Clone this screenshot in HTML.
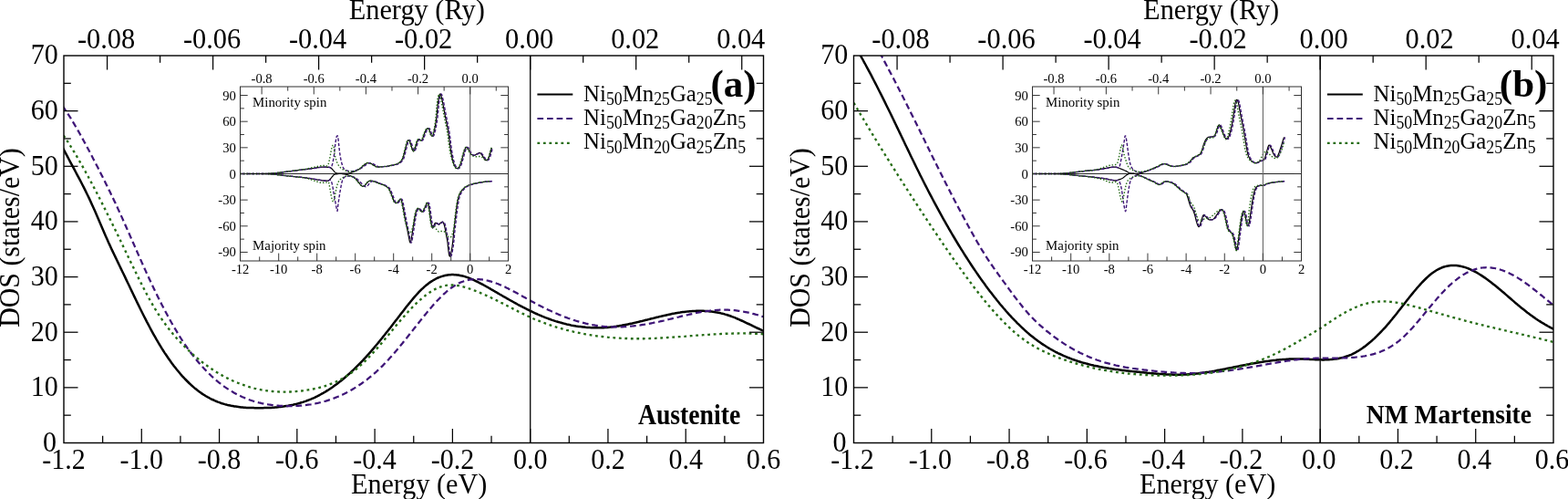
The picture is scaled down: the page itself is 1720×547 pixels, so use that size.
<!DOCTYPE html>
<html><head><meta charset="utf-8"><title>DOS</title>
<style>html,body{margin:0;padding:0;background:#fff}svg{display:block}</style></head>
<body>
<svg width="1720" height="547" viewBox="0 0 1720 547" font-family="'Liberation Serif', 'Times New Roman', serif" fill="#000">
<rect width="1720" height="547" fill="#fff"/>
<clipPath id="clipa"><rect x="70.00" y="61.00" width="767.50" height="424.50"/></clipPath>
<g clip-path="url(#clipa)" fill="none" stroke-linejoin="round">
<path d="M62.0 148.1 L63.5 151.2 L65.0 154.3 L66.5 157.3 L68.0 160.2 L69.5 163.2 L71.0 166.0 L72.5 168.9 L74.0 171.7 L75.5 174.5 L77.0 177.3 L78.5 180.1 L80.0 182.9 L81.5 185.7 L83.0 188.5 L84.5 191.3 L86.0 194.1 L87.5 196.9 L89.0 199.8 L90.5 202.7 L92.0 205.6 L93.5 208.6 L95.0 211.7 L96.5 214.7 L98.0 217.9 L99.5 221.1 L101.0 224.4 L102.5 227.7 L104.0 231.1 L105.5 234.5 L107.0 238.0 L108.5 241.5 L110.0 245.0 L111.5 248.5 L113.0 252.0 L114.5 255.5 L116.0 258.9 L117.5 262.3 L119.0 265.7 L120.5 268.9 L122.0 272.2 L123.5 275.4 L125.0 278.5 L126.5 281.6 L128.0 284.8 L129.5 287.9 L131.0 291.0 L132.5 294.1 L134.0 297.2 L135.5 300.3 L137.0 303.4 L138.5 306.6 L140.0 309.7 L141.5 312.8 L143.0 316.0 L144.5 319.1 L146.0 322.2 L147.5 325.4 L149.0 328.5 L150.5 331.6 L152.0 334.6 L153.5 337.7 L155.0 340.7 L156.5 343.7 L158.0 346.7 L159.5 349.6 L161.0 352.6 L162.5 355.4 L164.0 358.3 L165.5 361.1 L167.0 363.9 L168.5 366.6 L170.0 369.2 L171.5 371.9 L173.0 374.4 L174.5 377.0 L176.0 379.4 L177.5 381.9 L179.0 384.2 L180.5 386.6 L182.0 388.8 L183.5 391.0 L185.0 393.2 L186.5 395.3 L188.0 397.4 L189.5 399.4 L191.0 401.4 L192.5 403.3 L194.0 405.2 L195.5 407.0 L197.0 408.8 L198.5 410.6 L200.0 412.3 L201.5 413.9 L203.0 415.5 L204.5 417.0 L206.0 418.5 L207.5 420.0 L209.0 421.4 L210.5 422.8 L212.0 424.1 L213.5 425.4 L215.0 426.6 L216.5 427.8 L218.0 428.9 L219.5 430.0 L221.0 431.1 L222.5 432.1 L224.0 433.0 L225.5 434.0 L227.0 434.8 L228.5 435.7 L230.0 436.5 L231.5 437.3 L233.0 438.0 L234.5 438.7 L236.0 439.4 L237.5 440.0 L239.0 440.6 L240.5 441.1 L242.0 441.7 L243.5 442.2 L245.0 442.6 L246.5 443.1 L248.0 443.5 L249.5 443.9 L251.0 444.2 L252.5 444.5 L254.0 444.9 L255.5 445.1 L257.0 445.4 L258.5 445.6 L260.0 445.8 L261.5 446.0 L263.0 446.2 L264.5 446.4 L266.0 446.5 L267.5 446.7 L269.0 446.8 L270.5 446.9 L272.0 446.9 L273.5 447.0 L275.0 447.1 L276.5 447.1 L278.0 447.1 L279.5 447.2 L281.0 447.2 L282.5 447.2 L284.0 447.2 L285.5 447.2 L287.0 447.2 L288.5 447.2 L290.0 447.1 L291.5 447.1 L293.0 447.1 L294.5 447.0 L296.0 446.9 L297.5 446.9 L299.0 446.8 L300.5 446.7 L302.0 446.5 L303.5 446.4 L305.0 446.3 L306.5 446.1 L308.0 445.9 L309.5 445.8 L311.0 445.6 L312.5 445.3 L314.0 445.1 L315.5 444.9 L317.0 444.6 L318.5 444.3 L320.0 444.0 L321.5 443.7 L323.0 443.3 L324.5 443.0 L326.0 442.6 L327.5 442.2 L329.0 441.8 L330.5 441.3 L332.0 440.9 L333.5 440.4 L335.0 439.9 L336.5 439.3 L338.0 438.8 L339.5 438.2 L341.0 437.6 L342.5 436.9 L344.0 436.3 L345.5 435.6 L347.0 434.8 L348.5 434.1 L350.0 433.3 L351.5 432.5 L353.0 431.7 L354.5 430.9 L356.0 430.0 L357.5 429.1 L359.0 428.1 L360.5 427.2 L362.0 426.2 L363.5 425.2 L365.0 424.2 L366.5 423.1 L368.0 422.0 L369.5 420.9 L371.0 419.8 L372.5 418.6 L374.0 417.4 L375.5 416.2 L377.0 415.0 L378.5 413.7 L380.0 412.4 L381.5 411.1 L383.0 409.8 L384.5 408.4 L386.0 407.0 L387.5 405.6 L389.0 404.2 L390.5 402.7 L392.0 401.2 L393.5 399.7 L395.0 398.2 L396.5 396.6 L398.0 395.1 L399.5 393.4 L401.0 391.8 L402.5 390.2 L404.0 388.5 L405.5 386.8 L407.0 385.1 L408.5 383.3 L410.0 381.6 L411.5 379.8 L413.0 378.0 L414.5 376.2 L416.0 374.4 L417.5 372.5 L419.0 370.7 L420.5 368.8 L422.0 367.0 L423.5 365.1 L425.0 363.2 L426.5 361.3 L428.0 359.4 L429.5 357.4 L431.0 355.5 L432.5 353.6 L434.0 351.6 L435.5 349.7 L437.0 347.7 L438.5 345.8 L440.0 343.8 L441.5 341.9 L443.0 340.0 L444.5 338.0 L446.0 336.1 L447.5 334.2 L449.0 332.4 L450.5 330.5 L452.0 328.7 L453.5 326.9 L455.0 325.2 L456.5 323.5 L458.0 321.8 L459.5 320.2 L461.0 318.7 L462.5 317.2 L464.0 315.8 L465.5 314.4 L467.0 313.1 L468.5 311.9 L470.0 310.7 L471.5 309.6 L473.0 308.6 L474.5 307.7 L476.0 306.8 L477.5 306.0 L479.0 305.2 L480.5 304.5 L482.0 303.9 L483.5 303.4 L485.0 302.9 L486.5 302.4 L488.0 302.1 L489.5 301.8 L491.0 301.5 L492.5 301.3 L494.0 301.2 L495.5 301.1 L497.0 301.1 L498.5 301.2 L500.0 301.3 L501.5 301.4 L503.0 301.6 L504.5 301.9 L506.0 302.2 L507.5 302.5 L509.0 302.9 L510.5 303.4 L512.0 303.9 L513.5 304.4 L515.0 305.0 L516.5 305.6 L518.0 306.2 L519.5 306.9 L521.0 307.6 L522.5 308.3 L524.0 309.0 L525.5 309.8 L527.0 310.6 L528.5 311.4 L530.0 312.2 L531.5 313.0 L533.0 313.8 L534.5 314.7 L536.0 315.5 L537.5 316.4 L539.0 317.3 L540.5 318.1 L542.0 319.0 L543.5 319.9 L545.0 320.7 L546.5 321.6 L548.0 322.5 L549.5 323.3 L551.0 324.2 L552.5 325.1 L554.0 325.9 L555.5 326.8 L557.0 327.6 L558.5 328.5 L560.0 329.3 L561.5 330.2 L563.0 331.0 L564.5 331.8 L566.0 332.6 L567.5 333.5 L569.0 334.3 L570.5 335.1 L572.0 335.9 L573.5 336.7 L575.0 337.4 L576.5 338.2 L578.0 339.0 L579.5 339.7 L581.0 340.5 L582.5 341.2 L584.0 341.9 L585.5 342.6 L587.0 343.3 L588.5 344.0 L590.0 344.7 L591.5 345.3 L593.0 345.9 L594.5 346.6 L596.0 347.2 L597.5 347.8 L599.0 348.4 L600.5 348.9 L602.0 349.5 L603.5 350.0 L605.0 350.6 L606.5 351.1 L608.0 351.6 L609.5 352.1 L611.0 352.5 L612.5 353.0 L614.0 353.4 L615.5 353.8 L617.0 354.2 L618.5 354.6 L620.0 355.0 L621.5 355.4 L623.0 355.7 L624.5 356.0 L626.0 356.4 L627.5 356.7 L629.0 356.9 L630.5 357.2 L632.0 357.5 L633.5 357.7 L635.0 357.9 L636.5 358.1 L638.0 358.3 L639.5 358.5 L641.0 358.6 L642.5 358.8 L644.0 358.9 L645.5 359.0 L647.0 359.1 L648.5 359.2 L650.0 359.3 L651.5 359.3 L653.0 359.3 L654.5 359.3 L656.0 359.3 L657.5 359.3 L659.0 359.3 L660.5 359.2 L662.0 359.2 L663.5 359.1 L665.0 359.0 L666.5 358.9 L668.0 358.7 L669.5 358.6 L671.0 358.4 L672.5 358.3 L674.0 358.1 L675.5 357.9 L677.0 357.6 L678.5 357.4 L680.0 357.1 L681.5 356.9 L683.0 356.6 L684.5 356.3 L686.0 356.0 L687.5 355.7 L689.0 355.4 L690.5 355.1 L692.0 354.8 L693.5 354.5 L695.0 354.1 L696.5 353.8 L698.0 353.4 L699.5 353.1 L701.0 352.7 L702.5 352.3 L704.0 352.0 L705.5 351.6 L707.0 351.2 L708.5 350.8 L710.0 350.5 L711.5 350.1 L713.0 349.7 L714.5 349.3 L716.0 349.0 L717.5 348.6 L719.0 348.2 L720.5 347.8 L722.0 347.5 L723.5 347.1 L725.0 346.8 L726.5 346.4 L728.0 346.1 L729.5 345.7 L731.0 345.4 L732.5 345.1 L734.0 344.7 L735.5 344.4 L737.0 344.1 L738.5 343.8 L740.0 343.6 L741.5 343.3 L743.0 343.0 L744.5 342.8 L746.0 342.6 L747.5 342.3 L749.0 342.1 L750.5 341.9 L752.0 341.7 L753.5 341.6 L755.0 341.4 L756.5 341.3 L758.0 341.2 L759.5 341.1 L761.0 341.0 L762.5 340.9 L764.0 340.8 L765.5 340.8 L767.0 340.8 L768.5 340.8 L770.0 340.8 L771.5 340.8 L773.0 340.9 L774.5 341.0 L776.0 341.1 L777.5 341.2 L779.0 341.4 L780.5 341.5 L782.0 341.7 L783.5 341.9 L785.0 342.2 L786.5 342.4 L788.0 342.7 L789.5 343.0 L791.0 343.4 L792.5 343.7 L794.0 344.1 L795.5 344.6 L797.0 345.0 L798.5 345.5 L800.0 346.0 L801.5 346.5 L803.0 347.1 L804.5 347.6 L806.0 348.2 L807.5 348.8 L809.0 349.5 L810.5 350.1 L812.0 350.8 L813.5 351.5 L815.0 352.2 L816.5 352.9 L818.0 353.6 L819.5 354.3 L821.0 355.0 L822.5 355.7 L824.0 356.4 L825.5 357.2 L827.0 357.9 L828.5 358.6 L830.0 359.3 L831.5 360.0 L833.0 360.7 L834.5 361.4 L836.0 362.1 L837.5 362.7 L839.0 363.4 L840.5 364.0 L842.0 364.7 L843.5 365.3 L845.0 365.8" stroke="#000" stroke-width="2.5"/>
<path d="M62.0 107.6 L63.5 109.4 L65.0 111.3 L66.5 113.3 L68.0 115.3 L69.5 117.4 L71.0 119.6 L72.5 121.8 L74.0 124.1 L75.5 126.4 L77.0 128.7 L78.5 131.2 L80.0 133.6 L81.5 136.1 L83.0 138.7 L84.5 141.2 L86.0 143.9 L87.5 146.5 L89.0 149.2 L90.5 151.9 L92.0 154.7 L93.5 157.4 L95.0 160.2 L96.5 163.0 L98.0 165.8 L99.5 168.7 L101.0 171.5 L102.5 174.4 L104.0 177.3 L105.5 180.2 L107.0 183.1 L108.5 186.0 L110.0 189.0 L111.5 191.9 L113.0 194.9 L114.5 197.9 L116.0 200.9 L117.5 203.9 L119.0 207.0 L120.5 210.1 L122.0 213.2 L123.5 216.3 L125.0 219.5 L126.5 222.6 L128.0 225.8 L129.5 229.1 L131.0 232.3 L132.5 235.6 L134.0 238.9 L135.5 242.3 L137.0 245.6 L138.5 249.0 L140.0 252.4 L141.5 255.7 L143.0 259.1 L144.5 262.6 L146.0 266.0 L147.5 269.4 L149.0 272.8 L150.5 276.2 L152.0 279.6 L153.5 283.0 L155.0 286.4 L156.5 289.7 L158.0 293.1 L159.5 296.4 L161.0 299.7 L162.5 302.9 L164.0 306.2 L165.5 309.4 L167.0 312.6 L168.5 315.7 L170.0 318.9 L171.5 321.9 L173.0 325.0 L174.5 328.0 L176.0 331.0 L177.5 333.9 L179.0 336.8 L180.5 339.7 L182.0 342.5 L183.5 345.3 L185.0 348.1 L186.5 350.8 L188.0 353.5 L189.5 356.1 L191.0 358.7 L192.5 361.2 L194.0 363.7 L195.5 366.2 L197.0 368.6 L198.5 371.0 L200.0 373.3 L201.5 375.5 L203.0 377.8 L204.5 379.9 L206.0 382.1 L207.5 384.1 L209.0 386.2 L210.5 388.2 L212.0 390.1 L213.5 392.0 L215.0 393.9 L216.5 395.7 L218.0 397.5 L219.5 399.3 L221.0 401.0 L222.5 402.6 L224.0 404.2 L225.5 405.8 L227.0 407.4 L228.5 408.9 L230.0 410.3 L231.5 411.8 L233.0 413.2 L234.5 414.5 L236.0 415.8 L237.5 417.1 L239.0 418.4 L240.5 419.6 L242.0 420.7 L243.5 421.9 L245.0 423.0 L246.5 424.1 L248.0 425.1 L249.5 426.1 L251.0 427.1 L252.5 428.0 L254.0 428.9 L255.5 429.8 L257.0 430.7 L258.5 431.5 L260.0 432.3 L261.5 433.1 L263.0 433.8 L264.5 434.5 L266.0 435.2 L267.5 435.8 L269.0 436.5 L270.5 437.1 L272.0 437.7 L273.5 438.2 L275.0 438.7 L276.5 439.2 L278.0 439.7 L279.5 440.2 L281.0 440.6 L282.5 441.0 L284.0 441.4 L285.5 441.7 L287.0 442.1 L288.5 442.4 L290.0 442.7 L291.5 443.0 L293.0 443.2 L294.5 443.5 L296.0 443.7 L297.5 443.9 L299.0 444.1 L300.5 444.3 L302.0 444.4 L303.5 444.6 L305.0 444.7 L306.5 444.8 L308.0 444.9 L309.5 444.9 L311.0 445.0 L312.5 445.1 L314.0 445.1 L315.5 445.1 L317.0 445.1 L318.5 445.1 L320.0 445.1 L321.5 445.1 L323.0 445.0 L324.5 445.0 L326.0 444.9 L327.5 444.8 L329.0 444.7 L330.5 444.6 L332.0 444.4 L333.5 444.3 L335.0 444.1 L336.5 443.9 L338.0 443.7 L339.5 443.5 L341.0 443.3 L342.5 443.0 L344.0 442.8 L345.5 442.5 L347.0 442.2 L348.5 441.9 L350.0 441.5 L351.5 441.2 L353.0 440.8 L354.5 440.4 L356.0 440.0 L357.5 439.6 L359.0 439.1 L360.5 438.6 L362.0 438.1 L363.5 437.6 L365.0 437.1 L366.5 436.5 L368.0 435.9 L369.5 435.3 L371.0 434.7 L372.5 434.1 L374.0 433.4 L375.5 432.7 L377.0 432.0 L378.5 431.3 L380.0 430.5 L381.5 429.7 L383.0 428.9 L384.5 428.1 L386.0 427.2 L387.5 426.3 L389.0 425.4 L390.5 424.5 L392.0 423.5 L393.5 422.5 L395.0 421.5 L396.5 420.5 L398.0 419.4 L399.5 418.3 L401.0 417.2 L402.5 416.1 L404.0 414.9 L405.5 413.7 L407.0 412.5 L408.5 411.2 L410.0 409.9 L411.5 408.6 L413.0 407.3 L414.5 405.9 L416.0 404.5 L417.5 403.0 L419.0 401.6 L420.5 400.1 L422.0 398.5 L423.5 397.0 L425.0 395.4 L426.5 393.8 L428.0 392.1 L429.5 390.4 L431.0 388.7 L432.5 387.0 L434.0 385.2 L435.5 383.5 L437.0 381.7 L438.5 379.9 L440.0 378.0 L441.5 376.2 L443.0 374.3 L444.5 372.5 L446.0 370.6 L447.5 368.7 L449.0 366.8 L450.5 364.9 L452.0 363.0 L453.5 361.1 L455.0 359.2 L456.5 357.3 L458.0 355.4 L459.5 353.5 L461.0 351.6 L462.5 349.8 L464.0 347.9 L465.5 346.0 L467.0 344.2 L468.5 342.4 L470.0 340.6 L471.5 338.8 L473.0 337.1 L474.5 335.3 L476.0 333.6 L477.5 332.0 L479.0 330.3 L480.5 328.7 L482.0 327.2 L483.5 325.7 L485.0 324.2 L486.5 322.7 L488.0 321.4 L489.5 320.0 L491.0 318.7 L492.5 317.5 L494.0 316.3 L495.5 315.2 L497.0 314.2 L498.5 313.2 L500.0 312.3 L501.5 311.4 L503.0 310.6 L504.5 309.9 L506.0 309.3 L507.5 308.7 L509.0 308.2 L510.5 307.7 L512.0 307.3 L513.5 307.0 L515.0 306.7 L516.5 306.4 L518.0 306.3 L519.5 306.1 L521.0 306.1 L522.5 306.1 L524.0 306.1 L525.5 306.2 L527.0 306.3 L528.5 306.4 L530.0 306.6 L531.5 306.9 L533.0 307.2 L534.5 307.5 L536.0 307.9 L537.5 308.3 L539.0 308.7 L540.5 309.2 L542.0 309.7 L543.5 310.2 L545.0 310.8 L546.5 311.3 L548.0 312.0 L549.5 312.6 L551.0 313.3 L552.5 313.9 L554.0 314.6 L555.5 315.4 L557.0 316.1 L558.5 316.9 L560.0 317.6 L561.5 318.4 L563.0 319.2 L564.5 320.0 L566.0 320.8 L567.5 321.6 L569.0 322.5 L570.5 323.3 L572.0 324.1 L573.5 325.0 L575.0 325.8 L576.5 326.6 L578.0 327.5 L579.5 328.3 L581.0 329.1 L582.5 330.0 L584.0 330.8 L585.5 331.6 L587.0 332.4 L588.5 333.2 L590.0 334.0 L591.5 334.7 L593.0 335.5 L594.5 336.3 L596.0 337.0 L597.5 337.7 L599.0 338.5 L600.5 339.2 L602.0 339.9 L603.5 340.6 L605.0 341.3 L606.5 342.0 L608.0 342.6 L609.5 343.3 L611.0 343.9 L612.5 344.6 L614.0 345.2 L615.5 345.8 L617.0 346.4 L618.5 347.0 L620.0 347.6 L621.5 348.1 L623.0 348.7 L624.5 349.2 L626.0 349.8 L627.5 350.3 L629.0 350.8 L630.5 351.2 L632.0 351.7 L633.5 352.2 L635.0 352.6 L636.5 353.0 L638.0 353.5 L639.5 353.8 L641.0 354.2 L642.5 354.6 L644.0 354.9 L645.5 355.3 L647.0 355.6 L648.5 355.9 L650.0 356.2 L651.5 356.4 L653.0 356.7 L654.5 356.9 L656.0 357.1 L657.5 357.3 L659.0 357.5 L660.5 357.7 L662.0 357.8 L663.5 358.0 L665.0 358.1 L666.5 358.2 L668.0 358.2 L669.5 358.3 L671.0 358.4 L672.5 358.4 L674.0 358.4 L675.5 358.4 L677.0 358.4 L678.5 358.4 L680.0 358.4 L681.5 358.3 L683.0 358.3 L684.5 358.2 L686.0 358.1 L687.5 358.0 L689.0 357.9 L690.5 357.8 L692.0 357.6 L693.5 357.5 L695.0 357.3 L696.5 357.1 L698.0 357.0 L699.5 356.8 L701.0 356.6 L702.5 356.4 L704.0 356.1 L705.5 355.9 L707.0 355.7 L708.5 355.4 L710.0 355.2 L711.5 354.9 L713.0 354.6 L714.5 354.3 L716.0 354.0 L717.5 353.7 L719.0 353.4 L720.5 353.1 L722.0 352.8 L723.5 352.5 L725.0 352.1 L726.5 351.8 L728.0 351.5 L729.5 351.1 L731.0 350.8 L732.5 350.4 L734.0 350.0 L735.5 349.7 L737.0 349.3 L738.5 348.9 L740.0 348.6 L741.5 348.2 L743.0 347.8 L744.5 347.5 L746.0 347.1 L747.5 346.7 L749.0 346.4 L750.5 346.0 L752.0 345.7 L753.5 345.3 L755.0 345.0 L756.5 344.6 L758.0 344.3 L759.5 344.0 L761.0 343.6 L762.5 343.3 L764.0 343.0 L765.5 342.7 L767.0 342.5 L768.5 342.2 L770.0 341.9 L771.5 341.7 L773.0 341.4 L774.5 341.2 L776.0 341.0 L777.5 340.8 L779.0 340.6 L780.5 340.4 L782.0 340.3 L783.5 340.1 L785.0 340.0 L786.5 339.9 L788.0 339.8 L789.5 339.7 L791.0 339.7 L792.5 339.6 L794.0 339.6 L795.5 339.6 L797.0 339.7 L798.5 339.7 L800.0 339.8 L801.5 339.9 L803.0 340.0 L804.5 340.1 L806.0 340.2 L807.5 340.4 L809.0 340.6 L810.5 340.8 L812.0 341.0 L813.5 341.3 L815.0 341.5 L816.5 341.8 L818.0 342.1 L819.5 342.4 L821.0 342.7 L822.5 343.1 L824.0 343.4 L825.5 343.8 L827.0 344.2 L828.5 344.6 L830.0 345.0 L831.5 345.4 L833.0 345.9 L834.5 346.4 L836.0 346.8 L837.5 347.3 L839.0 347.8 L840.5 348.3 L842.0 348.9 L843.5 349.4 L845.0 350.0" stroke="#3f1678" stroke-width="2.25" stroke-dasharray="6.7 3.8"/>
<path d="M62.0 138.0 L63.5 140.0 L65.0 142.0 L66.5 144.0 L68.0 146.1 L69.5 148.2 L71.0 150.4 L72.5 152.6 L74.0 154.9 L75.5 157.2 L77.0 159.6 L78.5 162.0 L80.0 164.4 L81.5 166.9 L83.0 169.4 L84.5 171.9 L86.0 174.5 L87.5 177.1 L89.0 179.7 L90.5 182.4 L92.0 185.0 L93.5 187.8 L95.0 190.5 L96.5 193.3 L98.0 196.0 L99.5 198.8 L101.0 201.7 L102.5 204.5 L104.0 207.4 L105.5 210.2 L107.0 213.1 L108.5 216.0 L110.0 219.0 L111.5 221.9 L113.0 224.9 L114.5 227.9 L116.0 230.8 L117.5 233.9 L119.0 236.9 L120.5 239.9 L122.0 242.9 L123.5 246.0 L125.0 249.1 L126.5 252.1 L128.0 255.2 L129.5 258.3 L131.0 261.4 L132.5 264.5 L134.0 267.7 L135.5 270.8 L137.0 273.9 L138.5 277.1 L140.0 280.2 L141.5 283.3 L143.0 286.4 L144.5 289.5 L146.0 292.6 L147.5 295.7 L149.0 298.8 L150.5 301.9 L152.0 304.9 L153.5 307.9 L155.0 310.9 L156.5 313.9 L158.0 316.8 L159.5 319.7 L161.0 322.5 L162.5 325.3 L164.0 328.0 L165.5 330.7 L167.0 333.3 L168.5 335.9 L170.0 338.4 L171.5 340.8 L173.0 343.2 L174.5 345.5 L176.0 347.7 L177.5 349.9 L179.0 352.1 L180.5 354.2 L182.0 356.2 L183.5 358.2 L185.0 360.2 L186.5 362.1 L188.0 363.9 L189.5 365.8 L191.0 367.5 L192.5 369.3 L194.0 371.0 L195.5 372.6 L197.0 374.2 L198.5 375.8 L200.0 377.4 L201.5 378.9 L203.0 380.4 L204.5 381.9 L206.0 383.3 L207.5 384.7 L209.0 386.1 L210.5 387.5 L212.0 388.8 L213.5 390.1 L215.0 391.4 L216.5 392.7 L218.0 393.9 L219.5 395.1 L221.0 396.3 L222.5 397.5 L224.0 398.6 L225.5 399.7 L227.0 400.8 L228.5 401.9 L230.0 403.0 L231.5 404.0 L233.0 405.0 L234.5 406.0 L236.0 407.0 L237.5 407.9 L239.0 408.8 L240.5 409.7 L242.0 410.6 L243.5 411.4 L245.0 412.3 L246.5 413.1 L248.0 413.9 L249.5 414.6 L251.0 415.4 L252.5 416.1 L254.0 416.8 L255.5 417.5 L257.0 418.2 L258.5 418.8 L260.0 419.4 L261.5 420.0 L263.0 420.6 L264.5 421.2 L266.0 421.7 L267.5 422.2 L269.0 422.8 L270.5 423.2 L272.0 423.7 L273.5 424.2 L275.0 424.6 L276.5 425.0 L278.0 425.4 L279.5 425.8 L281.0 426.1 L282.5 426.5 L284.0 426.8 L285.5 427.1 L287.0 427.4 L288.5 427.6 L290.0 427.9 L291.5 428.1 L293.0 428.3 L294.5 428.5 L296.0 428.7 L297.5 428.9 L299.0 429.0 L300.5 429.1 L302.0 429.2 L303.5 429.3 L305.0 429.4 L306.5 429.5 L308.0 429.5 L309.5 429.6 L311.0 429.6 L312.5 429.6 L314.0 429.6 L315.5 429.6 L317.0 429.5 L318.5 429.5 L320.0 429.4 L321.5 429.3 L323.0 429.2 L324.5 429.1 L326.0 428.9 L327.5 428.8 L329.0 428.6 L330.5 428.5 L332.0 428.3 L333.5 428.1 L335.0 427.9 L336.5 427.6 L338.0 427.4 L339.5 427.2 L341.0 426.9 L342.5 426.6 L344.0 426.3 L345.5 426.0 L347.0 425.7 L348.5 425.3 L350.0 425.0 L351.5 424.6 L353.0 424.2 L354.5 423.7 L356.0 423.3 L357.5 422.8 L359.0 422.3 L360.5 421.8 L362.0 421.2 L363.5 420.6 L365.0 420.0 L366.5 419.4 L368.0 418.7 L369.5 418.0 L371.0 417.3 L372.5 416.6 L374.0 415.8 L375.5 415.0 L377.0 414.1 L378.5 413.2 L380.0 412.3 L381.5 411.3 L383.0 410.3 L384.5 409.3 L386.0 408.2 L387.5 407.1 L389.0 406.0 L390.5 404.8 L392.0 403.5 L393.5 402.2 L395.0 400.9 L396.5 399.6 L398.0 398.2 L399.5 396.7 L401.0 395.3 L402.5 393.8 L404.0 392.3 L405.5 390.7 L407.0 389.1 L408.5 387.5 L410.0 385.9 L411.5 384.2 L413.0 382.6 L414.5 380.9 L416.0 379.1 L417.5 377.4 L419.0 375.7 L420.5 373.9 L422.0 372.1 L423.5 370.3 L425.0 368.5 L426.5 366.7 L428.0 364.9 L429.5 363.0 L431.0 361.2 L432.5 359.4 L434.0 357.6 L435.5 355.8 L437.0 354.0 L438.5 352.3 L440.0 350.5 L441.5 348.8 L443.0 347.1 L444.5 345.4 L446.0 343.7 L447.5 342.0 L449.0 340.4 L450.5 338.8 L452.0 337.2 L453.5 335.7 L455.0 334.2 L456.5 332.7 L458.0 331.3 L459.5 329.9 L461.0 328.6 L462.5 327.3 L464.0 326.0 L465.5 324.8 L467.0 323.6 L468.5 322.5 L470.0 321.4 L471.5 320.4 L473.0 319.4 L474.5 318.5 L476.0 317.7 L477.5 316.9 L479.0 316.2 L480.5 315.5 L482.0 314.9 L483.5 314.4 L485.0 313.9 L486.5 313.5 L488.0 313.1 L489.5 312.9 L491.0 312.7 L492.5 312.6 L494.0 312.5 L495.5 312.5 L497.0 312.5 L498.5 312.6 L500.0 312.8 L501.5 313.0 L503.0 313.2 L504.5 313.5 L506.0 313.8 L507.5 314.2 L509.0 314.6 L510.5 315.0 L512.0 315.5 L513.5 316.0 L515.0 316.5 L516.5 317.0 L518.0 317.5 L519.5 318.1 L521.0 318.7 L522.5 319.3 L524.0 319.9 L525.5 320.5 L527.0 321.1 L528.5 321.8 L530.0 322.4 L531.5 323.1 L533.0 323.7 L534.5 324.4 L536.0 325.1 L537.5 325.8 L539.0 326.5 L540.5 327.2 L542.0 328.0 L543.5 328.7 L545.0 329.4 L546.5 330.2 L548.0 330.9 L549.5 331.7 L551.0 332.4 L552.5 333.2 L554.0 334.0 L555.5 334.7 L557.0 335.5 L558.5 336.3 L560.0 337.1 L561.5 337.8 L563.0 338.6 L564.5 339.4 L566.0 340.1 L567.5 340.9 L569.0 341.7 L570.5 342.4 L572.0 343.2 L573.5 343.9 L575.0 344.6 L576.5 345.4 L578.0 346.1 L579.5 346.8 L581.0 347.5 L582.5 348.1 L584.0 348.8 L585.5 349.5 L587.0 350.1 L588.5 350.7 L590.0 351.3 L591.5 351.9 L593.0 352.5 L594.5 353.1 L596.0 353.7 L597.5 354.2 L599.0 354.8 L600.5 355.3 L602.0 355.9 L603.5 356.4 L605.0 356.9 L606.5 357.4 L608.0 357.9 L609.5 358.3 L611.0 358.8 L612.5 359.2 L614.0 359.7 L615.5 360.1 L617.0 360.5 L618.5 361.0 L620.0 361.4 L621.5 361.8 L623.0 362.1 L624.5 362.5 L626.0 362.9 L627.5 363.2 L629.0 363.6 L630.5 363.9 L632.0 364.3 L633.5 364.6 L635.0 364.9 L636.5 365.2 L638.0 365.5 L639.5 365.8 L641.0 366.1 L642.5 366.4 L644.0 366.6 L645.5 366.9 L647.0 367.1 L648.5 367.4 L650.0 367.6 L651.5 367.8 L653.0 368.1 L654.5 368.3 L656.0 368.5 L657.5 368.7 L659.0 368.9 L660.5 369.0 L662.0 369.2 L663.5 369.4 L665.0 369.5 L666.5 369.7 L668.0 369.8 L669.5 370.0 L671.0 370.1 L672.5 370.2 L674.0 370.3 L675.5 370.4 L677.0 370.5 L678.5 370.6 L680.0 370.7 L681.5 370.8 L683.0 370.9 L684.5 370.9 L686.0 371.0 L687.5 371.0 L689.0 371.1 L690.5 371.1 L692.0 371.2 L693.5 371.2 L695.0 371.2 L696.5 371.2 L698.0 371.2 L699.5 371.2 L701.0 371.2 L702.5 371.2 L704.0 371.2 L705.5 371.2 L707.0 371.2 L708.5 371.1 L710.0 371.1 L711.5 371.1 L713.0 371.0 L714.5 371.0 L716.0 370.9 L717.5 370.8 L719.0 370.8 L720.5 370.7 L722.0 370.6 L723.5 370.6 L725.0 370.5 L726.5 370.4 L728.0 370.3 L729.5 370.2 L731.0 370.1 L732.5 370.0 L734.0 369.9 L735.5 369.9 L737.0 369.7 L738.5 369.6 L740.0 369.5 L741.5 369.4 L743.0 369.3 L744.5 369.2 L746.0 369.1 L747.5 369.0 L749.0 368.9 L750.5 368.8 L752.0 368.7 L753.5 368.5 L755.0 368.4 L756.5 368.3 L758.0 368.2 L759.5 368.1 L761.0 368.0 L762.5 367.9 L764.0 367.7 L765.5 367.6 L767.0 367.5 L768.5 367.4 L770.0 367.3 L771.5 367.2 L773.0 367.1 L774.5 367.0 L776.0 366.9 L777.5 366.8 L779.0 366.7 L780.5 366.6 L782.0 366.5 L783.5 366.4 L785.0 366.3 L786.5 366.2 L788.0 366.1 L789.5 366.1 L791.0 366.0 L792.5 365.9 L794.0 365.9 L795.5 365.8 L797.0 365.7 L798.5 365.7 L800.0 365.6 L801.5 365.6 L803.0 365.6 L804.5 365.5 L806.0 365.5 L807.5 365.5 L809.0 365.5 L810.5 365.4 L812.0 365.4 L813.5 365.4 L815.0 365.4 L816.5 365.4 L818.0 365.5 L819.5 365.5 L821.0 365.5 L822.5 365.6 L824.0 365.6 L825.5 365.7 L827.0 365.7 L828.5 365.8 L830.0 365.9 L831.5 365.9 L833.0 366.0 L834.5 366.1 L836.0 366.2 L837.5 366.4 L839.0 366.5 L840.5 366.6 L842.0 366.8 L843.5 366.9 L845.0 367.1" stroke="#266d16" stroke-width="2.35" stroke-dasharray="2.8 3.7"/>
</g>
<line x1="581.67" y1="61.00" x2="581.67" y2="485.50" stroke="#111" stroke-width="1.4" />
<rect x="70.00" y="61.00" width="767.50" height="424.50" fill="none" stroke="#000" stroke-width="1.4"/>
<text x="70.00" y="514.40" font-size="32.4" text-anchor="middle" textLength="47.49" lengthAdjust="spacingAndGlyphs">-1.2</text>
<line x1="112.64" y1="485.50" x2="112.64" y2="477.70" stroke="#000" stroke-width="1.25" />
<line x1="155.28" y1="485.50" x2="155.28" y2="470.00" stroke="#000" stroke-width="1.25" />
<text x="155.28" y="514.40" font-size="32.4" text-anchor="middle" textLength="47.49" lengthAdjust="spacingAndGlyphs">-1.0</text>
<line x1="197.92" y1="485.50" x2="197.92" y2="477.70" stroke="#000" stroke-width="1.25" />
<line x1="240.56" y1="485.50" x2="240.56" y2="470.00" stroke="#000" stroke-width="1.25" />
<text x="240.56" y="514.40" font-size="32.4" text-anchor="middle" textLength="47.49" lengthAdjust="spacingAndGlyphs">-0.8</text>
<line x1="283.19" y1="485.50" x2="283.19" y2="477.70" stroke="#000" stroke-width="1.25" />
<line x1="325.83" y1="485.50" x2="325.83" y2="470.00" stroke="#000" stroke-width="1.25" />
<text x="325.83" y="514.40" font-size="32.4" text-anchor="middle" textLength="47.49" lengthAdjust="spacingAndGlyphs">-0.6</text>
<line x1="368.47" y1="485.50" x2="368.47" y2="477.70" stroke="#000" stroke-width="1.25" />
<line x1="411.11" y1="485.50" x2="411.11" y2="470.00" stroke="#000" stroke-width="1.25" />
<text x="411.11" y="514.40" font-size="32.4" text-anchor="middle" textLength="47.49" lengthAdjust="spacingAndGlyphs">-0.4</text>
<line x1="453.75" y1="485.50" x2="453.75" y2="477.70" stroke="#000" stroke-width="1.25" />
<line x1="496.39" y1="485.50" x2="496.39" y2="470.00" stroke="#000" stroke-width="1.25" />
<text x="496.39" y="514.40" font-size="32.4" text-anchor="middle" textLength="47.49" lengthAdjust="spacingAndGlyphs">-0.2</text>
<line x1="539.03" y1="485.50" x2="539.03" y2="477.70" stroke="#000" stroke-width="1.25" />
<line x1="581.67" y1="485.50" x2="581.67" y2="470.00" stroke="#000" stroke-width="1.25" />
<text x="581.67" y="514.40" font-size="32.4" text-anchor="middle" textLength="37.50" lengthAdjust="spacingAndGlyphs">0.0</text>
<line x1="624.31" y1="485.50" x2="624.31" y2="477.70" stroke="#000" stroke-width="1.25" />
<line x1="666.94" y1="485.50" x2="666.94" y2="470.00" stroke="#000" stroke-width="1.25" />
<text x="666.94" y="514.40" font-size="32.4" text-anchor="middle" textLength="37.50" lengthAdjust="spacingAndGlyphs">0.2</text>
<line x1="709.58" y1="485.50" x2="709.58" y2="477.70" stroke="#000" stroke-width="1.25" />
<line x1="752.22" y1="485.50" x2="752.22" y2="470.00" stroke="#000" stroke-width="1.25" />
<text x="752.22" y="514.40" font-size="32.4" text-anchor="middle" textLength="37.50" lengthAdjust="spacingAndGlyphs">0.4</text>
<line x1="794.86" y1="485.50" x2="794.86" y2="477.70" stroke="#000" stroke-width="1.25" />
<text x="837.50" y="514.40" font-size="32.4" text-anchor="middle" textLength="37.50" lengthAdjust="spacingAndGlyphs">0.6</text>
<line x1="117.56" y1="61.00" x2="117.56" y2="76.50" stroke="#000" stroke-width="1.25" />
<text x="116.56" y="53.00" font-size="32.4" text-anchor="middle" textLength="63.24" lengthAdjust="spacingAndGlyphs">-0.08</text>
<line x1="175.57" y1="61.00" x2="175.57" y2="68.80" stroke="#000" stroke-width="1.25" />
<line x1="233.59" y1="61.00" x2="233.59" y2="76.50" stroke="#000" stroke-width="1.25" />
<text x="232.59" y="53.00" font-size="32.4" text-anchor="middle" textLength="63.24" lengthAdjust="spacingAndGlyphs">-0.06</text>
<line x1="291.60" y1="61.00" x2="291.60" y2="68.80" stroke="#000" stroke-width="1.25" />
<line x1="349.61" y1="61.00" x2="349.61" y2="76.50" stroke="#000" stroke-width="1.25" />
<text x="348.61" y="53.00" font-size="32.4" text-anchor="middle" textLength="63.24" lengthAdjust="spacingAndGlyphs">-0.04</text>
<line x1="407.63" y1="61.00" x2="407.63" y2="68.80" stroke="#000" stroke-width="1.25" />
<line x1="465.64" y1="61.00" x2="465.64" y2="76.50" stroke="#000" stroke-width="1.25" />
<text x="464.64" y="53.00" font-size="32.4" text-anchor="middle" textLength="63.24" lengthAdjust="spacingAndGlyphs">-0.02</text>
<line x1="523.65" y1="61.00" x2="523.65" y2="68.80" stroke="#000" stroke-width="1.25" />
<line x1="581.67" y1="61.00" x2="581.67" y2="76.50" stroke="#000" stroke-width="1.25" />
<text x="580.67" y="53.00" font-size="32.4" text-anchor="middle" textLength="53.13" lengthAdjust="spacingAndGlyphs">0.00</text>
<line x1="639.68" y1="61.00" x2="639.68" y2="68.80" stroke="#000" stroke-width="1.25" />
<line x1="697.69" y1="61.00" x2="697.69" y2="76.50" stroke="#000" stroke-width="1.25" />
<text x="696.69" y="53.00" font-size="32.4" text-anchor="middle" textLength="53.13" lengthAdjust="spacingAndGlyphs">0.02</text>
<line x1="755.71" y1="61.00" x2="755.71" y2="68.80" stroke="#000" stroke-width="1.25" />
<line x1="813.72" y1="61.00" x2="813.72" y2="76.50" stroke="#000" stroke-width="1.25" />
<text x="812.72" y="53.00" font-size="32.4" text-anchor="middle" textLength="53.13" lengthAdjust="spacingAndGlyphs">0.04</text>
<text x="62.00" y="494.90" font-size="32.4" text-anchor="end" textLength="15.00" lengthAdjust="spacingAndGlyphs">0</text>
<line x1="70.00" y1="455.18" x2="77.80" y2="455.18" stroke="#000" stroke-width="1.25" />
<line x1="837.50" y1="455.18" x2="829.70" y2="455.18" stroke="#000" stroke-width="1.25" />
<line x1="70.00" y1="424.86" x2="85.50" y2="424.86" stroke="#000" stroke-width="1.25" />
<line x1="837.50" y1="424.86" x2="822.00" y2="424.86" stroke="#000" stroke-width="1.25" />
<text x="63.70" y="434.26" font-size="32.4" text-anchor="end" textLength="30.00" lengthAdjust="spacingAndGlyphs">10</text>
<line x1="70.00" y1="394.54" x2="77.80" y2="394.54" stroke="#000" stroke-width="1.25" />
<line x1="837.50" y1="394.54" x2="829.70" y2="394.54" stroke="#000" stroke-width="1.25" />
<line x1="70.00" y1="364.21" x2="85.50" y2="364.21" stroke="#000" stroke-width="1.25" />
<line x1="837.50" y1="364.21" x2="822.00" y2="364.21" stroke="#000" stroke-width="1.25" />
<text x="63.70" y="373.61" font-size="32.4" text-anchor="end" textLength="30.00" lengthAdjust="spacingAndGlyphs">20</text>
<line x1="70.00" y1="333.89" x2="77.80" y2="333.89" stroke="#000" stroke-width="1.25" />
<line x1="837.50" y1="333.89" x2="829.70" y2="333.89" stroke="#000" stroke-width="1.25" />
<line x1="70.00" y1="303.57" x2="85.50" y2="303.57" stroke="#000" stroke-width="1.25" />
<line x1="837.50" y1="303.57" x2="822.00" y2="303.57" stroke="#000" stroke-width="1.25" />
<text x="63.70" y="312.97" font-size="32.4" text-anchor="end" textLength="30.00" lengthAdjust="spacingAndGlyphs">30</text>
<line x1="70.00" y1="273.25" x2="77.80" y2="273.25" stroke="#000" stroke-width="1.25" />
<line x1="837.50" y1="273.25" x2="829.70" y2="273.25" stroke="#000" stroke-width="1.25" />
<line x1="70.00" y1="242.93" x2="85.50" y2="242.93" stroke="#000" stroke-width="1.25" />
<line x1="837.50" y1="242.93" x2="822.00" y2="242.93" stroke="#000" stroke-width="1.25" />
<text x="63.70" y="252.33" font-size="32.4" text-anchor="end" textLength="30.00" lengthAdjust="spacingAndGlyphs">40</text>
<line x1="70.00" y1="212.61" x2="77.80" y2="212.61" stroke="#000" stroke-width="1.25" />
<line x1="837.50" y1="212.61" x2="829.70" y2="212.61" stroke="#000" stroke-width="1.25" />
<line x1="70.00" y1="182.29" x2="85.50" y2="182.29" stroke="#000" stroke-width="1.25" />
<line x1="837.50" y1="182.29" x2="822.00" y2="182.29" stroke="#000" stroke-width="1.25" />
<text x="63.70" y="191.69" font-size="32.4" text-anchor="end" textLength="30.00" lengthAdjust="spacingAndGlyphs">50</text>
<line x1="70.00" y1="151.96" x2="77.80" y2="151.96" stroke="#000" stroke-width="1.25" />
<line x1="837.50" y1="151.96" x2="829.70" y2="151.96" stroke="#000" stroke-width="1.25" />
<line x1="70.00" y1="121.64" x2="85.50" y2="121.64" stroke="#000" stroke-width="1.25" />
<line x1="837.50" y1="121.64" x2="822.00" y2="121.64" stroke="#000" stroke-width="1.25" />
<text x="63.70" y="131.04" font-size="32.4" text-anchor="end" textLength="30.00" lengthAdjust="spacingAndGlyphs">60</text>
<line x1="70.00" y1="91.32" x2="77.80" y2="91.32" stroke="#000" stroke-width="1.25" />
<line x1="837.50" y1="91.32" x2="829.70" y2="91.32" stroke="#000" stroke-width="1.25" />
<text x="63.70" y="70.40" font-size="32.4" text-anchor="end" textLength="30.00" lengthAdjust="spacingAndGlyphs">70</text>
<text x="457.25" y="21.1" font-size="31" text-anchor="middle" textLength="149.1" lengthAdjust="spacingAndGlyphs">Energy (Ry)</text>
<text x="459.60" y="540.5" font-size="31" text-anchor="middle" textLength="149.2" lengthAdjust="spacingAndGlyphs">Energy (eV)</text>
<text transform="translate(21.20,260.5) rotate(-90)" font-size="31" text-anchor="middle" textLength="196.6" lengthAdjust="spacingAndGlyphs">DOS (states/eV)</text>
<line x1="589.40" y1="103.60" x2="628.30" y2="103.60" stroke="#000" stroke-width="2.0" />
<line x1="589.40" y1="130.00" x2="628.30" y2="130.00" stroke="#3f1678" stroke-width="1.9" stroke-dasharray="6.7 3.9"/>
<line x1="589.40" y1="156.80" x2="628.30" y2="156.80" stroke="#266d16" stroke-width="2.15" stroke-dasharray="2.8 3.7"/>
<text x="640.10" y="110.50" font-size="24.8">Ni</text>
<text x="664.90" y="114.90" font-size="20" textLength="17.80" lengthAdjust="spacingAndGlyphs">50</text>
<text x="682.70" y="110.50" font-size="24.8">Mn</text>
<text x="717.15" y="114.90" font-size="20" textLength="17.80" lengthAdjust="spacingAndGlyphs">25</text>
<text x="734.95" y="110.50" font-size="24.8">Ga</text>
<text x="763.86" y="114.90" font-size="20" textLength="17.80" lengthAdjust="spacingAndGlyphs">25</text>
<text x="640.10" y="136.90" font-size="24.8">Ni</text>
<text x="664.90" y="141.30" font-size="20" textLength="17.80" lengthAdjust="spacingAndGlyphs">50</text>
<text x="682.70" y="136.90" font-size="24.8">Mn</text>
<text x="717.15" y="141.30" font-size="20" textLength="17.80" lengthAdjust="spacingAndGlyphs">25</text>
<text x="734.95" y="136.90" font-size="24.8">Ga</text>
<text x="763.86" y="141.30" font-size="20" textLength="17.80" lengthAdjust="spacingAndGlyphs">20</text>
<text x="781.66" y="136.90" font-size="24.8">Zn</text>
<text x="809.22" y="141.30" font-size="20" textLength="8.90" lengthAdjust="spacingAndGlyphs">5</text>
<text x="640.10" y="163.30" font-size="24.8">Ni</text>
<text x="664.90" y="167.70" font-size="20" textLength="17.80" lengthAdjust="spacingAndGlyphs">50</text>
<text x="682.70" y="163.30" font-size="24.8">Mn</text>
<text x="717.15" y="167.70" font-size="20" textLength="17.80" lengthAdjust="spacingAndGlyphs">20</text>
<text x="734.95" y="163.30" font-size="24.8">Ga</text>
<text x="763.86" y="167.70" font-size="20" textLength="17.80" lengthAdjust="spacingAndGlyphs">25</text>
<text x="781.66" y="163.30" font-size="24.8">Zn</text>
<text x="809.22" y="167.70" font-size="20" textLength="8.90" lengthAdjust="spacingAndGlyphs">5</text>
<text x="804.60" y="106.40" font-size="43" text-anchor="middle" font-weight="bold" >(a)</text>
<text x="812.20" y="464.50" font-size="30.5" text-anchor="end" font-weight="bold" textLength="112.3" lengthAdjust="spacingAndGlyphs">Austenite</text>
<rect x="263.50" y="95.00" width="294.00" height="191.00" fill="#fff" stroke="none"/>
<g fill="none" stroke-linejoin="round">
<path d="M264.0 190.5 L264.5 190.5 L265.0 190.5 L265.5 190.5 L266.0 190.5 L266.5 190.5 L267.0 190.5 L267.5 190.5 L268.0 190.5 L268.5 190.5 L269.0 190.5 L269.5 190.5 L270.0 190.5 L270.5 190.5 L271.0 190.5 L271.5 190.5 L272.0 190.5 L272.5 190.5 L273.0 190.5 L273.5 190.5 L274.0 190.5 L274.5 190.5 L275.0 190.5 L275.5 190.5 L276.0 190.5 L276.5 190.5 L277.0 190.5 L277.5 190.5 L278.0 190.5 L278.5 190.5 L279.0 190.5 L279.5 190.5 L280.0 190.5 L280.5 190.5 L281.0 190.5 L281.5 190.5 L282.0 190.5 L282.5 190.5 L283.0 190.5 L283.5 190.5 L284.0 190.5 L284.5 190.5 L285.0 190.5 L285.5 190.5 L286.0 190.5 L286.5 190.5 L287.0 190.5 L287.5 190.4 L288.0 190.4 L288.5 190.4 L289.0 190.4 L289.5 190.4 L290.0 190.4 L290.5 190.4 L291.0 190.4 L291.5 190.4 L292.0 190.4 L292.5 190.4 L293.0 190.4 L293.5 190.3 L294.0 190.3 L294.5 190.3 L295.0 190.3 L295.5 190.2 L296.0 190.2 L296.5 190.2 L297.0 190.2 L297.5 190.1 L298.0 190.1 L298.5 190.0 L299.0 190.0 L299.5 189.9 L300.0 189.9 L300.5 189.8 L301.0 189.8 L301.5 189.7 L302.0 189.7 L302.5 189.6 L303.0 189.6 L303.5 189.5 L304.0 189.5 L304.5 189.4 L305.0 189.4 L305.5 189.3 L306.0 189.3 L306.5 189.2 L307.0 189.1 L307.5 189.1 L308.0 189.0 L308.5 189.0 L309.0 188.9 L309.5 188.8 L310.0 188.8 L310.5 188.7 L311.0 188.6 L311.5 188.6 L312.0 188.5 L312.5 188.4 L313.0 188.4 L313.5 188.3 L314.0 188.2 L314.5 188.2 L315.0 188.1 L315.5 188.0 L316.0 188.0 L316.5 187.9 L317.0 187.8 L317.5 187.8 L318.0 187.7 L318.5 187.6 L319.0 187.6 L319.5 187.5 L320.0 187.4 L320.5 187.4 L321.0 187.3 L321.5 187.3 L322.0 187.2 L322.5 187.1 L323.0 187.1 L323.5 187.0 L324.0 186.9 L324.5 186.9 L325.0 186.8 L325.5 186.7 L326.0 186.7 L326.5 186.6 L327.0 186.6 L327.5 186.5 L328.0 186.4 L328.5 186.4 L329.0 186.3 L329.5 186.3 L330.0 186.2 L330.5 186.1 L331.0 186.1 L331.5 186.0 L332.0 185.9 L332.5 185.9 L333.0 185.8 L333.5 185.8 L334.0 185.7 L334.5 185.6 L335.0 185.6 L335.5 185.5 L336.0 185.5 L336.5 185.4 L337.0 185.3 L337.5 185.3 L338.0 185.2 L338.5 185.2 L339.0 185.1 L339.5 185.1 L340.0 185.0 L340.5 184.9 L341.0 184.9 L341.5 184.8 L342.0 184.7 L342.5 184.7 L343.0 184.6 L343.5 184.5 L344.0 184.5 L344.5 184.4 L345.0 184.3 L345.5 184.2 L346.0 184.1 L346.5 184.0 L347.0 183.9 L347.5 183.9 L348.0 183.8 L348.5 183.7 L349.0 183.6 L349.5 183.5 L350.0 183.5 L350.5 183.4 L351.0 183.4 L351.5 183.3 L352.0 183.3 L352.5 183.2 L353.0 183.2 L353.5 183.2 L354.0 183.1 L354.5 183.1 L355.0 183.1 L355.5 183.1 L356.0 183.1 L356.5 183.1 L357.0 183.1 L357.5 183.2 L358.0 183.2 L358.5 183.2 L359.0 183.3 L359.5 183.3 L360.0 183.3 L360.5 183.3 L361.0 183.3 L361.5 183.4 L362.0 183.5 L362.5 183.7 L363.0 184.0 L363.5 184.4 L364.0 185.0 L364.5 185.5 L365.0 186.1 L365.5 186.7 L366.0 187.2 L366.5 187.8 L367.0 188.4 L367.5 188.9 L368.0 189.3 L368.5 189.6 L369.0 189.8 L369.5 189.9 L370.0 190.0 L370.5 190.0 L371.0 190.0 L371.5 190.1 L372.0 190.1 L372.5 190.1 L373.0 190.2 L373.5 190.2 L374.0 190.2 L374.5 190.2 L375.0 190.2 L375.5 190.2 L376.0 190.2 L376.5 190.2 L377.0 190.2 L377.5 190.2 L378.0 190.2 L378.5 190.2 L379.0 190.2 L379.5 190.2 L380.0 190.2 L380.5 190.2 L381.0 190.2 L381.5 190.1 L382.0 190.1 L382.5 190.0 L383.0 189.9 L383.5 189.8 L384.0 189.7 L384.5 189.5 L385.0 189.4 L385.5 189.2 L386.0 189.0 L386.5 188.8 L387.0 188.7 L387.5 188.5 L388.0 188.3 L388.5 188.1 L389.0 187.9 L389.5 187.7 L390.0 187.5 L390.5 187.3 L391.0 187.1 L391.5 186.8 L392.0 186.6 L392.5 186.3 L393.0 186.0 L393.5 185.8 L394.0 185.4 L394.5 185.1 L395.0 184.7 L395.5 184.4 L396.0 184.0 L396.5 183.5 L397.0 183.0 L397.5 182.6 L398.0 182.1 L398.5 181.6 L399.0 181.2 L399.5 180.8 L400.0 180.4 L400.5 180.0 L401.0 179.7 L401.5 179.3 L402.0 179.0 L402.5 178.7 L403.0 178.6 L403.5 178.5 L404.0 178.5 L404.5 178.5 L405.0 178.6 L405.5 178.7 L406.0 178.9 L406.5 179.1 L407.0 179.3 L407.5 179.6 L408.0 179.9 L408.5 180.3 L409.0 180.6 L409.5 180.9 L410.0 181.3 L410.5 181.6 L411.0 181.8 L411.5 182.1 L412.0 182.4 L412.5 182.6 L413.0 182.8 L413.5 182.9 L414.0 183.0 L414.5 183.1 L415.0 183.1 L415.5 183.1 L416.0 183.1 L416.5 183.0 L417.0 183.0 L417.5 182.9 L418.0 182.8 L418.5 182.8 L419.0 182.7 L419.5 182.6 L420.0 182.6 L420.5 182.5 L421.0 182.5 L421.5 182.5 L422.0 182.5 L422.5 182.5 L423.0 182.5 L423.5 182.5 L424.0 182.4 L424.5 182.4 L425.0 182.3 L425.5 182.2 L426.0 182.1 L426.5 182.0 L427.0 181.9 L427.5 181.7 L428.0 181.6 L428.5 181.5 L429.0 181.4 L429.5 181.3 L430.0 181.2 L430.5 181.1 L431.0 181.0 L431.5 180.9 L432.0 180.8 L432.5 180.6 L433.0 180.5 L433.5 180.4 L434.0 180.3 L434.5 180.2 L435.0 180.0 L435.5 179.8 L436.0 179.5 L436.5 179.3 L437.0 179.0 L437.5 178.7 L438.0 178.4 L438.5 178.0 L439.0 177.6 L439.5 177.1 L440.0 176.5 L440.5 175.9 L441.0 175.2 L441.5 174.3 L442.0 173.0 L442.5 171.5 L443.0 169.6 L443.5 167.6 L444.0 165.6 L444.5 163.6 L445.0 161.7 L445.5 159.8 L446.0 157.9 L446.5 156.1 L447.0 154.6 L447.5 153.8 L448.0 153.5 L448.5 153.7 L449.0 154.3 L449.5 155.2 L450.0 156.4 L450.5 157.8 L451.0 159.4 L451.5 161.1 L452.0 162.7 L452.5 164.1 L453.0 165.3 L453.5 165.9 L454.0 165.6 L454.5 164.5 L455.0 163.2 L455.5 161.7 L456.0 160.2 L456.5 158.6 L457.0 156.9 L457.5 155.3 L458.0 154.0 L458.5 153.1 L459.0 152.8 L459.5 152.7 L460.0 152.7 L460.5 153.0 L461.0 153.5 L461.5 153.9 L462.0 154.0 L462.5 153.8 L463.0 153.3 L463.5 152.3 L464.0 150.9 L464.5 149.3 L465.0 147.7 L465.5 146.4 L466.0 145.2 L466.5 144.1 L467.0 143.1 L467.5 142.2 L468.0 141.4 L468.5 140.9 L469.0 140.6 L469.5 140.6 L470.0 140.8 L470.5 141.5 L471.0 142.6 L471.5 143.9 L472.0 145.6 L472.5 147.1 L473.0 148.3 L473.5 149.0 L474.0 149.3 L474.5 149.0 L475.0 148.1 L475.5 146.7 L476.0 144.7 L476.5 142.5 L477.0 140.1 L477.5 137.5 L478.0 134.7 L478.5 131.4 L479.0 127.5 L479.5 122.2 L480.0 116.8 L480.5 112.4 L481.0 108.8 L481.5 106.0 L482.0 104.0 L482.5 103.0 L483.0 103.0 L483.5 103.8 L484.0 105.4 L484.5 107.4 L485.0 109.6 L485.5 112.0 L486.0 114.6 L486.5 117.3 L487.0 120.0 L487.5 122.6 L488.0 125.3 L488.5 127.9 L489.0 130.5 L489.5 132.9 L490.0 135.3 L490.5 137.6 L491.0 140.1 L491.5 142.9 L492.0 146.1 L492.5 149.6 L493.0 153.9 L493.5 158.2 L494.0 161.9 L494.5 165.3 L495.0 168.4 L495.5 171.1 L496.0 173.4 L496.5 175.5 L497.0 177.3 L497.5 178.9 L498.0 180.3 L498.5 181.5 L499.0 182.5 L499.5 183.2 L500.0 183.9 L500.5 184.3 L501.0 184.6 L501.5 184.7 L502.0 184.7 L502.5 184.5 L503.0 184.0 L503.5 183.4 L504.0 182.6 L504.5 181.6 L505.0 180.3 L505.5 178.7 L506.0 177.0 L506.5 175.3 L507.0 173.6 L507.5 171.8 L508.0 170.0 L508.5 168.2 L509.0 166.5 L509.5 164.9 L510.0 163.5 L510.5 162.4 L511.0 161.6 L511.5 161.4 L512.0 161.5 L512.5 161.8 L513.0 162.4 L513.5 163.2 L514.0 164.1 L514.5 165.3 L515.0 166.3 L515.5 167.3 L516.0 168.0 L516.5 168.6 L517.0 169.1 L517.5 169.5 L518.0 169.8 L518.5 170.0 L519.0 170.2 L519.5 170.4 L520.0 170.4 L520.5 170.2 L521.0 170.0 L521.5 169.7 L522.0 169.4 L522.5 169.1 L523.0 168.8 L523.5 168.5 L524.0 168.2 L524.5 168.0 L525.0 167.7 L525.5 167.5 L526.0 167.4 L526.5 167.6 L527.0 167.9 L527.5 168.4 L528.0 169.1 L528.5 169.7 L529.0 170.4 L529.5 171.1 L530.0 171.9 L530.5 172.6 L531.0 173.4 L531.5 174.2 L532.0 175.0 L532.5 175.5 L533.0 175.7 L533.5 175.7 L534.0 175.6 L534.5 175.4 L535.0 174.9 L535.5 174.2 L536.0 173.3 L536.5 172.0 L537.0 170.3 L537.5 168.5 L538.0 166.7 L538.5 165.0 L539.0 163.2 L539.4 161.9" stroke="#000" stroke-width="1.2"/>
<path d="M265.1 190.5 L265.6 190.5 L266.1 190.5 L266.6 190.5 L267.1 190.5 L267.6 190.5 L268.1 190.5 L268.6 190.5 L269.1 190.5 L269.6 190.5 L270.1 190.5 L270.6 190.5 L271.1 190.5 L271.6 190.5 L272.1 190.5 L272.6 190.5 L273.1 190.5 L273.6 190.5 L274.1 190.5 L274.6 190.5 L275.1 190.5 L275.6 190.5 L276.1 190.5 L276.6 190.5 L277.1 190.5 L277.6 190.5 L278.1 190.5 L278.6 190.5 L279.1 190.5 L279.6 190.5 L280.1 190.5 L280.6 190.5 L281.1 190.5 L281.6 190.5 L282.1 190.5 L282.6 190.5 L283.1 190.5 L283.6 190.5 L284.1 190.5 L284.6 190.5 L285.1 190.5 L285.6 190.5 L286.1 190.5 L286.6 190.5 L287.1 190.5 L287.6 190.5 L288.1 190.5 L288.6 190.4 L289.1 190.4 L289.6 190.4 L290.1 190.4 L290.6 190.4 L291.1 190.4 L291.6 190.4 L292.1 190.4 L292.6 190.4 L293.1 190.4 L293.6 190.4 L294.1 190.4 L294.6 190.3 L295.1 190.3 L295.6 190.3 L296.1 190.3 L296.6 190.2 L297.1 190.2 L297.6 190.2 L298.1 190.2 L298.6 190.1 L299.1 190.1 L299.6 190.0 L300.1 190.0 L300.6 189.9 L301.1 189.9 L301.6 189.8 L302.1 189.8 L302.6 189.7 L303.1 189.7 L303.6 189.6 L304.1 189.6 L304.6 189.5 L305.1 189.5 L305.6 189.4 L306.1 189.4 L306.6 189.3 L307.1 189.3 L307.6 189.2 L308.1 189.1 L308.6 189.1 L309.1 189.0 L309.6 189.0 L310.1 188.9 L310.6 188.8 L311.1 188.8 L311.6 188.7 L312.1 188.6 L312.6 188.6 L313.1 188.5 L313.6 188.4 L314.1 188.4 L314.6 188.3 L315.1 188.2 L315.6 188.2 L316.1 188.1 L316.6 188.0 L317.1 188.0 L317.6 187.9 L318.1 187.8 L318.6 187.8 L319.1 187.7 L319.6 187.6 L320.1 187.6 L320.6 187.5 L321.1 187.4 L321.6 187.4 L322.1 187.3 L322.6 187.3 L323.1 187.2 L323.6 187.1 L324.1 187.1 L324.6 187.0 L325.1 186.9 L325.6 186.9 L326.1 186.8 L326.6 186.7 L327.1 186.7 L327.6 186.6 L328.1 186.6 L328.6 186.5 L329.1 186.4 L329.6 186.4 L330.1 186.3 L330.6 186.3 L331.1 186.2 L331.6 186.1 L332.1 186.1 L332.6 186.0 L333.1 185.9 L333.6 185.9 L334.1 185.8 L334.6 185.8 L335.1 185.7 L335.6 185.6 L336.1 185.6 L336.6 185.5 L337.1 185.5 L337.6 185.4 L338.1 185.3 L338.6 185.3 L339.1 185.2 L339.6 185.2 L340.1 185.1 L340.6 185.1 L341.1 185.0 L341.6 184.9 L342.1 184.9 L342.6 184.8 L343.1 184.7 L343.6 184.7 L344.1 184.6 L344.6 184.5 L345.1 184.5 L345.6 184.4 L346.1 184.3 L346.6 184.2 L347.1 184.1 L347.6 184.0 L348.1 183.9 L348.6 183.9 L349.1 183.8 L349.6 183.7 L350.1 183.6 L350.6 183.5 L351.1 183.5 L351.6 183.4 L352.1 183.4 L352.6 183.3 L353.1 183.3 L353.6 183.2 L354.1 183.2 L354.6 183.2 L355.1 183.1 L355.6 183.1 L356.1 183.1 L356.6 183.1 L357.1 183.1 L357.6 183.1 L358.1 183.1 L358.6 183.1 L359.1 183.2 L359.6 183.2 L360.1 183.3 L360.6 183.3 L361.1 183.4 L361.6 183.6 L362.1 183.8 L362.6 184.0 L363.1 183.8 L363.6 182.8 L364.1 181.5 L364.6 179.9 L365.1 177.9 L365.6 175.4 L366.1 172.5 L366.6 169.1 L367.1 164.5 L367.6 159.7 L368.1 155.8 L368.6 152.5 L369.1 150.1 L369.6 149.1 L370.1 148.8 L370.6 149.4 L371.1 153.1 L371.6 158.1 L372.1 162.6 L372.6 166.8 L373.1 170.4 L373.6 173.3 L374.1 175.7 L374.6 177.8 L375.1 179.8 L375.6 181.6 L376.1 183.0 L376.6 183.9 L377.1 184.6 L377.6 185.2 L378.1 185.7 L378.6 186.1 L379.1 186.4 L379.6 186.6 L380.1 186.8 L380.6 187.0 L381.1 187.2 L381.6 187.3 L382.1 187.5 L382.6 187.5 L383.1 187.6 L383.6 187.6 L384.1 187.6 L384.6 187.7 L385.1 187.7 L385.6 187.7 L386.1 187.6 L386.6 187.6 L387.1 187.6 L387.6 187.5 L388.1 187.4 L388.6 187.3 L389.1 187.1 L389.6 187.0 L390.1 186.8 L390.6 186.7 L391.1 186.5 L391.6 186.3 L392.1 186.2 L392.6 186.0 L393.1 185.8 L393.6 185.6 L394.1 185.4 L394.6 185.2 L395.1 185.0 L395.6 184.7 L396.1 184.4 L396.6 184.1 L397.1 183.8 L397.6 183.5 L398.1 183.1 L398.6 182.7 L399.1 182.4 L399.6 182.0 L400.1 181.7 L400.6 181.3 L401.1 181.0 L401.6 180.6 L402.1 180.3 L402.6 180.0 L403.1 179.7 L403.6 179.3 L404.1 179.1 L404.6 178.9 L405.1 178.8 L405.6 178.8 L406.1 178.8 L406.6 178.8 L407.1 178.9 L407.6 179.0 L408.1 179.1 L408.6 179.3 L409.1 179.5 L409.6 179.8 L410.1 180.0 L410.6 180.3 L411.1 180.7 L411.6 181.0 L412.1 181.2 L412.6 181.5 L413.1 181.8 L413.6 182.0 L414.1 182.3 L414.6 182.5 L415.1 182.7 L415.6 182.9 L416.1 183.0 L416.6 183.1 L417.1 183.1 L417.6 183.1 L418.1 183.1 L418.6 183.0 L419.1 182.9 L419.6 182.8 L420.1 182.8 L420.6 182.7 L421.1 182.6 L421.6 182.5 L422.1 182.5 L422.6 182.5 L423.1 182.5 L423.6 182.5 L424.1 182.5 L424.6 182.5 L425.1 182.4 L425.6 182.4 L426.1 182.3 L426.6 182.2 L427.1 182.1 L427.6 182.0 L428.1 181.9 L428.6 181.7 L429.1 181.6 L429.6 181.5 L430.1 181.4 L430.6 181.3 L431.1 181.2 L431.6 181.1 L432.1 181.0 L432.6 180.9 L433.1 180.8 L433.6 180.6 L434.1 180.5 L434.6 180.4 L435.1 180.3 L435.6 180.2 L436.1 180.0 L436.6 179.8 L437.1 179.5 L437.6 179.3 L438.1 179.0 L438.6 178.7 L439.1 178.4 L439.6 178.0 L440.1 177.6 L440.6 177.1 L441.1 176.5 L441.6 175.9 L442.1 175.2 L442.6 174.3 L443.1 173.0 L443.6 171.5 L444.1 169.6 L444.6 167.6 L445.1 165.6 L445.6 163.6 L446.1 161.7 L446.6 159.8 L447.1 157.9 L447.6 156.1 L448.1 154.6 L448.6 153.8 L449.1 153.5 L449.6 153.7 L450.1 154.3 L450.6 155.2 L451.1 156.4 L451.6 157.8 L452.1 159.4 L452.6 161.1 L453.1 162.7 L453.6 164.1 L454.1 165.3 L454.6 165.9 L455.1 165.6 L455.6 164.5 L456.1 163.2 L456.6 161.7 L457.1 160.2 L457.6 158.6 L458.1 156.9 L458.6 155.3 L459.1 154.0 L459.6 153.1 L460.1 152.8 L460.6 152.7 L461.1 152.7 L461.6 153.0 L462.1 153.5 L462.6 153.9 L463.1 154.0 L463.6 153.8 L464.1 153.3 L464.6 152.3 L465.1 150.9 L465.6 149.3 L466.1 147.7 L466.6 146.4 L467.1 145.2 L467.6 144.1 L468.1 143.1 L468.6 142.2 L469.1 141.4 L469.6 140.9 L470.1 140.6 L470.6 140.6 L471.1 140.8 L471.6 141.5 L472.1 142.6 L472.6 143.9 L473.1 145.6 L473.6 147.1 L474.1 148.3 L474.6 149.0 L475.1 149.3 L475.6 149.0 L476.1 148.1 L476.6 146.7 L477.1 144.7 L477.6 142.5 L478.1 140.1 L478.6 137.5 L479.1 134.7 L479.6 131.4 L480.1 127.5 L480.6 122.2 L481.1 116.8 L481.6 112.4 L482.1 108.8 L482.6 106.0 L483.1 104.0 L483.6 103.0 L484.1 103.0 L484.6 103.8 L485.1 105.4 L485.6 107.4 L486.1 109.6 L486.6 112.0 L487.1 114.6 L487.6 117.3 L488.1 120.0 L488.6 122.6 L489.1 125.3 L489.6 127.9 L490.1 130.5 L490.6 132.9 L491.1 135.3 L491.6 137.6 L492.1 140.1 L492.6 142.9 L493.1 146.1 L493.6 149.6 L494.1 153.9 L494.6 158.2 L495.1 161.9 L495.6 165.3 L496.1 168.4 L496.6 171.1 L497.1 173.4 L497.6 175.5 L498.1 177.3 L498.6 178.9 L499.1 180.3 L499.6 181.5 L500.1 182.5 L500.6 183.2 L501.1 183.9 L501.6 184.3 L502.1 184.6 L502.6 184.7 L503.1 184.7 L503.6 184.5 L504.1 184.0 L504.6 183.4 L505.1 182.6 L505.6 181.6 L506.1 180.3 L506.6 178.7 L507.1 177.0 L507.6 175.3 L508.1 173.6 L508.6 171.8 L509.1 170.0 L509.6 168.2 L510.1 166.5 L510.6 164.9 L511.1 163.5 L511.6 162.4 L512.1 161.6 L512.6 161.4 L513.1 161.5 L513.6 161.8 L514.1 162.4 L514.6 163.2 L515.1 164.1 L515.6 165.3 L516.1 166.3 L516.6 167.3 L517.1 168.0 L517.6 168.6 L518.1 169.1 L518.6 169.5 L519.1 169.8 L519.6 170.0 L520.1 170.2 L520.6 170.4 L521.1 170.4 L521.6 170.2 L522.1 170.0 L522.6 169.7 L523.1 169.4 L523.6 169.1 L524.1 168.8 L524.6 168.5 L525.1 168.2 L525.6 168.0 L526.1 167.7 L526.6 167.5 L527.1 167.4 L527.6 167.6 L528.1 167.9 L528.6 168.4 L529.1 169.1 L529.6 169.7 L530.1 170.4 L530.6 171.1 L531.1 171.9 L531.6 172.6 L532.1 173.4 L532.6 174.2 L533.1 175.0 L533.6 175.5 L534.1 175.7 L534.6 175.7 L535.1 175.6 L535.6 175.4 L536.1 174.9 L536.6 174.2 L537.1 173.3 L537.6 172.0 L538.1 170.3 L538.6 168.5 L539.1 166.7 L539.6 165.0 L540.1 163.2 L540.5 161.9" stroke="#3f1678" stroke-width="1.4" stroke-dasharray="3.5 1.8"/>
<path d="M263.5 190.5 L264.0 190.5 L264.5 190.5 L265.0 190.5 L265.5 190.5 L266.0 190.5 L266.5 190.5 L267.0 190.5 L267.5 190.5 L268.0 190.5 L268.5 190.5 L269.0 190.5 L269.5 190.5 L270.0 190.5 L270.5 190.5 L271.0 190.5 L271.5 190.5 L272.0 190.5 L272.5 190.5 L273.0 190.5 L273.5 190.5 L274.0 190.5 L274.5 190.5 L275.0 190.5 L275.5 190.5 L276.0 190.5 L276.5 190.5 L277.0 190.5 L277.5 190.5 L278.0 190.5 L278.5 190.5 L279.0 190.5 L279.5 190.5 L280.0 190.5 L280.5 190.5 L281.0 190.5 L281.5 190.5 L282.0 190.5 L282.5 190.5 L283.0 190.5 L283.5 190.5 L284.0 190.5 L284.5 190.5 L285.0 190.5 L285.5 190.5 L286.0 190.5 L286.5 190.5 L287.0 190.4 L287.5 190.4 L288.0 190.4 L288.5 190.4 L289.0 190.4 L289.5 190.4 L290.0 190.4 L290.5 190.4 L291.0 190.4 L291.5 190.4 L292.0 190.4 L292.5 190.4 L293.0 190.3 L293.5 190.3 L294.0 190.3 L294.5 190.3 L295.0 190.2 L295.5 190.2 L296.0 190.2 L296.5 190.2 L297.0 190.1 L297.5 190.1 L298.0 190.0 L298.5 190.0 L299.0 189.9 L299.5 189.9 L300.0 189.8 L300.5 189.8 L301.0 189.7 L301.5 189.7 L302.0 189.6 L302.5 189.6 L303.0 189.5 L303.5 189.5 L304.0 189.4 L304.5 189.4 L305.0 189.3 L305.5 189.3 L306.0 189.2 L306.5 189.1 L307.0 189.1 L307.5 189.0 L308.0 189.0 L308.5 188.9 L309.0 188.8 L309.5 188.8 L310.0 188.7 L310.5 188.6 L311.0 188.6 L311.5 188.5 L312.0 188.4 L312.5 188.4 L313.0 188.3 L313.5 188.2 L314.0 188.2 L314.5 188.1 L315.0 188.0 L315.5 188.0 L316.0 187.9 L316.5 187.9 L317.0 187.8 L317.5 187.7 L318.0 187.7 L318.5 187.6 L319.0 187.5 L319.5 187.5 L320.0 187.4 L320.5 187.3 L321.0 187.3 L321.5 187.2 L322.0 187.1 L322.5 187.1 L323.0 187.0 L323.5 186.9 L324.0 186.9 L324.5 186.8 L325.0 186.8 L325.5 186.7 L326.0 186.7 L326.5 186.6 L327.0 186.5 L327.5 186.5 L328.0 186.4 L328.5 186.4 L329.0 186.3 L329.5 186.3 L330.0 186.2 L330.5 186.1 L331.0 186.1 L331.5 186.0 L332.0 185.9 L332.5 185.9 L333.0 185.8 L333.5 185.7 L334.0 185.6 L334.5 185.5 L335.0 185.4 L335.5 185.3 L336.0 185.2 L336.5 185.1 L337.0 185.0 L337.5 184.9 L338.0 184.7 L338.5 184.6 L339.0 184.5 L339.5 184.4 L340.0 184.3 L340.5 184.1 L341.0 184.0 L341.5 183.9 L342.0 183.8 L342.5 183.7 L343.0 183.6 L343.5 183.5 L344.0 183.4 L344.5 183.3 L345.0 183.2 L345.5 183.1 L346.0 183.0 L346.5 182.9 L347.0 182.7 L347.5 182.6 L348.0 182.5 L348.5 182.4 L349.0 182.3 L349.5 182.2 L350.0 182.1 L350.5 182.0 L351.0 182.0 L351.5 181.9 L352.0 181.8 L352.5 181.8 L353.0 181.7 L353.5 181.6 L354.0 181.6 L354.5 181.5 L355.0 181.5 L355.5 181.5 L356.0 181.5 L356.5 181.6 L357.0 181.7 L357.5 181.8 L358.0 181.9 L358.5 181.9 L359.0 181.9 L359.5 181.5 L360.0 180.5 L360.5 178.9 L361.0 176.9 L361.5 174.6 L362.0 172.1 L362.5 169.4 L363.0 166.5 L363.5 163.8 L364.0 161.7 L364.5 160.3 L365.0 159.3 L365.5 159.1 L366.0 160.1 L366.5 163.7 L367.0 168.2 L367.5 170.7 L368.0 172.8 L368.5 174.5 L369.0 176.1 L369.5 177.4 L370.0 178.6 L370.5 179.6 L371.0 180.6 L371.5 181.5 L372.0 182.2 L372.5 182.8 L373.0 183.3 L373.5 183.9 L374.0 184.3 L374.5 184.7 L375.0 185.0 L375.5 185.3 L376.0 185.6 L376.5 185.9 L377.0 186.1 L377.5 186.4 L378.0 186.6 L378.5 186.8 L379.0 187.0 L379.5 187.2 L380.0 187.4 L380.5 187.6 L381.0 187.8 L381.5 188.0 L382.0 188.1 L382.5 188.2 L383.0 188.2 L383.5 188.2 L384.0 188.2 L384.5 188.1 L385.0 188.1 L385.5 188.0 L386.0 187.9 L386.5 187.9 L387.0 187.8 L387.5 187.7 L388.0 187.6 L388.5 187.6 L389.0 187.5 L389.5 187.4 L390.0 187.3 L390.5 187.1 L391.0 186.9 L391.5 186.7 L392.0 186.5 L392.5 186.2 L393.0 185.9 L393.5 185.5 L394.0 185.1 L394.5 184.8 L395.0 184.4 L395.5 183.9 L396.0 183.5 L396.5 183.0 L397.0 182.5 L397.5 182.1 L398.0 181.6 L398.5 181.2 L399.0 180.8 L399.5 180.4 L400.0 180.0 L400.5 179.7 L401.0 179.3 L401.5 179.0 L402.0 178.7 L402.5 178.6 L403.0 178.5 L403.5 178.5 L404.0 178.5 L404.5 178.6 L405.0 178.7 L405.5 178.9 L406.0 179.1 L406.5 179.3 L407.0 179.6 L407.5 179.9 L408.0 180.3 L408.5 180.6 L409.0 180.9 L409.5 181.3 L410.0 181.6 L410.5 181.8 L411.0 182.1 L411.5 182.4 L412.0 182.6 L412.5 182.8 L413.0 182.9 L413.5 183.0 L414.0 183.1 L414.5 183.1 L415.0 183.1 L415.5 183.1 L416.0 183.0 L416.5 183.0 L417.0 182.9 L417.5 182.8 L418.0 182.8 L418.5 182.7 L419.0 182.6 L419.5 182.6 L420.0 182.5 L420.5 182.5 L421.0 182.5 L421.5 182.5 L422.0 182.5 L422.5 182.5 L423.0 182.5 L423.5 182.4 L424.0 182.4 L424.5 182.3 L425.0 182.2 L425.5 182.1 L426.0 182.0 L426.5 181.9 L427.0 181.7 L427.5 181.6 L428.0 181.5 L428.5 181.4 L429.0 181.3 L429.5 181.2 L430.0 181.1 L430.5 181.0 L431.0 180.9 L431.5 180.8 L432.0 180.6 L432.5 180.5 L433.0 180.4 L433.5 180.3 L434.0 180.2 L434.5 180.0 L435.0 179.8 L435.5 179.5 L436.0 179.3 L436.5 179.0 L437.0 178.7 L437.5 178.4 L438.0 178.0 L438.5 177.6 L439.0 177.1 L439.5 176.5 L440.0 175.9 L440.5 175.2 L441.0 174.3 L441.5 173.0 L442.0 171.5 L442.5 169.6 L443.0 167.6 L443.5 165.6 L444.0 163.6 L444.5 161.7 L445.0 159.8 L445.5 157.9 L446.0 156.1 L446.5 154.6 L447.0 153.8 L447.5 153.5 L448.0 153.7 L448.5 154.3 L449.0 155.2 L449.5 156.4 L450.0 157.8 L450.5 159.4 L451.0 161.1 L451.5 162.7 L452.0 164.1 L452.5 165.3 L453.0 165.9 L453.5 165.6 L454.0 164.5 L454.5 163.2 L455.0 161.7 L455.5 160.2 L456.0 158.6 L456.5 156.9 L457.0 155.3 L457.5 154.0 L458.0 153.1 L458.5 152.8 L459.0 152.7 L459.5 152.7 L460.0 153.0 L460.5 153.5 L461.0 153.9 L461.5 154.0 L462.0 153.8 L462.5 153.3 L463.0 152.3 L463.5 150.9 L464.0 149.3 L464.5 147.7 L465.0 146.4 L465.5 145.2 L466.0 144.1 L466.5 143.1 L467.0 142.2 L467.5 141.4 L468.0 140.9 L468.5 140.6 L469.0 140.6 L469.5 140.8 L470.0 141.5 L470.5 142.6 L471.0 143.9 L471.5 145.6 L472.0 147.1 L472.5 148.3 L473.0 149.0 L473.5 149.3 L474.0 149.1 L474.5 148.1 L475.0 146.7 L475.5 144.7 L476.0 142.4 L476.5 139.8 L477.0 136.8 L477.5 133.4 L478.0 129.3 L478.5 123.5 L479.0 117.2 L479.5 112.4 L480.0 108.8 L480.5 106.1 L481.0 104.3 L481.5 103.5 L482.0 103.7 L482.5 104.6 L483.0 106.4 L483.5 108.4 L484.0 110.6 L484.5 113.1 L485.0 115.7 L485.5 118.4 L486.0 121.1 L486.5 123.8 L487.0 126.4 L487.5 129.1 L488.0 131.6 L488.5 134.0 L489.0 136.3 L489.5 138.7 L490.0 141.3 L490.5 144.2 L491.0 147.4 L491.5 150.9 L492.0 155.2 L492.5 159.3 L493.0 162.5 L493.5 165.5 L494.0 168.1 L494.5 170.4 L495.0 172.4 L495.5 174.3 L496.0 176.1 L496.5 177.6 L497.0 179.0 L497.5 180.3 L498.0 181.5 L498.5 182.5 L499.0 183.2 L499.5 183.9 L500.0 184.3 L500.5 184.6 L501.0 184.7 L501.5 184.7 L502.0 184.5 L502.5 184.0 L503.0 183.4 L503.5 182.6 L504.0 181.6 L504.5 180.3 L505.0 178.7 L505.5 177.0 L506.0 175.3 L506.5 173.6 L507.0 171.8 L507.5 170.0 L508.0 168.2 L508.5 166.5 L509.0 164.9 L509.5 163.5 L510.0 162.4 L510.5 161.6 L511.0 161.4 L511.5 161.5 L512.0 161.8 L512.5 162.4 L513.0 163.2 L513.5 164.2 L514.0 165.3 L514.5 166.3 L515.0 167.3 L515.5 168.0 L516.0 168.7 L516.5 169.3 L517.0 169.8 L517.5 170.3 L518.0 170.6 L518.5 170.9 L519.0 171.1 L519.5 171.3 L520.0 171.5 L520.5 171.6 L521.0 171.6 L521.5 171.7 L522.0 171.7 L522.5 171.7 L523.0 171.7 L523.5 171.7 L524.0 171.6 L524.5 171.6 L525.0 171.5 L525.5 171.5 L526.0 171.5 L526.5 171.5 L527.0 171.6 L527.5 171.7 L528.0 171.9 L528.5 172.2 L529.0 172.5 L529.5 173.0 L530.0 173.4 L530.5 173.9 L531.0 174.5 L531.5 175.0 L532.0 175.4 L532.5 175.6 L533.0 175.7 L533.5 175.7 L534.0 175.4 L534.5 175.0 L535.0 174.2 L535.5 173.3 L536.0 172.0 L536.5 170.3 L537.0 168.5 L537.5 166.7 L538.0 165.0 L538.5 163.2 L538.9 161.9" stroke="#266d16" stroke-width="1.4" stroke-dasharray="1.5 1.9"/>
<path d="M264.0 190.5 L264.5 190.5 L265.0 190.5 L265.5 190.5 L266.0 190.5 L266.5 190.5 L267.0 190.5 L267.5 190.5 L268.0 190.5 L268.5 190.5 L269.0 190.5 L269.5 190.5 L270.0 190.5 L270.5 190.5 L271.0 190.5 L271.5 190.5 L272.0 190.5 L272.5 190.5 L273.0 190.5 L273.5 190.5 L274.0 190.5 L274.5 190.5 L275.0 190.5 L275.5 190.5 L276.0 190.5 L276.5 190.5 L277.0 190.5 L277.5 190.5 L278.0 190.5 L278.5 190.5 L279.0 190.5 L279.5 190.5 L280.0 190.5 L280.5 190.5 L281.0 190.5 L281.5 190.5 L282.0 190.5 L282.5 190.5 L283.0 190.5 L283.5 190.5 L284.0 190.5 L284.5 190.5 L285.0 190.5 L285.5 190.5 L286.0 190.5 L286.5 190.5 L287.0 190.5 L287.5 190.6 L288.0 190.6 L288.5 190.6 L289.0 190.6 L289.5 190.6 L290.0 190.6 L290.5 190.6 L291.0 190.6 L291.5 190.6 L292.0 190.6 L292.5 190.6 L293.0 190.6 L293.5 190.7 L294.0 190.7 L294.5 190.7 L295.0 190.7 L295.5 190.7 L296.0 190.8 L296.5 190.8 L297.0 190.8 L297.5 190.9 L298.0 190.9 L298.5 191.0 L299.0 191.0 L299.5 191.0 L300.0 191.1 L300.5 191.2 L301.0 191.2 L301.5 191.3 L302.0 191.3 L302.5 191.4 L303.0 191.4 L303.5 191.5 L304.0 191.6 L304.5 191.6 L305.0 191.7 L305.5 191.7 L306.0 191.8 L306.5 191.9 L307.0 191.9 L307.5 192.0 L308.0 192.0 L308.5 192.1 L309.0 192.1 L309.5 192.2 L310.0 192.3 L310.5 192.3 L311.0 192.4 L311.5 192.4 L312.0 192.5 L312.5 192.5 L313.0 192.6 L313.5 192.6 L314.0 192.7 L314.5 192.7 L315.0 192.8 L315.5 192.8 L316.0 192.9 L316.5 192.9 L317.0 193.0 L317.5 193.1 L318.0 193.1 L318.5 193.2 L319.0 193.2 L319.5 193.3 L320.0 193.3 L320.5 193.4 L321.0 193.4 L321.5 193.5 L322.0 193.5 L322.5 193.6 L323.0 193.6 L323.5 193.7 L324.0 193.7 L324.5 193.8 L325.0 193.8 L325.5 193.9 L326.0 193.9 L326.5 194.0 L327.0 194.1 L327.5 194.1 L328.0 194.2 L328.5 194.2 L329.0 194.3 L329.5 194.3 L330.0 194.4 L330.5 194.4 L331.0 194.5 L331.5 194.5 L332.0 194.6 L332.5 194.6 L333.0 194.7 L333.5 194.7 L334.0 194.8 L334.5 194.9 L335.0 194.9 L335.5 195.0 L336.0 195.0 L336.5 195.1 L337.0 195.2 L337.5 195.3 L338.0 195.3 L338.5 195.4 L339.0 195.5 L339.5 195.6 L340.0 195.6 L340.5 195.7 L341.0 195.8 L341.5 195.9 L342.0 196.0 L342.5 196.0 L343.0 196.1 L343.5 196.2 L344.0 196.3 L344.5 196.4 L345.0 196.5 L345.5 196.6 L346.0 196.7 L346.5 196.7 L347.0 196.8 L347.5 196.9 L348.0 197.0 L348.5 197.1 L349.0 197.2 L349.5 197.3 L350.0 197.3 L350.5 197.4 L351.0 197.5 L351.5 197.6 L352.0 197.7 L352.5 197.7 L353.0 197.8 L353.5 197.9 L354.0 197.9 L354.5 198.0 L355.0 198.1 L355.5 198.1 L356.0 198.2 L356.5 198.2 L357.0 198.2 L357.5 198.2 L358.0 198.2 L358.5 198.2 L359.0 198.2 L359.5 198.2 L360.0 198.1 L360.5 197.9 L361.0 197.6 L361.5 197.1 L362.0 196.5 L362.5 196.0 L363.0 195.4 L363.5 194.8 L364.0 194.2 L364.5 193.6 L365.0 193.0 L365.5 192.4 L366.0 191.9 L366.5 191.5 L367.0 191.2 L367.5 191.1 L368.0 191.0 L368.5 190.9 L369.0 190.8 L369.5 190.8 L370.0 190.7 L370.5 190.6 L371.0 190.6 L371.5 190.5 L372.0 190.5 L372.5 190.5 L373.0 190.5 L373.5 190.5 L374.0 190.5 L374.5 190.5 L375.0 190.5 L375.5 190.6 L376.0 190.6 L376.5 190.7 L377.0 190.8 L377.5 190.9 L378.0 190.9 L378.5 191.0 L379.0 191.1 L379.5 191.3 L380.0 191.4 L380.5 191.5 L381.0 191.7 L381.5 191.8 L382.0 192.0 L382.5 192.1 L383.0 192.3 L383.5 192.5 L384.0 192.6 L384.5 192.8 L385.0 193.0 L385.5 193.2 L386.0 193.4 L386.5 193.6 L387.0 193.8 L387.5 194.0 L388.0 194.3 L388.5 194.6 L389.0 194.9 L389.5 195.4 L390.0 195.9 L390.5 196.4 L391.0 197.0 L391.5 197.6 L392.0 198.2 L392.5 198.8 L393.0 199.5 L393.5 200.1 L394.0 200.7 L394.5 201.3 L395.0 201.9 L395.5 202.4 L396.0 202.9 L396.5 203.4 L397.0 203.9 L397.5 204.2 L398.0 204.4 L398.5 204.4 L399.0 204.3 L399.5 204.1 L400.0 203.7 L400.5 203.2 L401.0 202.6 L401.5 201.9 L402.0 201.2 L402.5 200.5 L403.0 200.0 L403.5 199.5 L404.0 199.1 L404.5 198.8 L405.0 198.5 L405.5 198.4 L406.0 198.2 L406.5 198.2 L407.0 198.2 L407.5 198.2 L408.0 198.3 L408.5 198.4 L409.0 198.5 L409.5 198.7 L410.0 198.8 L410.5 198.9 L411.0 199.1 L411.5 199.2 L412.0 199.4 L412.5 199.6 L413.0 199.9 L413.5 200.1 L414.0 200.3 L414.5 200.5 L415.0 200.7 L415.5 200.9 L416.0 201.1 L416.5 201.3 L417.0 201.5 L417.5 201.7 L418.0 201.9 L418.5 202.0 L419.0 202.2 L419.5 202.3 L420.0 202.5 L420.5 202.7 L421.0 202.8 L421.5 203.1 L422.0 203.3 L422.5 203.6 L423.0 203.9 L423.5 204.3 L424.0 204.6 L424.5 205.0 L425.0 205.3 L425.5 205.7 L426.0 206.1 L426.5 206.7 L427.0 207.5 L427.5 208.5 L428.0 209.7 L428.5 210.9 L429.0 212.2 L429.5 213.5 L430.0 214.8 L430.5 216.1 L431.0 217.4 L431.5 218.7 L432.0 220.0 L432.5 221.0 L433.0 221.7 L433.5 222.2 L434.0 222.5 L434.5 222.6 L435.0 222.5 L435.5 222.3 L436.0 222.0 L436.5 221.5 L437.0 220.8 L437.5 220.1 L438.0 219.3 L438.5 218.8 L439.0 218.4 L439.5 218.2 L440.0 218.7 L440.5 220.1 L441.0 222.2 L441.5 224.5 L442.0 226.9 L442.5 229.5 L443.0 232.3 L443.5 235.1 L444.0 238.0 L444.5 240.7 L445.0 243.2 L445.5 245.6 L446.0 247.9 L446.5 250.3 L447.0 252.7 L447.5 255.3 L448.0 257.9 L448.5 260.5 L449.0 263.0 L449.5 265.0 L450.0 266.1 L450.5 265.5 L451.0 263.2 L451.5 260.1 L452.0 257.0 L452.5 253.9 L453.0 250.7 L453.5 247.5 L454.0 244.3 L454.5 241.1 L455.0 238.0 L455.5 235.3 L456.0 233.3 L456.5 231.7 L457.0 230.3 L457.5 229.2 L458.0 228.5 L458.5 228.4 L459.0 228.6 L459.5 229.0 L460.0 229.4 L460.5 229.9 L461.0 230.5 L461.5 231.2 L462.0 231.8 L462.5 232.1 L463.0 232.2 L463.5 232.0 L464.0 231.6 L464.5 230.7 L465.0 229.8 L465.5 228.8 L466.0 227.7 L466.5 226.6 L467.0 225.5 L467.5 224.3 L468.0 223.1 L468.5 222.4 L469.0 222.3 L469.5 222.7 L470.0 224.3 L470.5 227.1 L471.0 230.4 L471.5 234.1 L472.0 238.0 L472.5 241.7 L473.0 244.8 L473.5 247.3 L474.0 249.3 L474.5 250.0 L475.0 249.0 L475.5 247.9 L476.0 246.9 L476.5 245.8 L477.0 244.8 L477.5 244.3 L478.0 244.3 L478.5 244.5 L479.0 244.9 L479.5 245.2 L480.0 245.5 L480.5 245.8 L481.0 246.1 L481.5 246.2 L482.0 245.8 L482.5 245.1 L483.0 244.5 L483.5 244.1 L484.0 243.7 L484.5 243.5 L485.0 243.2 L485.5 243.2 L486.0 243.7 L486.5 244.5 L487.0 245.7 L487.5 247.3 L488.0 249.5 L488.5 252.2 L489.0 255.0 L489.5 257.8 L490.0 260.4 L490.5 262.9 L491.0 265.9 L491.5 270.9 L492.0 275.4 L492.5 278.6 L493.0 280.6 L493.5 281.1 L494.0 280.3 L494.5 278.7 L495.0 276.4 L495.5 273.5 L496.0 270.4 L496.5 266.7 L497.0 262.1 L497.5 256.3 L498.0 251.3 L498.5 247.0 L499.0 242.8 L499.5 238.6 L500.0 234.5 L500.5 230.5 L501.0 226.7 L501.5 223.2 L502.0 220.3 L502.5 217.9 L503.0 215.9 L503.5 214.4 L504.0 213.3 L504.5 212.2 L505.0 211.3 L505.5 210.4 L506.0 209.7 L506.5 209.0 L507.0 208.4 L507.5 207.9 L508.0 207.3 L508.5 206.8 L509.0 206.2 L509.5 205.8 L510.0 205.4 L510.5 205.0 L511.0 204.7 L511.5 204.4 L512.0 204.2 L512.5 203.9 L513.0 203.6 L513.5 203.4 L514.0 203.1 L514.5 202.9 L515.0 202.7 L515.5 202.6 L516.0 202.4 L516.5 202.3 L517.0 202.1 L517.5 202.0 L518.0 201.9 L518.5 201.7 L519.0 201.6 L519.5 201.4 L520.0 201.3 L520.5 201.2 L521.0 201.1 L521.5 201.0 L522.0 200.9 L522.5 200.8 L523.0 200.7 L523.5 200.6 L524.0 200.5 L524.5 200.4 L525.0 200.3 L525.5 200.2 L526.0 200.1 L526.5 200.0 L527.0 200.0 L527.5 199.9 L528.0 199.8 L528.5 199.7 L529.0 199.6 L529.5 199.6 L530.0 199.5 L530.5 199.4 L531.0 199.4 L531.5 199.3 L532.0 199.3 L532.5 199.2 L533.0 199.2 L533.5 199.1 L534.0 199.1 L534.5 199.0 L535.0 199.0 L535.5 198.9 L536.0 198.9 L536.5 198.8 L537.0 198.8 L537.5 198.8 L538.0 198.7 L538.5 198.7 L538.8 198.7" stroke="#000" stroke-width="1.2"/>
<path d="M265.1 190.5 L265.6 190.5 L266.1 190.5 L266.6 190.5 L267.1 190.5 L267.6 190.5 L268.1 190.5 L268.6 190.5 L269.1 190.5 L269.6 190.5 L270.1 190.5 L270.6 190.5 L271.1 190.5 L271.6 190.5 L272.1 190.5 L272.6 190.5 L273.1 190.5 L273.6 190.5 L274.1 190.5 L274.6 190.5 L275.1 190.5 L275.6 190.5 L276.1 190.5 L276.6 190.5 L277.1 190.5 L277.6 190.5 L278.1 190.5 L278.6 190.5 L279.1 190.5 L279.6 190.5 L280.1 190.5 L280.6 190.5 L281.1 190.5 L281.6 190.5 L282.1 190.5 L282.6 190.5 L283.1 190.5 L283.6 190.5 L284.1 190.5 L284.6 190.5 L285.1 190.5 L285.6 190.5 L286.1 190.5 L286.6 190.5 L287.1 190.5 L287.6 190.5 L288.1 190.5 L288.6 190.6 L289.1 190.6 L289.6 190.6 L290.1 190.6 L290.6 190.6 L291.1 190.6 L291.6 190.6 L292.1 190.6 L292.6 190.6 L293.1 190.6 L293.6 190.6 L294.1 190.6 L294.6 190.7 L295.1 190.7 L295.6 190.7 L296.1 190.7 L296.6 190.7 L297.1 190.8 L297.6 190.8 L298.1 190.8 L298.6 190.9 L299.1 190.9 L299.6 191.0 L300.1 191.0 L300.6 191.0 L301.1 191.1 L301.6 191.2 L302.1 191.2 L302.6 191.3 L303.1 191.3 L303.6 191.4 L304.1 191.4 L304.6 191.5 L305.1 191.6 L305.6 191.6 L306.1 191.7 L306.6 191.7 L307.1 191.8 L307.6 191.9 L308.1 191.9 L308.6 192.0 L309.1 192.0 L309.6 192.1 L310.1 192.1 L310.6 192.2 L311.1 192.3 L311.6 192.3 L312.1 192.4 L312.6 192.4 L313.1 192.5 L313.6 192.5 L314.1 192.6 L314.6 192.6 L315.1 192.7 L315.6 192.7 L316.1 192.8 L316.6 192.8 L317.1 192.9 L317.6 192.9 L318.1 193.0 L318.6 193.1 L319.1 193.1 L319.6 193.2 L320.1 193.2 L320.6 193.3 L321.1 193.3 L321.6 193.4 L322.1 193.4 L322.6 193.5 L323.1 193.5 L323.6 193.6 L324.1 193.6 L324.6 193.7 L325.1 193.7 L325.6 193.8 L326.1 193.8 L326.6 193.9 L327.1 193.9 L327.6 194.0 L328.1 194.1 L328.6 194.1 L329.1 194.2 L329.6 194.2 L330.1 194.3 L330.6 194.3 L331.1 194.4 L331.6 194.4 L332.1 194.5 L332.6 194.5 L333.1 194.6 L333.6 194.6 L334.1 194.7 L334.6 194.7 L335.1 194.8 L335.6 194.9 L336.1 194.9 L336.6 195.0 L337.1 195.0 L337.6 195.1 L338.1 195.2 L338.6 195.3 L339.1 195.3 L339.6 195.4 L340.1 195.5 L340.6 195.6 L341.1 195.6 L341.6 195.7 L342.1 195.8 L342.6 195.9 L343.1 196.0 L343.6 196.0 L344.1 196.1 L344.6 196.2 L345.1 196.3 L345.6 196.4 L346.1 196.5 L346.6 196.6 L347.1 196.7 L347.6 196.7 L348.1 196.8 L348.6 196.9 L349.1 197.0 L349.6 197.1 L350.1 197.2 L350.6 197.3 L351.1 197.3 L351.6 197.4 L352.1 197.5 L352.6 197.6 L353.1 197.7 L353.6 197.7 L354.1 197.8 L354.6 197.9 L355.1 197.9 L355.6 198.0 L356.1 198.1 L356.6 198.1 L357.1 198.2 L357.6 198.2 L358.1 198.2 L358.6 198.2 L359.1 198.2 L359.6 198.2 L360.1 198.2 L360.6 197.9 L361.1 197.5 L361.6 197.2 L362.1 197.3 L362.6 197.5 L363.1 198.1 L363.6 199.3 L364.1 200.9 L364.6 203.1 L365.1 205.7 L365.6 208.6 L366.1 211.8 L366.6 214.8 L367.1 217.5 L367.6 220.1 L368.1 222.7 L368.6 225.3 L369.1 228.0 L369.6 230.7 L370.1 231.3 L370.6 227.0 L371.1 222.6 L371.6 219.3 L372.1 215.9 L372.6 212.7 L373.1 209.6 L373.6 206.8 L374.1 204.1 L374.6 201.6 L375.1 199.4 L375.6 197.6 L376.1 196.4 L376.6 195.6 L377.1 194.9 L377.6 194.4 L378.1 194.0 L378.6 193.7 L379.1 193.5 L379.6 193.4 L380.1 193.3 L380.6 193.2 L381.1 193.2 L381.6 193.1 L382.1 193.1 L382.6 193.1 L383.1 193.1 L383.6 193.1 L384.1 193.2 L384.6 193.3 L385.1 193.4 L385.6 193.5 L386.1 193.6 L386.6 193.8 L387.1 193.9 L387.6 194.1 L388.1 194.2 L388.6 194.4 L389.1 194.7 L389.6 194.9 L390.1 195.2 L390.6 195.5 L391.1 195.8 L391.6 196.2 L392.1 196.6 L392.6 197.0 L393.1 197.5 L393.6 197.9 L394.1 198.4 L394.6 198.9 L395.1 199.4 L395.6 199.9 L396.1 200.4 L396.6 201.0 L397.1 201.5 L397.6 202.0 L398.1 202.6 L398.6 203.1 L399.1 203.6 L399.6 204.0 L400.1 204.3 L400.6 204.5 L401.1 204.7 L401.6 204.7 L402.1 204.5 L402.6 204.2 L403.1 203.7 L403.6 203.1 L404.1 202.5 L404.6 201.8 L405.1 201.2 L405.6 200.7 L406.1 200.2 L406.6 199.7 L407.1 199.3 L407.6 198.9 L408.1 198.6 L408.6 198.5 L409.1 198.4 L409.6 198.5 L410.1 198.6 L410.6 198.7 L411.1 198.8 L411.6 198.9 L412.1 199.1 L412.6 199.2 L413.1 199.4 L413.6 199.6 L414.1 199.9 L414.6 200.1 L415.1 200.3 L415.6 200.5 L416.1 200.7 L416.6 200.9 L417.1 201.1 L417.6 201.3 L418.1 201.5 L418.6 201.7 L419.1 201.9 L419.6 202.0 L420.1 202.2 L420.6 202.3 L421.1 202.5 L421.6 202.7 L422.1 202.8 L422.6 203.1 L423.1 203.3 L423.6 203.6 L424.1 203.9 L424.6 204.3 L425.1 204.6 L425.6 205.0 L426.1 205.3 L426.6 205.7 L427.1 206.1 L427.6 206.7 L428.1 207.5 L428.6 208.5 L429.1 209.7 L429.6 210.9 L430.1 212.2 L430.6 213.5 L431.1 214.8 L431.6 216.1 L432.1 217.4 L432.6 218.7 L433.1 220.0 L433.6 221.0 L434.1 221.7 L434.6 222.2 L435.1 222.5 L435.6 222.6 L436.1 222.5 L436.6 222.3 L437.1 222.0 L437.6 221.5 L438.1 220.8 L438.6 220.1 L439.1 219.3 L439.6 218.8 L440.1 218.4 L440.6 218.2 L441.1 218.7 L441.6 220.1 L442.1 222.2 L442.6 224.5 L443.1 226.9 L443.6 229.5 L444.1 232.3 L444.6 235.1 L445.1 238.0 L445.6 240.7 L446.1 243.2 L446.6 245.6 L447.1 247.9 L447.6 250.3 L448.1 252.7 L448.6 255.3 L449.1 257.9 L449.6 260.5 L450.1 263.0 L450.6 265.0 L451.1 266.1 L451.6 265.5 L452.1 263.2 L452.6 260.1 L453.1 257.0 L453.6 253.9 L454.1 250.7 L454.6 247.5 L455.1 244.3 L455.6 241.1 L456.1 238.0 L456.6 235.3 L457.1 233.3 L457.6 231.7 L458.1 230.3 L458.6 229.2 L459.1 228.5 L459.6 228.4 L460.1 228.6 L460.6 229.0 L461.1 229.4 L461.6 229.9 L462.1 230.5 L462.6 231.2 L463.1 231.8 L463.6 232.1 L464.1 232.2 L464.6 232.0 L465.1 231.6 L465.6 230.7 L466.1 229.8 L466.6 228.8 L467.1 227.7 L467.6 226.6 L468.1 225.5 L468.6 224.3 L469.1 223.1 L469.6 222.4 L470.1 222.3 L470.6 222.7 L471.1 224.3 L471.6 227.1 L472.1 230.4 L472.6 234.1 L473.1 238.0 L473.6 241.7 L474.1 244.8 L474.6 247.3 L475.1 249.3 L475.6 250.0 L476.1 249.0 L476.6 247.9 L477.1 246.9 L477.6 245.8 L478.1 244.8 L478.6 244.3 L479.1 244.3 L479.6 244.5 L480.1 244.9 L480.6 245.2 L481.1 245.5 L481.6 245.8 L482.1 246.1 L482.6 246.2 L483.1 245.8 L483.6 245.1 L484.1 244.5 L484.6 244.1 L485.1 243.7 L485.6 243.5 L486.1 243.2 L486.6 243.2 L487.1 243.7 L487.6 244.5 L488.1 245.7 L488.6 247.3 L489.1 249.5 L489.6 252.2 L490.1 255.0 L490.6 257.8 L491.1 260.4 L491.6 262.9 L492.1 265.9 L492.6 270.9 L493.1 275.4 L493.6 278.6 L494.1 280.6 L494.6 281.1 L495.1 280.3 L495.6 278.7 L496.1 276.4 L496.6 273.5 L497.1 270.4 L497.6 266.7 L498.1 262.1 L498.6 256.3 L499.1 251.3 L499.6 247.0 L500.1 242.8 L500.6 238.6 L501.1 234.5 L501.6 230.5 L502.1 226.7 L502.6 223.2 L503.1 220.3 L503.6 217.9 L504.1 215.9 L504.6 214.4 L505.1 213.3 L505.6 212.2 L506.1 211.3 L506.6 210.4 L507.1 209.7 L507.6 209.0 L508.1 208.4 L508.6 207.9 L509.1 207.3 L509.6 206.8 L510.1 206.2 L510.6 205.8 L511.1 205.4 L511.6 205.0 L512.1 204.7 L512.6 204.4 L513.1 204.2 L513.6 203.9 L514.1 203.6 L514.6 203.4 L515.1 203.1 L515.6 202.9 L516.1 202.7 L516.6 202.6 L517.1 202.4 L517.6 202.3 L518.1 202.1 L518.6 202.0 L519.1 201.9 L519.6 201.7 L520.1 201.6 L520.6 201.4 L521.1 201.3 L521.6 201.2 L522.1 201.1 L522.6 201.0 L523.1 200.9 L523.6 200.8 L524.1 200.7 L524.6 200.6 L525.1 200.5 L525.6 200.4 L526.1 200.3 L526.6 200.2 L527.1 200.1 L527.6 200.0 L528.1 200.0 L528.6 199.9 L529.1 199.8 L529.6 199.7 L530.1 199.6 L530.6 199.6 L531.1 199.5 L531.6 199.4 L532.1 199.4 L532.6 199.3 L533.1 199.3 L533.6 199.2 L534.1 199.2 L534.6 199.1 L535.1 199.1 L535.6 199.0 L536.1 199.0 L536.6 198.9 L537.1 198.9 L537.6 198.8 L538.1 198.8 L538.6 198.8 L539.1 198.7 L539.6 198.7 L539.9 198.7" stroke="#3f1678" stroke-width="1.4" stroke-dasharray="3.5 1.8"/>
<path d="M263.5 190.5 L264.0 190.5 L264.5 190.5 L265.0 190.5 L265.5 190.5 L266.0 190.5 L266.5 190.5 L267.0 190.5 L267.5 190.5 L268.0 190.5 L268.5 190.5 L269.0 190.5 L269.5 190.5 L270.0 190.5 L270.5 190.5 L271.0 190.5 L271.5 190.5 L272.0 190.5 L272.5 190.5 L273.0 190.5 L273.5 190.5 L274.0 190.5 L274.5 190.5 L275.0 190.5 L275.5 190.5 L276.0 190.5 L276.5 190.5 L277.0 190.5 L277.5 190.5 L278.0 190.5 L278.5 190.5 L279.0 190.5 L279.5 190.5 L280.0 190.5 L280.5 190.5 L281.0 190.5 L281.5 190.5 L282.0 190.5 L282.5 190.5 L283.0 190.5 L283.5 190.5 L284.0 190.5 L284.5 190.5 L285.0 190.5 L285.5 190.5 L286.0 190.5 L286.5 190.5 L287.0 190.6 L287.5 190.6 L288.0 190.6 L288.5 190.6 L289.0 190.6 L289.5 190.6 L290.0 190.6 L290.5 190.6 L291.0 190.6 L291.5 190.6 L292.0 190.6 L292.5 190.6 L293.0 190.7 L293.5 190.7 L294.0 190.7 L294.5 190.7 L295.0 190.7 L295.5 190.8 L296.0 190.8 L296.5 190.8 L297.0 190.9 L297.5 190.9 L298.0 191.0 L298.5 191.0 L299.0 191.0 L299.5 191.1 L300.0 191.2 L300.5 191.2 L301.0 191.3 L301.5 191.3 L302.0 191.4 L302.5 191.4 L303.0 191.5 L303.5 191.6 L304.0 191.6 L304.5 191.7 L305.0 191.7 L305.5 191.8 L306.0 191.9 L306.5 191.9 L307.0 192.0 L307.5 192.0 L308.0 192.1 L308.5 192.1 L309.0 192.2 L309.5 192.3 L310.0 192.3 L310.5 192.4 L311.0 192.4 L311.5 192.5 L312.0 192.5 L312.5 192.6 L313.0 192.6 L313.5 192.7 L314.0 192.7 L314.5 192.8 L315.0 192.8 L315.5 192.9 L316.0 192.9 L316.5 193.0 L317.0 193.1 L317.5 193.1 L318.0 193.2 L318.5 193.2 L319.0 193.3 L319.5 193.3 L320.0 193.4 L320.5 193.4 L321.0 193.5 L321.5 193.5 L322.0 193.6 L322.5 193.6 L323.0 193.7 L323.5 193.7 L324.0 193.8 L324.5 193.8 L325.0 193.9 L325.5 193.9 L326.0 194.0 L326.5 194.1 L327.0 194.1 L327.5 194.2 L328.0 194.2 L328.5 194.3 L329.0 194.3 L329.5 194.4 L330.0 194.4 L330.5 194.5 L331.0 194.5 L331.5 194.6 L332.0 194.6 L332.5 194.7 L333.0 194.7 L333.5 194.8 L334.0 194.9 L334.5 194.9 L335.0 195.0 L335.5 195.1 L336.0 195.3 L336.5 195.4 L337.0 195.5 L337.5 195.7 L338.0 195.8 L338.5 196.0 L339.0 196.1 L339.5 196.3 L340.0 196.5 L340.5 196.6 L341.0 196.8 L341.5 197.0 L342.0 197.1 L342.5 197.3 L343.0 197.5 L343.5 197.6 L344.0 197.8 L344.5 198.0 L345.0 198.2 L345.5 198.3 L346.0 198.5 L346.5 198.7 L347.0 198.8 L347.5 199.0 L348.0 199.2 L348.5 199.3 L349.0 199.5 L349.5 199.7 L350.0 199.8 L350.5 200.0 L351.0 200.1 L351.5 200.2 L352.0 200.3 L352.5 200.4 L353.0 200.4 L353.5 200.4 L354.0 200.4 L354.5 200.3 L355.0 200.3 L355.5 200.2 L356.0 200.2 L356.5 200.1 L357.0 200.1 L357.5 200.0 L358.0 199.9 L358.5 199.9 L359.0 199.8 L359.5 199.7 L360.0 199.5 L360.5 199.8 L361.0 201.4 L361.5 204.4 L362.0 207.4 L362.5 210.2 L363.0 213.0 L363.5 215.7 L364.0 217.8 L364.5 219.3 L365.0 220.4 L365.5 220.9 L366.0 221.0 L366.5 219.9 L367.0 216.9 L367.5 213.8 L368.0 211.2 L368.5 208.8 L369.0 206.5 L369.5 204.4 L370.0 202.6 L370.5 201.0 L371.0 199.8 L371.5 198.9 L372.0 198.2 L372.5 197.5 L373.0 196.9 L373.5 196.5 L374.0 196.1 L374.5 195.7 L375.0 195.4 L375.5 195.1 L376.0 194.7 L376.5 194.4 L377.0 194.1 L377.5 193.9 L378.0 193.6 L378.5 193.4 L379.0 193.3 L379.5 193.1 L380.0 193.0 L380.5 192.8 L381.0 192.7 L381.5 192.6 L382.0 192.6 L382.5 192.6 L383.0 192.6 L383.5 192.7 L384.0 192.8 L384.5 193.0 L385.0 193.2 L385.5 193.3 L386.0 193.5 L386.5 193.7 L387.0 194.0 L387.5 194.2 L388.0 194.6 L388.5 194.9 L389.0 195.4 L389.5 195.9 L390.0 196.4 L390.5 197.0 L391.0 197.6 L391.5 198.2 L392.0 198.8 L392.5 199.5 L393.0 200.1 L393.5 200.7 L394.0 201.3 L394.5 201.9 L395.0 202.4 L395.5 202.9 L396.0 203.4 L396.5 203.9 L397.0 204.2 L397.5 204.4 L398.0 204.4 L398.5 204.3 L399.0 204.1 L399.5 203.7 L400.0 203.2 L400.5 202.6 L401.0 201.9 L401.5 201.2 L402.0 200.5 L402.5 200.0 L403.0 199.5 L403.5 199.1 L404.0 198.8 L404.5 198.5 L405.0 198.4 L405.5 198.2 L406.0 198.2 L406.5 198.2 L407.0 198.2 L407.5 198.3 L408.0 198.4 L408.5 198.5 L409.0 198.7 L409.5 198.8 L410.0 198.9 L410.5 199.1 L411.0 199.2 L411.5 199.4 L412.0 199.6 L412.5 199.9 L413.0 200.1 L413.5 200.3 L414.0 200.5 L414.5 200.7 L415.0 200.9 L415.5 201.1 L416.0 201.3 L416.5 201.5 L417.0 201.7 L417.5 201.9 L418.0 202.0 L418.5 202.2 L419.0 202.3 L419.5 202.5 L420.0 202.7 L420.5 202.8 L421.0 203.1 L421.5 203.3 L422.0 203.6 L422.5 203.9 L423.0 204.3 L423.5 204.6 L424.0 205.0 L424.5 205.3 L425.0 205.7 L425.5 206.1 L426.0 206.7 L426.5 207.5 L427.0 208.5 L427.5 209.7 L428.0 210.9 L428.5 212.2 L429.0 213.5 L429.5 214.8 L430.0 216.1 L430.5 217.4 L431.0 218.7 L431.5 220.0 L432.0 221.0 L432.5 221.7 L433.0 222.2 L433.5 222.5 L434.0 222.6 L434.5 222.5 L435.0 222.3 L435.5 222.0 L436.0 221.5 L436.5 220.8 L437.0 220.1 L437.5 219.3 L438.0 218.8 L438.5 218.4 L439.0 218.2 L439.5 218.7 L440.0 220.1 L440.5 222.2 L441.0 224.5 L441.5 227.0 L442.0 229.5 L442.5 232.4 L443.0 235.4 L443.5 238.3 L444.0 240.8 L444.5 242.9 L445.0 244.6 L445.5 246.1 L446.0 247.5 L446.5 248.9 L447.0 250.3 L447.5 251.7 L448.0 253.0 L448.5 254.3 L449.0 255.2 L449.5 255.6 L450.0 255.4 L450.5 254.8 L451.0 253.9 L451.5 252.8 L452.0 251.6 L452.5 250.0 L453.0 248.0 L453.5 244.9 L454.0 241.2 L454.5 238.1 L455.0 235.6 L455.5 233.5 L456.0 231.7 L456.5 230.3 L457.0 229.3 L457.5 228.6 L458.0 228.4 L458.5 228.6 L459.0 229.0 L459.5 229.4 L460.0 229.9 L460.5 230.5 L461.0 231.2 L461.5 231.8 L462.0 232.1 L462.5 232.2 L463.0 232.0 L463.5 231.6 L464.0 230.7 L464.5 229.8 L465.0 228.8 L465.5 227.7 L466.0 226.6 L466.5 225.5 L467.0 224.3 L467.5 223.1 L468.0 222.4 L468.5 222.3 L469.0 222.7 L469.5 224.3 L470.0 227.1 L470.5 230.4 L471.0 234.1 L471.5 238.0 L472.0 241.7 L472.5 244.8 L473.0 247.3 L473.5 249.2 L474.0 250.0 L474.5 249.6 L475.0 248.5 L475.5 247.6 L476.0 247.5 L476.5 248.2 L477.0 249.0 L477.5 249.8 L478.0 250.5 L478.5 251.1 L479.0 251.8 L479.5 252.4 L480.0 253.0 L480.5 253.5 L481.0 253.9 L481.5 254.1 L482.0 254.1 L482.5 254.0 L483.0 253.8 L483.5 253.6 L484.0 253.5 L484.5 253.5 L485.0 253.5 L485.5 253.5 L486.0 253.5 L486.5 253.6 L487.0 253.7 L487.5 254.0 L488.0 254.4 L488.5 255.0 L489.0 255.8 L489.5 256.7 L490.0 257.5 L490.5 258.1 L491.0 258.7 L491.5 259.2 L492.0 259.6 L492.5 259.9 L493.0 260.0 L493.5 260.0 L494.0 260.0 L494.5 259.8 L495.0 259.4 L495.5 258.5 L496.0 257.0 L496.5 255.3 L497.0 253.7 L497.5 251.8 L498.0 249.4 L498.5 244.2 L499.0 238.6 L499.5 234.3 L500.0 230.3 L500.5 226.7 L501.0 223.5 L501.5 220.6 L502.0 218.1 L502.5 216.0 L503.0 214.4 L503.5 213.3 L504.0 212.2 L504.5 211.3 L505.0 210.4 L505.5 209.7 L506.0 209.0 L506.5 208.4 L507.0 207.9 L507.5 207.3 L508.0 206.8 L508.5 206.2 L509.0 205.8 L509.5 205.4 L510.0 205.0 L510.5 204.7 L511.0 204.4 L511.5 204.2 L512.0 203.9 L512.5 203.6 L513.0 203.4 L513.5 203.1 L514.0 202.9 L514.5 202.7 L515.0 202.6 L515.5 202.4 L516.0 202.3 L516.5 202.1 L517.0 202.0 L517.5 201.9 L518.0 201.7 L518.5 201.6 L519.0 201.4 L519.5 201.3 L520.0 201.2 L520.5 201.1 L521.0 201.0 L521.5 200.9 L522.0 200.8 L522.5 200.7 L523.0 200.6 L523.5 200.5 L524.0 200.4 L524.5 200.3 L525.0 200.2 L525.5 200.1 L526.0 200.0 L526.5 200.0 L527.0 199.9 L527.5 199.8 L528.0 199.7 L528.5 199.6 L529.0 199.6 L529.5 199.5 L530.0 199.4 L530.5 199.4 L531.0 199.3 L531.5 199.3 L532.0 199.2 L532.5 199.2 L533.0 199.1 L533.5 199.1 L534.0 199.0 L534.5 199.0 L535.0 198.9 L535.5 198.9 L536.0 198.8 L536.5 198.8 L537.0 198.8 L537.5 198.7 L538.0 198.7 L538.3 198.7" stroke="#266d16" stroke-width="1.4" stroke-dasharray="1.5 1.9"/>
</g>
<line x1="263.50" y1="190.50" x2="557.50" y2="190.50" stroke="#111" stroke-width="0.9" />
<line x1="515.70" y1="95.00" x2="515.70" y2="286.00" stroke="#666" stroke-width="1.1" />
<rect x="263.50" y="95.00" width="294.00" height="191.00" fill="none" stroke="#2e2e2e" stroke-width="1.0"/>
<text x="263.70" y="300.30" font-size="14.6" text-anchor="middle" font-weight="normal" >-12</text>
<line x1="284.70" y1="286.00" x2="284.70" y2="281.40" stroke="#2e2e2e" stroke-width="0.95" />
<line x1="305.70" y1="286.00" x2="305.70" y2="277.60" stroke="#2e2e2e" stroke-width="0.95" />
<text x="305.70" y="300.30" font-size="14.6" text-anchor="middle" font-weight="normal" >-10</text>
<line x1="326.70" y1="286.00" x2="326.70" y2="281.40" stroke="#2e2e2e" stroke-width="0.95" />
<line x1="347.70" y1="286.00" x2="347.70" y2="277.60" stroke="#2e2e2e" stroke-width="0.95" />
<text x="347.70" y="300.30" font-size="14.6" text-anchor="middle" font-weight="normal" >-8</text>
<line x1="368.70" y1="286.00" x2="368.70" y2="281.40" stroke="#2e2e2e" stroke-width="0.95" />
<line x1="389.70" y1="286.00" x2="389.70" y2="277.60" stroke="#2e2e2e" stroke-width="0.95" />
<text x="389.70" y="300.30" font-size="14.6" text-anchor="middle" font-weight="normal" >-6</text>
<line x1="410.70" y1="286.00" x2="410.70" y2="281.40" stroke="#2e2e2e" stroke-width="0.95" />
<line x1="431.70" y1="286.00" x2="431.70" y2="277.60" stroke="#2e2e2e" stroke-width="0.95" />
<text x="431.70" y="300.30" font-size="14.6" text-anchor="middle" font-weight="normal" >-4</text>
<line x1="452.70" y1="286.00" x2="452.70" y2="281.40" stroke="#2e2e2e" stroke-width="0.95" />
<line x1="473.70" y1="286.00" x2="473.70" y2="277.60" stroke="#2e2e2e" stroke-width="0.95" />
<text x="473.70" y="300.30" font-size="14.6" text-anchor="middle" font-weight="normal" >-2</text>
<line x1="494.70" y1="286.00" x2="494.70" y2="281.40" stroke="#2e2e2e" stroke-width="0.95" />
<line x1="515.70" y1="286.00" x2="515.70" y2="277.60" stroke="#2e2e2e" stroke-width="0.95" />
<text x="515.70" y="300.30" font-size="14.6" text-anchor="middle" font-weight="normal" >0</text>
<line x1="536.70" y1="286.00" x2="536.70" y2="281.40" stroke="#2e2e2e" stroke-width="0.95" />
<text x="557.70" y="300.30" font-size="14.6" text-anchor="middle" font-weight="normal" >2</text>
<line x1="287.12" y1="95.00" x2="287.12" y2="103.40" stroke="#2e2e2e" stroke-width="0.95" />
<text x="287.12" y="90.80" font-size="14.6" text-anchor="middle" font-weight="normal" >-0.8</text>
<line x1="315.70" y1="95.00" x2="315.70" y2="99.60" stroke="#2e2e2e" stroke-width="0.95" />
<line x1="344.27" y1="95.00" x2="344.27" y2="103.40" stroke="#2e2e2e" stroke-width="0.95" />
<text x="344.27" y="90.80" font-size="14.6" text-anchor="middle" font-weight="normal" >-0.6</text>
<line x1="372.84" y1="95.00" x2="372.84" y2="99.60" stroke="#2e2e2e" stroke-width="0.95" />
<line x1="401.41" y1="95.00" x2="401.41" y2="103.40" stroke="#2e2e2e" stroke-width="0.95" />
<text x="401.41" y="90.80" font-size="14.6" text-anchor="middle" font-weight="normal" >-0.4</text>
<line x1="429.98" y1="95.00" x2="429.98" y2="99.60" stroke="#2e2e2e" stroke-width="0.95" />
<line x1="458.56" y1="95.00" x2="458.56" y2="103.40" stroke="#2e2e2e" stroke-width="0.95" />
<text x="458.56" y="90.80" font-size="14.6" text-anchor="middle" font-weight="normal" >-0.2</text>
<line x1="487.13" y1="95.00" x2="487.13" y2="99.60" stroke="#2e2e2e" stroke-width="0.95" />
<line x1="515.70" y1="95.00" x2="515.70" y2="103.40" stroke="#2e2e2e" stroke-width="0.95" />
<text x="515.70" y="90.80" font-size="14.6" text-anchor="middle" font-weight="normal" >0.0</text>
<line x1="544.27" y1="95.00" x2="544.27" y2="99.60" stroke="#2e2e2e" stroke-width="0.95" />
<line x1="263.50" y1="276.48" x2="271.70" y2="276.48" stroke="#2e2e2e" stroke-width="0.95" />
<line x1="557.50" y1="276.48" x2="549.30" y2="276.48" stroke="#2e2e2e" stroke-width="0.95" />
<text x="258.90" y="281.48" font-size="14.7" text-anchor="end" font-weight="normal" >-90</text>
<line x1="263.50" y1="262.15" x2="267.90" y2="262.15" stroke="#2e2e2e" stroke-width="0.95" />
<line x1="557.50" y1="262.15" x2="553.10" y2="262.15" stroke="#2e2e2e" stroke-width="0.95" />
<line x1="263.50" y1="247.82" x2="271.70" y2="247.82" stroke="#2e2e2e" stroke-width="0.95" />
<line x1="557.50" y1="247.82" x2="549.30" y2="247.82" stroke="#2e2e2e" stroke-width="0.95" />
<text x="258.90" y="252.82" font-size="14.7" text-anchor="end" font-weight="normal" >-60</text>
<line x1="263.50" y1="233.49" x2="267.90" y2="233.49" stroke="#2e2e2e" stroke-width="0.95" />
<line x1="557.50" y1="233.49" x2="553.10" y2="233.49" stroke="#2e2e2e" stroke-width="0.95" />
<line x1="263.50" y1="219.16" x2="271.70" y2="219.16" stroke="#2e2e2e" stroke-width="0.95" />
<line x1="557.50" y1="219.16" x2="549.30" y2="219.16" stroke="#2e2e2e" stroke-width="0.95" />
<text x="258.90" y="224.16" font-size="14.7" text-anchor="end" font-weight="normal" >-30</text>
<line x1="263.50" y1="204.83" x2="267.90" y2="204.83" stroke="#2e2e2e" stroke-width="0.95" />
<line x1="557.50" y1="204.83" x2="553.10" y2="204.83" stroke="#2e2e2e" stroke-width="0.95" />
<line x1="263.50" y1="190.50" x2="271.70" y2="190.50" stroke="#2e2e2e" stroke-width="0.95" />
<line x1="557.50" y1="190.50" x2="549.30" y2="190.50" stroke="#2e2e2e" stroke-width="0.95" />
<text x="258.90" y="195.50" font-size="14.7" text-anchor="end" font-weight="normal" >0</text>
<line x1="263.50" y1="176.17" x2="267.90" y2="176.17" stroke="#2e2e2e" stroke-width="0.95" />
<line x1="557.50" y1="176.17" x2="553.10" y2="176.17" stroke="#2e2e2e" stroke-width="0.95" />
<line x1="263.50" y1="161.84" x2="271.70" y2="161.84" stroke="#2e2e2e" stroke-width="0.95" />
<line x1="557.50" y1="161.84" x2="549.30" y2="161.84" stroke="#2e2e2e" stroke-width="0.95" />
<text x="258.90" y="166.84" font-size="14.7" text-anchor="end" font-weight="normal" >30</text>
<line x1="263.50" y1="147.51" x2="267.90" y2="147.51" stroke="#2e2e2e" stroke-width="0.95" />
<line x1="557.50" y1="147.51" x2="553.10" y2="147.51" stroke="#2e2e2e" stroke-width="0.95" />
<line x1="263.50" y1="133.18" x2="271.70" y2="133.18" stroke="#2e2e2e" stroke-width="0.95" />
<line x1="557.50" y1="133.18" x2="549.30" y2="133.18" stroke="#2e2e2e" stroke-width="0.95" />
<text x="258.90" y="138.18" font-size="14.7" text-anchor="end" font-weight="normal" >60</text>
<line x1="263.50" y1="118.85" x2="267.90" y2="118.85" stroke="#2e2e2e" stroke-width="0.95" />
<line x1="557.50" y1="118.85" x2="553.10" y2="118.85" stroke="#2e2e2e" stroke-width="0.95" />
<line x1="263.50" y1="104.52" x2="271.70" y2="104.52" stroke="#2e2e2e" stroke-width="0.95" />
<line x1="557.50" y1="104.52" x2="549.30" y2="104.52" stroke="#2e2e2e" stroke-width="0.95" />
<text x="258.90" y="109.52" font-size="14.7" text-anchor="end" font-weight="normal" >90</text>
<text x="277.10" y="116.60" font-size="14.85" text-anchor="start" font-weight="normal" >Minority spin</text>
<text x="277.10" y="274.20" font-size="14.85" text-anchor="start" font-weight="normal" >Majority spin</text>
<clipPath id="clipb"><rect x="936.50" y="61.00" width="767.50" height="424.50"/></clipPath>
<g clip-path="url(#clipb)" fill="none" stroke-linejoin="round">
<path d="M930.0 37.3 L931.5 39.7 L933.0 42.2 L934.5 44.7 L936.0 47.2 L937.5 49.7 L939.0 52.3 L940.5 54.9 L942.0 57.5 L943.5 60.2 L945.0 62.8 L946.5 65.5 L948.0 68.3 L949.5 71.0 L951.0 73.8 L952.5 76.6 L954.0 79.4 L955.5 82.2 L957.0 85.1 L958.5 88.0 L960.0 90.9 L961.5 93.8 L963.0 96.7 L964.5 99.7 L966.0 102.6 L967.5 105.6 L969.0 108.6 L970.5 111.6 L972.0 114.7 L973.5 117.7 L975.0 120.8 L976.5 123.8 L978.0 126.9 L979.5 130.0 L981.0 133.1 L982.5 136.3 L984.0 139.4 L985.5 142.5 L987.0 145.6 L988.5 148.8 L990.0 151.9 L991.5 155.0 L993.0 158.2 L994.5 161.3 L996.0 164.4 L997.5 167.5 L999.0 170.7 L1000.5 173.8 L1002.0 176.8 L1003.5 179.9 L1005.0 183.0 L1006.5 186.0 L1008.0 189.0 L1009.5 192.1 L1011.0 195.0 L1012.5 198.0 L1014.0 201.0 L1015.5 203.9 L1017.0 206.8 L1018.5 209.7 L1020.0 212.6 L1021.5 215.4 L1023.0 218.3 L1024.5 221.1 L1026.0 223.9 L1027.5 226.7 L1029.0 229.4 L1030.5 232.2 L1032.0 234.9 L1033.5 237.6 L1035.0 240.3 L1036.5 242.9 L1038.0 245.6 L1039.5 248.2 L1041.0 250.8 L1042.5 253.4 L1044.0 256.0 L1045.5 258.5 L1047.0 261.0 L1048.5 263.5 L1050.0 266.0 L1051.5 268.5 L1053.0 270.9 L1054.5 273.3 L1056.0 275.7 L1057.5 278.1 L1059.0 280.5 L1060.5 282.8 L1062.0 285.1 L1063.5 287.4 L1065.0 289.7 L1066.5 292.0 L1068.0 294.2 L1069.5 296.4 L1071.0 298.6 L1072.5 300.8 L1074.0 302.9 L1075.5 305.1 L1077.0 307.2 L1078.5 309.3 L1080.0 311.3 L1081.5 313.4 L1083.0 315.4 L1084.5 317.4 L1086.0 319.4 L1087.5 321.3 L1089.0 323.3 L1090.5 325.2 L1092.0 327.1 L1093.5 329.0 L1095.0 330.8 L1096.5 332.7 L1098.0 334.5 L1099.5 336.2 L1101.0 338.0 L1102.5 339.7 L1104.0 341.5 L1105.5 343.1 L1107.0 344.8 L1108.5 346.4 L1110.0 348.1 L1111.5 349.6 L1113.0 351.2 L1114.5 352.7 L1116.0 354.3 L1117.5 355.7 L1119.0 357.2 L1120.5 358.6 L1122.0 360.0 L1123.5 361.4 L1125.0 362.8 L1126.5 364.1 L1128.0 365.4 L1129.5 366.7 L1131.0 367.9 L1132.5 369.1 L1134.0 370.3 L1135.5 371.5 L1137.0 372.6 L1138.5 373.7 L1140.0 374.8 L1141.5 375.8 L1143.0 376.9 L1144.5 377.9 L1146.0 378.8 L1147.5 379.8 L1149.0 380.7 L1150.5 381.6 L1152.0 382.5 L1153.5 383.3 L1155.0 384.2 L1156.5 385.0 L1158.0 385.8 L1159.5 386.5 L1161.0 387.3 L1162.5 388.0 L1164.0 388.7 L1165.5 389.4 L1167.0 390.1 L1168.5 390.7 L1170.0 391.3 L1171.5 392.0 L1173.0 392.5 L1174.5 393.1 L1176.0 393.7 L1177.5 394.2 L1179.0 394.7 L1180.5 395.3 L1182.0 395.8 L1183.5 396.2 L1185.0 396.7 L1186.5 397.2 L1188.0 397.6 L1189.5 398.0 L1191.0 398.4 L1192.5 398.8 L1194.0 399.2 L1195.5 399.6 L1197.0 400.0 L1198.5 400.3 L1200.0 400.7 L1201.5 401.0 L1203.0 401.3 L1204.5 401.6 L1206.0 401.9 L1207.5 402.2 L1209.0 402.5 L1210.5 402.8 L1212.0 403.0 L1213.5 403.3 L1215.0 403.5 L1216.5 403.8 L1218.0 404.0 L1219.5 404.3 L1221.0 404.5 L1222.5 404.7 L1224.0 404.9 L1225.5 405.1 L1227.0 405.3 L1228.5 405.5 L1230.0 405.7 L1231.5 405.9 L1233.0 406.0 L1234.5 406.2 L1236.0 406.4 L1237.5 406.6 L1239.0 406.7 L1240.5 406.9 L1242.0 407.1 L1243.5 407.2 L1245.0 407.4 L1246.5 407.5 L1248.0 407.7 L1249.5 407.8 L1251.0 408.0 L1252.5 408.2 L1254.0 408.3 L1255.5 408.5 L1257.0 408.6 L1258.5 408.8 L1260.0 408.9 L1261.5 409.1 L1263.0 409.2 L1264.5 409.3 L1266.0 409.5 L1267.5 409.6 L1269.0 409.7 L1270.5 409.8 L1272.0 409.9 L1273.5 410.0 L1275.0 410.1 L1276.5 410.2 L1278.0 410.3 L1279.5 410.4 L1281.0 410.5 L1282.5 410.5 L1284.0 410.6 L1285.5 410.6 L1287.0 410.7 L1288.5 410.7 L1290.0 410.7 L1291.5 410.7 L1293.0 410.7 L1294.5 410.7 L1296.0 410.7 L1297.5 410.6 L1299.0 410.6 L1300.5 410.5 L1302.0 410.4 L1303.5 410.3 L1305.0 410.2 L1306.5 410.1 L1308.0 410.0 L1309.5 409.8 L1311.0 409.7 L1312.5 409.5 L1314.0 409.4 L1315.5 409.2 L1317.0 409.0 L1318.5 408.8 L1320.0 408.6 L1321.5 408.4 L1323.0 408.1 L1324.5 407.9 L1326.0 407.7 L1327.5 407.4 L1329.0 407.2 L1330.5 406.9 L1332.0 406.7 L1333.5 406.4 L1335.0 406.1 L1336.5 405.8 L1338.0 405.6 L1339.5 405.3 L1341.0 405.0 L1342.5 404.7 L1344.0 404.4 L1345.5 404.1 L1347.0 403.8 L1348.5 403.5 L1350.0 403.2 L1351.5 402.9 L1353.0 402.6 L1354.5 402.3 L1356.0 402.0 L1357.5 401.7 L1359.0 401.4 L1360.5 401.1 L1362.0 400.8 L1363.5 400.5 L1365.0 400.2 L1366.5 399.9 L1368.0 399.6 L1369.5 399.4 L1371.0 399.1 L1372.5 398.8 L1374.0 398.5 L1375.5 398.3 L1377.0 398.0 L1378.5 397.7 L1380.0 397.5 L1381.5 397.2 L1383.0 397.0 L1384.5 396.8 L1386.0 396.5 L1387.5 396.3 L1389.0 396.1 L1390.5 395.9 L1392.0 395.7 L1393.5 395.5 L1395.0 395.3 L1396.5 395.1 L1398.0 394.9 L1399.5 394.8 L1401.0 394.6 L1402.5 394.5 L1404.0 394.3 L1405.5 394.2 L1407.0 394.1 L1408.5 394.0 L1410.0 393.9 L1411.5 393.8 L1413.0 393.7 L1414.5 393.6 L1416.0 393.6 L1417.5 393.5 L1419.0 393.5 L1420.5 393.5 L1422.0 393.5 L1423.5 393.5 L1425.0 393.5 L1426.5 393.5 L1428.0 393.5 L1429.5 393.6 L1431.0 393.7 L1432.5 393.7 L1434.0 393.8 L1435.5 393.8 L1437.0 393.9 L1438.5 394.0 L1440.0 394.1 L1441.5 394.1 L1443.0 394.2 L1444.5 394.2 L1446.0 394.3 L1447.5 394.3 L1449.0 394.3 L1450.5 394.4 L1452.0 394.4 L1453.5 394.3 L1455.0 394.3 L1456.5 394.2 L1458.0 394.2 L1459.5 394.1 L1461.0 393.9 L1462.5 393.8 L1464.0 393.6 L1465.5 393.4 L1467.0 393.2 L1468.5 392.9 L1470.0 392.6 L1471.5 392.3 L1473.0 391.9 L1474.5 391.5 L1476.0 391.0 L1477.5 390.5 L1479.0 390.0 L1480.5 389.4 L1482.0 388.8 L1483.5 388.1 L1485.0 387.3 L1486.5 386.6 L1488.0 385.7 L1489.5 384.9 L1491.0 384.0 L1492.5 383.0 L1494.0 382.0 L1495.5 380.9 L1497.0 379.9 L1498.5 378.7 L1500.0 377.5 L1501.5 376.3 L1503.0 375.1 L1504.5 373.8 L1506.0 372.4 L1507.5 371.1 L1509.0 369.6 L1510.5 368.2 L1512.0 366.7 L1513.5 365.2 L1515.0 363.6 L1516.5 362.0 L1518.0 360.4 L1519.5 358.8 L1521.0 357.1 L1522.5 355.3 L1524.0 353.6 L1525.5 351.8 L1527.0 350.0 L1528.5 348.1 L1530.0 346.3 L1531.5 344.4 L1533.0 342.5 L1534.5 340.6 L1536.0 338.7 L1537.5 336.8 L1539.0 334.8 L1540.5 332.9 L1542.0 331.0 L1543.5 329.1 L1545.0 327.2 L1546.5 325.3 L1548.0 323.4 L1549.5 321.6 L1551.0 319.8 L1552.5 318.0 L1554.0 316.2 L1555.5 314.5 L1557.0 312.8 L1558.5 311.1 L1560.0 309.5 L1561.5 308.0 L1563.0 306.5 L1564.5 305.0 L1566.0 303.6 L1567.5 302.3 L1569.0 301.0 L1570.5 299.8 L1572.0 298.7 L1573.5 297.7 L1575.0 296.7 L1576.5 295.8 L1578.0 295.0 L1579.5 294.3 L1581.0 293.6 L1582.5 293.0 L1584.0 292.5 L1585.5 292.1 L1587.0 291.7 L1588.5 291.4 L1590.0 291.2 L1591.5 291.1 L1593.0 291.0 L1594.5 291.0 L1596.0 291.0 L1597.5 291.1 L1599.0 291.3 L1600.5 291.5 L1602.0 291.7 L1603.5 292.1 L1605.0 292.5 L1606.5 292.9 L1608.0 293.4 L1609.5 293.9 L1611.0 294.5 L1612.5 295.1 L1614.0 295.8 L1615.5 296.5 L1617.0 297.3 L1618.5 298.0 L1620.0 298.9 L1621.5 299.8 L1623.0 300.7 L1624.5 301.6 L1626.0 302.6 L1627.5 303.6 L1629.0 304.6 L1630.5 305.7 L1632.0 306.8 L1633.5 307.9 L1635.0 309.0 L1636.5 310.2 L1638.0 311.4 L1639.5 312.6 L1641.0 313.8 L1642.5 315.0 L1644.0 316.3 L1645.5 317.5 L1647.0 318.8 L1648.5 320.1 L1650.0 321.3 L1651.5 322.6 L1653.0 323.9 L1654.5 325.2 L1656.0 326.5 L1657.5 327.8 L1659.0 329.1 L1660.5 330.4 L1662.0 331.7 L1663.5 332.9 L1665.0 334.2 L1666.5 335.4 L1668.0 336.7 L1669.5 337.9 L1671.0 339.1 L1672.5 340.3 L1674.0 341.5 L1675.5 342.7 L1677.0 343.8 L1678.5 344.9 L1680.0 346.0 L1681.5 347.1 L1683.0 348.1 L1684.5 349.2 L1686.0 350.2 L1687.5 351.2 L1689.0 352.1 L1690.5 353.1 L1692.0 354.0 L1693.5 354.9 L1695.0 355.8 L1696.5 356.6 L1698.0 357.5 L1699.5 358.3 L1701.0 359.1 L1702.5 359.8 L1704.0 360.6 L1705.5 361.3 L1707.0 362.0 L1708.5 362.7 L1710.0 363.3 L1711.5 364.0 L1712.0 364.2" stroke="#000" stroke-width="2.5"/>
<path d="M930.0 -7.1 L931.5 -4.3 L933.0 -1.5 L934.5 1.3 L936.0 4.1 L937.5 6.9 L939.0 9.6 L940.5 12.4 L942.0 15.2 L943.5 17.9 L945.0 20.7 L946.5 23.5 L948.0 26.2 L949.5 29.0 L951.0 31.7 L952.5 34.5 L954.0 37.3 L955.5 40.0 L957.0 42.8 L958.5 45.6 L960.0 48.3 L961.5 51.1 L963.0 53.9 L964.5 56.7 L966.0 59.5 L967.5 62.3 L969.0 65.1 L970.5 67.9 L972.0 70.7 L973.5 73.5 L975.0 76.4 L976.5 79.2 L978.0 82.1 L979.5 84.9 L981.0 87.8 L982.5 90.7 L984.0 93.6 L985.5 96.5 L987.0 99.4 L988.5 102.3 L990.0 105.3 L991.5 108.2 L993.0 111.2 L994.5 114.2 L996.0 117.2 L997.5 120.2 L999.0 123.2 L1000.5 126.2 L1002.0 129.2 L1003.5 132.3 L1005.0 135.3 L1006.5 138.3 L1008.0 141.4 L1009.5 144.4 L1011.0 147.5 L1012.5 150.6 L1014.0 153.6 L1015.5 156.7 L1017.0 159.7 L1018.5 162.8 L1020.0 165.8 L1021.5 168.9 L1023.0 171.9 L1024.5 174.9 L1026.0 178.0 L1027.5 181.0 L1029.0 184.0 L1030.5 187.0 L1032.0 190.0 L1033.5 193.0 L1035.0 196.0 L1036.5 198.9 L1038.0 201.9 L1039.5 204.8 L1041.0 207.8 L1042.5 210.7 L1044.0 213.6 L1045.5 216.5 L1047.0 219.4 L1048.5 222.3 L1050.0 225.1 L1051.5 228.0 L1053.0 230.8 L1054.5 233.6 L1056.0 236.4 L1057.5 239.2 L1059.0 242.0 L1060.5 244.8 L1062.0 247.5 L1063.5 250.2 L1065.0 253.0 L1066.5 255.6 L1068.0 258.3 L1069.5 261.0 L1071.0 263.6 L1072.5 266.2 L1074.0 268.7 L1075.5 271.3 L1077.0 273.8 L1078.5 276.2 L1080.0 278.6 L1081.5 281.0 L1083.0 283.3 L1084.5 285.6 L1086.0 287.8 L1087.5 290.0 L1089.0 292.2 L1090.5 294.3 L1092.0 296.5 L1093.5 298.5 L1095.0 300.6 L1096.5 302.7 L1098.0 304.7 L1099.5 306.8 L1101.0 308.9 L1102.5 310.9 L1104.0 313.0 L1105.5 315.0 L1107.0 317.1 L1108.5 319.1 L1110.0 321.1 L1111.5 323.2 L1113.0 325.2 L1114.5 327.1 L1116.0 329.1 L1117.5 331.0 L1119.0 332.9 L1120.5 334.8 L1122.0 336.7 L1123.5 338.5 L1125.0 340.3 L1126.5 342.0 L1128.0 343.7 L1129.5 345.4 L1131.0 347.0 L1132.5 348.5 L1134.0 350.1 L1135.5 351.5 L1137.0 353.0 L1138.5 354.4 L1140.0 355.8 L1141.5 357.1 L1143.0 358.4 L1144.5 359.7 L1146.0 361.0 L1147.5 362.3 L1149.0 363.5 L1150.5 364.7 L1152.0 365.9 L1153.5 367.1 L1155.0 368.2 L1156.5 369.3 L1158.0 370.4 L1159.5 371.5 L1161.0 372.6 L1162.5 373.6 L1164.0 374.6 L1165.5 375.6 L1167.0 376.6 L1168.5 377.6 L1170.0 378.5 L1171.5 379.4 L1173.0 380.3 L1174.5 381.2 L1176.0 382.1 L1177.5 382.9 L1179.0 383.7 L1180.5 384.6 L1182.0 385.3 L1183.5 386.1 L1185.0 386.9 L1186.5 387.6 L1188.0 388.3 L1189.5 389.0 L1191.0 389.7 L1192.5 390.3 L1194.0 391.0 L1195.5 391.6 L1197.0 392.2 L1198.5 392.8 L1200.0 393.4 L1201.5 393.9 L1203.0 394.5 L1204.5 395.0 L1206.0 395.5 L1207.5 396.0 L1209.0 396.5 L1210.5 396.9 L1212.0 397.4 L1213.5 397.8 L1215.0 398.2 L1216.5 398.6 L1218.0 399.0 L1219.5 399.4 L1221.0 399.8 L1222.5 400.1 L1224.0 400.5 L1225.5 400.8 L1227.0 401.1 L1228.5 401.4 L1230.0 401.7 L1231.5 402.0 L1233.0 402.3 L1234.5 402.6 L1236.0 402.8 L1237.5 403.1 L1239.0 403.3 L1240.5 403.6 L1242.0 403.8 L1243.5 404.0 L1245.0 404.2 L1246.5 404.4 L1248.0 404.6 L1249.5 404.8 L1251.0 405.0 L1252.5 405.2 L1254.0 405.4 L1255.5 405.6 L1257.0 405.7 L1258.5 405.9 L1260.0 406.1 L1261.5 406.2 L1263.0 406.4 L1264.5 406.5 L1266.0 406.7 L1267.5 406.8 L1269.0 407.0 L1270.5 407.1 L1272.0 407.3 L1273.5 407.4 L1275.0 407.5 L1276.5 407.6 L1278.0 407.8 L1279.5 407.9 L1281.0 408.0 L1282.5 408.1 L1284.0 408.2 L1285.5 408.3 L1287.0 408.4 L1288.5 408.5 L1290.0 408.6 L1291.5 408.6 L1293.0 408.7 L1294.5 408.8 L1296.0 408.8 L1297.5 408.9 L1299.0 408.9 L1300.5 409.0 L1302.0 409.0 L1303.5 409.0 L1305.0 409.0 L1306.5 409.0 L1308.0 409.0 L1309.5 409.0 L1311.0 409.0 L1312.5 409.0 L1314.0 408.9 L1315.5 408.9 L1317.0 408.8 L1318.5 408.8 L1320.0 408.7 L1321.5 408.6 L1323.0 408.5 L1324.5 408.5 L1326.0 408.4 L1327.5 408.3 L1329.0 408.1 L1330.5 408.0 L1332.0 407.9 L1333.5 407.8 L1335.0 407.6 L1336.5 407.5 L1338.0 407.3 L1339.5 407.2 L1341.0 407.0 L1342.5 406.8 L1344.0 406.7 L1345.5 406.5 L1347.0 406.3 L1348.5 406.1 L1350.0 405.9 L1351.5 405.7 L1353.0 405.5 L1354.5 405.3 L1356.0 405.1 L1357.5 404.8 L1359.0 404.6 L1360.5 404.4 L1362.0 404.2 L1363.5 403.9 L1365.0 403.7 L1366.5 403.4 L1368.0 403.2 L1369.5 402.9 L1371.0 402.7 L1372.5 402.4 L1374.0 402.2 L1375.5 401.9 L1377.0 401.7 L1378.5 401.4 L1380.0 401.1 L1381.5 400.9 L1383.0 400.6 L1384.5 400.3 L1386.0 400.1 L1387.5 399.8 L1389.0 399.5 L1390.5 399.2 L1392.0 399.0 L1393.5 398.7 L1395.0 398.4 L1396.5 398.2 L1398.0 397.9 L1399.5 397.7 L1401.0 397.4 L1402.5 397.1 L1404.0 396.9 L1405.5 396.6 L1407.0 396.4 L1408.5 396.2 L1410.0 395.9 L1411.5 395.7 L1413.0 395.5 L1414.5 395.3 L1416.0 395.1 L1417.5 394.9 L1419.0 394.7 L1420.5 394.5 L1422.0 394.3 L1423.5 394.1 L1425.0 394.0 L1426.5 393.8 L1428.0 393.6 L1429.5 393.5 L1431.0 393.4 L1432.5 393.3 L1434.0 393.1 L1435.5 393.0 L1437.0 393.0 L1438.5 392.9 L1440.0 392.8 L1441.5 392.8 L1443.0 392.7 L1444.5 392.7 L1446.0 392.6 L1447.5 392.6 L1449.0 392.6 L1450.5 392.6 L1452.0 392.6 L1453.5 392.6 L1455.0 392.6 L1456.5 392.6 L1458.0 392.6 L1459.5 392.5 L1461.0 392.5 L1462.5 392.5 L1464.0 392.5 L1465.5 392.5 L1467.0 392.5 L1468.5 392.5 L1470.0 392.5 L1471.5 392.5 L1473.0 392.4 L1474.5 392.4 L1476.0 392.3 L1477.5 392.3 L1479.0 392.2 L1480.5 392.1 L1482.0 392.0 L1483.5 391.9 L1485.0 391.8 L1486.5 391.7 L1488.0 391.5 L1489.5 391.4 L1491.0 391.2 L1492.5 391.0 L1494.0 390.8 L1495.5 390.5 L1497.0 390.3 L1498.5 390.0 L1500.0 389.7 L1501.5 389.4 L1503.0 389.0 L1504.5 388.7 L1506.0 388.3 L1507.5 387.9 L1509.0 387.4 L1510.5 386.9 L1512.0 386.4 L1513.5 385.9 L1515.0 385.3 L1516.5 384.6 L1518.0 384.0 L1519.5 383.3 L1521.0 382.5 L1522.5 381.8 L1524.0 380.9 L1525.5 380.1 L1527.0 379.1 L1528.5 378.2 L1530.0 377.1 L1531.5 376.1 L1533.0 374.9 L1534.5 373.8 L1536.0 372.5 L1537.5 371.2 L1539.0 369.9 L1540.5 368.5 L1542.0 367.0 L1543.5 365.5 L1545.0 364.0 L1546.5 362.4 L1548.0 360.8 L1549.5 359.2 L1551.0 357.5 L1552.5 355.8 L1554.0 354.0 L1555.5 352.3 L1557.0 350.5 L1558.5 348.7 L1560.0 346.9 L1561.5 345.1 L1563.0 343.3 L1564.5 341.5 L1566.0 339.6 L1567.5 337.8 L1569.0 336.0 L1570.5 334.2 L1572.0 332.4 L1573.5 330.6 L1575.0 328.9 L1576.5 327.1 L1578.0 325.4 L1579.5 323.7 L1581.0 322.1 L1582.5 320.5 L1584.0 318.9 L1585.5 317.3 L1587.0 315.8 L1588.5 314.4 L1590.0 312.9 L1591.5 311.6 L1593.0 310.2 L1594.5 309.0 L1596.0 307.7 L1597.5 306.6 L1599.0 305.4 L1600.5 304.3 L1602.0 303.3 L1603.5 302.3 L1605.0 301.3 L1606.5 300.4 L1608.0 299.6 L1609.5 298.8 L1611.0 298.1 L1612.5 297.4 L1614.0 296.7 L1615.5 296.1 L1617.0 295.6 L1618.5 295.1 L1620.0 294.7 L1621.5 294.3 L1623.0 294.0 L1624.5 293.7 L1626.0 293.5 L1627.5 293.4 L1629.0 293.3 L1630.5 293.2 L1632.0 293.2 L1633.5 293.3 L1635.0 293.4 L1636.5 293.6 L1638.0 293.8 L1639.5 294.0 L1641.0 294.3 L1642.5 294.7 L1644.0 295.1 L1645.5 295.5 L1647.0 296.0 L1648.5 296.5 L1650.0 297.1 L1651.5 297.7 L1653.0 298.3 L1654.5 299.0 L1656.0 299.7 L1657.5 300.4 L1659.0 301.2 L1660.5 302.0 L1662.0 302.9 L1663.5 303.7 L1665.0 304.6 L1666.5 305.6 L1668.0 306.5 L1669.5 307.5 L1671.0 308.5 L1672.5 309.6 L1674.0 310.7 L1675.5 311.7 L1677.0 312.8 L1678.5 314.0 L1680.0 315.1 L1681.5 316.3 L1683.0 317.5 L1684.5 318.6 L1686.0 319.8 L1687.5 321.1 L1689.0 322.3 L1690.5 323.5 L1692.0 324.7 L1693.5 326.0 L1695.0 327.2 L1696.5 328.4 L1698.0 329.7 L1699.5 330.9 L1701.0 332.1 L1702.5 333.4 L1704.0 334.6 L1705.5 335.8 L1707.0 337.0 L1708.5 338.1 L1710.0 339.3 L1711.5 340.5 L1712.0 340.8" stroke="#3f1678" stroke-width="2.25" stroke-dasharray="6.7 3.8"/>
<path d="M930.0 101.5 L931.5 104.1 L933.0 106.7 L934.5 109.3 L936.0 111.9 L937.5 114.4 L939.0 117.0 L940.5 119.5 L942.0 122.1 L943.5 124.6 L945.0 127.1 L946.5 129.6 L948.0 132.1 L949.5 134.7 L951.0 137.1 L952.5 139.6 L954.0 142.1 L955.5 144.6 L957.0 147.1 L958.5 149.5 L960.0 152.0 L961.5 154.4 L963.0 156.9 L964.5 159.3 L966.0 161.7 L967.5 164.2 L969.0 166.6 L970.5 169.0 L972.0 171.4 L973.5 173.8 L975.0 176.2 L976.5 178.6 L978.0 181.0 L979.5 183.3 L981.0 185.7 L982.5 188.1 L984.0 190.5 L985.5 192.8 L987.0 195.2 L988.5 197.5 L990.0 199.9 L991.5 202.2 L993.0 204.5 L994.5 206.9 L996.0 209.2 L997.5 211.5 L999.0 213.8 L1000.5 216.2 L1002.0 218.5 L1003.5 220.8 L1005.0 223.1 L1006.5 225.4 L1008.0 227.7 L1009.5 230.0 L1011.0 232.2 L1012.5 234.5 L1014.0 236.8 L1015.5 239.1 L1017.0 241.3 L1018.5 243.6 L1020.0 245.9 L1021.5 248.1 L1023.0 250.3 L1024.5 252.6 L1026.0 254.8 L1027.5 257.0 L1029.0 259.3 L1030.5 261.5 L1032.0 263.7 L1033.5 265.9 L1035.0 268.1 L1036.5 270.3 L1038.0 272.5 L1039.5 274.6 L1041.0 276.8 L1042.5 279.0 L1044.0 281.1 L1045.5 283.3 L1047.0 285.4 L1048.5 287.5 L1050.0 289.7 L1051.5 291.8 L1053.0 293.9 L1054.5 296.0 L1056.0 298.0 L1057.5 300.1 L1059.0 302.2 L1060.5 304.2 L1062.0 306.2 L1063.5 308.2 L1065.0 310.2 L1066.5 312.2 L1068.0 314.2 L1069.5 316.2 L1071.0 318.1 L1072.5 320.0 L1074.0 322.0 L1075.5 323.9 L1077.0 325.7 L1078.5 327.6 L1080.0 329.4 L1081.5 331.3 L1083.0 333.1 L1084.5 334.9 L1086.0 336.6 L1087.5 338.4 L1089.0 340.1 L1090.5 341.8 L1092.0 343.5 L1093.5 345.1 L1095.0 346.7 L1096.5 348.4 L1098.0 349.9 L1099.5 351.5 L1101.0 353.0 L1102.5 354.5 L1104.0 356.0 L1105.5 357.5 L1107.0 358.9 L1108.5 360.3 L1110.0 361.7 L1111.5 363.0 L1113.0 364.3 L1114.5 365.6 L1116.0 366.8 L1117.5 368.1 L1119.0 369.2 L1120.5 370.4 L1122.0 371.5 L1123.5 372.6 L1125.0 373.7 L1126.5 374.7 L1128.0 375.7 L1129.5 376.7 L1131.0 377.6 L1132.5 378.5 L1134.0 379.4 L1135.5 380.3 L1137.0 381.1 L1138.5 382.0 L1140.0 382.8 L1141.5 383.5 L1143.0 384.3 L1144.5 385.0 L1146.0 385.7 L1147.5 386.4 L1149.0 387.1 L1150.5 387.8 L1152.0 388.4 L1153.5 389.0 L1155.0 389.7 L1156.5 390.3 L1158.0 390.9 L1159.5 391.4 L1161.0 392.0 L1162.5 392.6 L1164.0 393.1 L1165.5 393.6 L1167.0 394.2 L1168.5 394.7 L1170.0 395.2 L1171.5 395.7 L1173.0 396.2 L1174.5 396.7 L1176.0 397.1 L1177.5 397.6 L1179.0 398.1 L1180.5 398.5 L1182.0 398.9 L1183.5 399.4 L1185.0 399.8 L1186.5 400.2 L1188.0 400.6 L1189.5 401.0 L1191.0 401.4 L1192.5 401.7 L1194.0 402.1 L1195.5 402.5 L1197.0 402.8 L1198.5 403.2 L1200.0 403.5 L1201.5 403.8 L1203.0 404.2 L1204.5 404.5 L1206.0 404.8 L1207.5 405.1 L1209.0 405.4 L1210.5 405.6 L1212.0 405.9 L1213.5 406.2 L1215.0 406.4 L1216.5 406.7 L1218.0 406.9 L1219.5 407.2 L1221.0 407.4 L1222.5 407.6 L1224.0 407.8 L1225.5 408.1 L1227.0 408.3 L1228.5 408.5 L1230.0 408.6 L1231.5 408.8 L1233.0 409.0 L1234.5 409.2 L1236.0 409.3 L1237.5 409.5 L1239.0 409.6 L1240.5 409.8 L1242.0 409.9 L1243.5 410.1 L1245.0 410.2 L1246.5 410.3 L1248.0 410.4 L1249.5 410.5 L1251.0 410.6 L1252.5 410.7 L1254.0 410.8 L1255.5 410.9 L1257.0 411.0 L1258.5 411.1 L1260.0 411.1 L1261.5 411.2 L1263.0 411.3 L1264.5 411.3 L1266.0 411.4 L1267.5 411.4 L1269.0 411.5 L1270.5 411.5 L1272.0 411.5 L1273.5 411.6 L1275.0 411.6 L1276.5 411.6 L1278.0 411.6 L1279.5 411.6 L1281.0 411.6 L1282.5 411.6 L1284.0 411.6 L1285.5 411.6 L1287.0 411.6 L1288.5 411.6 L1290.0 411.5 L1291.5 411.5 L1293.0 411.5 L1294.5 411.4 L1296.0 411.4 L1297.5 411.3 L1299.0 411.2 L1300.5 411.2 L1302.0 411.1 L1303.5 411.0 L1305.0 410.9 L1306.5 410.8 L1308.0 410.7 L1309.5 410.6 L1311.0 410.5 L1312.5 410.4 L1314.0 410.2 L1315.5 410.1 L1317.0 410.0 L1318.5 409.8 L1320.0 409.7 L1321.5 409.5 L1323.0 409.3 L1324.5 409.1 L1326.0 408.9 L1327.5 408.7 L1329.0 408.5 L1330.5 408.3 L1332.0 408.1 L1333.5 407.9 L1335.0 407.6 L1336.5 407.4 L1338.0 407.1 L1339.5 406.8 L1341.0 406.6 L1342.5 406.3 L1344.0 406.0 L1345.5 405.7 L1347.0 405.3 L1348.5 405.0 L1350.0 404.7 L1351.5 404.3 L1353.0 404.0 L1354.5 403.6 L1356.0 403.3 L1357.5 402.9 L1359.0 402.5 L1360.5 402.1 L1362.0 401.7 L1363.5 401.2 L1365.0 400.8 L1366.5 400.3 L1368.0 399.9 L1369.5 399.4 L1371.0 398.9 L1372.5 398.4 L1374.0 397.9 L1375.5 397.4 L1377.0 396.9 L1378.5 396.4 L1380.0 395.8 L1381.5 395.2 L1383.0 394.7 L1384.5 394.1 L1386.0 393.5 L1387.5 392.9 L1389.0 392.3 L1390.5 391.6 L1392.0 391.0 L1393.5 390.3 L1395.0 389.6 L1396.5 389.0 L1398.0 388.3 L1399.5 387.5 L1401.0 386.8 L1402.5 386.1 L1404.0 385.3 L1405.5 384.6 L1407.0 383.8 L1408.5 383.0 L1410.0 382.2 L1411.5 381.4 L1413.0 380.6 L1414.5 379.8 L1416.0 378.9 L1417.5 378.1 L1419.0 377.2 L1420.5 376.4 L1422.0 375.5 L1423.5 374.7 L1425.0 373.8 L1426.5 372.9 L1428.0 372.1 L1429.5 371.2 L1431.0 370.3 L1432.5 369.4 L1434.0 368.5 L1435.5 367.6 L1437.0 366.8 L1438.5 365.9 L1440.0 365.0 L1441.5 364.1 L1443.0 363.2 L1444.5 362.3 L1446.0 361.4 L1447.5 360.4 L1449.0 359.4 L1450.5 358.5 L1452.0 357.5 L1453.5 356.5 L1455.0 355.5 L1456.5 354.4 L1458.0 353.4 L1459.5 352.4 L1461.0 351.4 L1462.5 350.4 L1464.0 349.5 L1465.5 348.5 L1467.0 347.6 L1468.5 346.7 L1470.0 345.7 L1471.5 344.9 L1473.0 344.0 L1474.5 343.1 L1476.0 342.3 L1477.5 341.5 L1479.0 340.7 L1480.5 339.9 L1482.0 339.2 L1483.5 338.5 L1485.0 337.8 L1486.5 337.1 L1488.0 336.5 L1489.5 335.9 L1491.0 335.3 L1492.5 334.7 L1494.0 334.2 L1495.5 333.7 L1497.0 333.3 L1498.5 332.8 L1500.0 332.5 L1501.5 332.1 L1503.0 331.8 L1504.5 331.5 L1506.0 331.2 L1507.5 331.0 L1509.0 330.8 L1510.5 330.7 L1512.0 330.6 L1513.5 330.5 L1515.0 330.4 L1516.5 330.4 L1518.0 330.4 L1519.5 330.4 L1521.0 330.5 L1522.5 330.6 L1524.0 330.7 L1525.5 330.8 L1527.0 331.0 L1528.5 331.2 L1530.0 331.4 L1531.5 331.6 L1533.0 331.8 L1534.5 332.1 L1536.0 332.4 L1537.5 332.7 L1539.0 333.0 L1540.5 333.3 L1542.0 333.6 L1543.5 334.0 L1545.0 334.3 L1546.5 334.7 L1548.0 335.1 L1549.5 335.5 L1551.0 335.9 L1552.5 336.3 L1554.0 336.7 L1555.5 337.1 L1557.0 337.5 L1558.5 337.9 L1560.0 338.3 L1561.5 338.7 L1563.0 339.2 L1564.5 339.6 L1566.0 340.0 L1567.5 340.4 L1569.0 340.9 L1570.5 341.3 L1572.0 341.7 L1573.5 342.1 L1575.0 342.6 L1576.5 343.0 L1578.0 343.4 L1579.5 343.8 L1581.0 344.3 L1582.5 344.7 L1584.0 345.1 L1585.5 345.5 L1587.0 346.0 L1588.5 346.4 L1590.0 346.8 L1591.5 347.2 L1593.0 347.7 L1594.5 348.1 L1596.0 348.5 L1597.5 348.9 L1599.0 349.3 L1600.5 349.7 L1602.0 350.1 L1603.5 350.6 L1605.0 351.0 L1606.5 351.4 L1608.0 351.8 L1609.5 352.2 L1611.0 352.5 L1612.5 352.9 L1614.0 353.3 L1615.5 353.7 L1617.0 354.1 L1618.5 354.5 L1620.0 354.8 L1621.5 355.2 L1623.0 355.6 L1624.5 356.0 L1626.0 356.3 L1627.5 356.7 L1629.0 357.1 L1630.5 357.4 L1632.0 357.8 L1633.5 358.2 L1635.0 358.5 L1636.5 358.9 L1638.0 359.2 L1639.5 359.6 L1641.0 359.9 L1642.5 360.3 L1644.0 360.6 L1645.5 361.0 L1647.0 361.3 L1648.5 361.7 L1650.0 362.0 L1651.5 362.4 L1653.0 362.7 L1654.5 363.1 L1656.0 363.4 L1657.5 363.8 L1659.0 364.1 L1660.5 364.5 L1662.0 364.8 L1663.5 365.2 L1665.0 365.5 L1666.5 365.9 L1668.0 366.2 L1669.5 366.6 L1671.0 366.9 L1672.5 367.3 L1674.0 367.6 L1675.5 368.0 L1677.0 368.3 L1678.5 368.7 L1680.0 369.0 L1681.5 369.4 L1683.0 369.8 L1684.5 370.1 L1686.0 370.5 L1687.5 370.8 L1689.0 371.2 L1690.5 371.6 L1692.0 371.9 L1693.5 372.3 L1695.0 372.7 L1696.5 373.0 L1698.0 373.4 L1699.5 373.8 L1701.0 374.2 L1702.5 374.6 L1704.0 374.9 L1705.5 375.3 L1707.0 375.7 L1708.5 376.1 L1710.0 376.5 L1711.5 376.9 L1712.0 377.0" stroke="#266d16" stroke-width="2.35" stroke-dasharray="2.8 3.7"/>
</g>
<line x1="1448.17" y1="61.00" x2="1448.17" y2="485.50" stroke="#111" stroke-width="1.4" />
<rect x="936.50" y="61.00" width="767.50" height="424.50" fill="none" stroke="#000" stroke-width="1.4"/>
<text x="935.10" y="514.40" font-size="32.4" text-anchor="middle" textLength="47.49" lengthAdjust="spacingAndGlyphs">-1.2</text>
<line x1="979.14" y1="485.50" x2="979.14" y2="477.70" stroke="#000" stroke-width="1.25" />
<line x1="1021.78" y1="485.50" x2="1021.78" y2="470.00" stroke="#000" stroke-width="1.25" />
<text x="1020.38" y="514.40" font-size="32.4" text-anchor="middle" textLength="47.49" lengthAdjust="spacingAndGlyphs">-1.0</text>
<line x1="1064.42" y1="485.50" x2="1064.42" y2="477.70" stroke="#000" stroke-width="1.25" />
<line x1="1107.06" y1="485.50" x2="1107.06" y2="470.00" stroke="#000" stroke-width="1.25" />
<text x="1105.66" y="514.40" font-size="32.4" text-anchor="middle" textLength="47.49" lengthAdjust="spacingAndGlyphs">-0.8</text>
<line x1="1149.69" y1="485.50" x2="1149.69" y2="477.70" stroke="#000" stroke-width="1.25" />
<line x1="1192.33" y1="485.50" x2="1192.33" y2="470.00" stroke="#000" stroke-width="1.25" />
<text x="1190.93" y="514.40" font-size="32.4" text-anchor="middle" textLength="47.49" lengthAdjust="spacingAndGlyphs">-0.6</text>
<line x1="1234.97" y1="485.50" x2="1234.97" y2="477.70" stroke="#000" stroke-width="1.25" />
<line x1="1277.61" y1="485.50" x2="1277.61" y2="470.00" stroke="#000" stroke-width="1.25" />
<text x="1276.21" y="514.40" font-size="32.4" text-anchor="middle" textLength="47.49" lengthAdjust="spacingAndGlyphs">-0.4</text>
<line x1="1320.25" y1="485.50" x2="1320.25" y2="477.70" stroke="#000" stroke-width="1.25" />
<line x1="1362.89" y1="485.50" x2="1362.89" y2="470.00" stroke="#000" stroke-width="1.25" />
<text x="1361.49" y="514.40" font-size="32.4" text-anchor="middle" textLength="47.49" lengthAdjust="spacingAndGlyphs">-0.2</text>
<line x1="1405.53" y1="485.50" x2="1405.53" y2="477.70" stroke="#000" stroke-width="1.25" />
<line x1="1448.17" y1="485.50" x2="1448.17" y2="470.00" stroke="#000" stroke-width="1.25" />
<text x="1446.77" y="514.40" font-size="32.4" text-anchor="middle" textLength="37.50" lengthAdjust="spacingAndGlyphs">0.0</text>
<line x1="1490.81" y1="485.50" x2="1490.81" y2="477.70" stroke="#000" stroke-width="1.25" />
<line x1="1533.44" y1="485.50" x2="1533.44" y2="470.00" stroke="#000" stroke-width="1.25" />
<text x="1532.04" y="514.40" font-size="32.4" text-anchor="middle" textLength="37.50" lengthAdjust="spacingAndGlyphs">0.2</text>
<line x1="1576.08" y1="485.50" x2="1576.08" y2="477.70" stroke="#000" stroke-width="1.25" />
<line x1="1618.72" y1="485.50" x2="1618.72" y2="470.00" stroke="#000" stroke-width="1.25" />
<text x="1617.32" y="514.40" font-size="32.4" text-anchor="middle" textLength="37.50" lengthAdjust="spacingAndGlyphs">0.4</text>
<line x1="1661.36" y1="485.50" x2="1661.36" y2="477.70" stroke="#000" stroke-width="1.25" />
<text x="1702.60" y="514.40" font-size="32.4" text-anchor="middle" textLength="37.50" lengthAdjust="spacingAndGlyphs">0.6</text>
<line x1="984.06" y1="61.00" x2="984.06" y2="76.50" stroke="#000" stroke-width="1.25" />
<text x="987.96" y="53.00" font-size="32.4" text-anchor="middle" textLength="63.24" lengthAdjust="spacingAndGlyphs">-0.08</text>
<line x1="1042.07" y1="61.00" x2="1042.07" y2="68.80" stroke="#000" stroke-width="1.25" />
<line x1="1100.09" y1="61.00" x2="1100.09" y2="76.50" stroke="#000" stroke-width="1.25" />
<text x="1103.99" y="53.00" font-size="32.4" text-anchor="middle" textLength="63.24" lengthAdjust="spacingAndGlyphs">-0.06</text>
<line x1="1158.10" y1="61.00" x2="1158.10" y2="68.80" stroke="#000" stroke-width="1.25" />
<line x1="1216.11" y1="61.00" x2="1216.11" y2="76.50" stroke="#000" stroke-width="1.25" />
<text x="1220.01" y="53.00" font-size="32.4" text-anchor="middle" textLength="63.24" lengthAdjust="spacingAndGlyphs">-0.04</text>
<line x1="1274.13" y1="61.00" x2="1274.13" y2="68.80" stroke="#000" stroke-width="1.25" />
<line x1="1332.14" y1="61.00" x2="1332.14" y2="76.50" stroke="#000" stroke-width="1.25" />
<text x="1336.04" y="53.00" font-size="32.4" text-anchor="middle" textLength="63.24" lengthAdjust="spacingAndGlyphs">-0.02</text>
<line x1="1390.15" y1="61.00" x2="1390.15" y2="68.80" stroke="#000" stroke-width="1.25" />
<line x1="1448.17" y1="61.00" x2="1448.17" y2="76.50" stroke="#000" stroke-width="1.25" />
<text x="1452.07" y="53.00" font-size="32.4" text-anchor="middle" textLength="53.13" lengthAdjust="spacingAndGlyphs">0.00</text>
<line x1="1506.18" y1="61.00" x2="1506.18" y2="68.80" stroke="#000" stroke-width="1.25" />
<line x1="1564.19" y1="61.00" x2="1564.19" y2="76.50" stroke="#000" stroke-width="1.25" />
<text x="1568.09" y="53.00" font-size="32.4" text-anchor="middle" textLength="53.13" lengthAdjust="spacingAndGlyphs">0.02</text>
<line x1="1622.21" y1="61.00" x2="1622.21" y2="68.80" stroke="#000" stroke-width="1.25" />
<line x1="1680.22" y1="61.00" x2="1680.22" y2="76.50" stroke="#000" stroke-width="1.25" />
<text x="1684.12" y="53.00" font-size="32.4" text-anchor="middle" textLength="53.13" lengthAdjust="spacingAndGlyphs">0.04</text>
<text x="928.50" y="494.90" font-size="32.4" text-anchor="end" textLength="15.00" lengthAdjust="spacingAndGlyphs">0</text>
<line x1="936.50" y1="455.18" x2="944.30" y2="455.18" stroke="#000" stroke-width="1.25" />
<line x1="1704.00" y1="455.18" x2="1696.20" y2="455.18" stroke="#000" stroke-width="1.25" />
<line x1="936.50" y1="424.86" x2="952.00" y2="424.86" stroke="#000" stroke-width="1.25" />
<line x1="1704.00" y1="424.86" x2="1688.50" y2="424.86" stroke="#000" stroke-width="1.25" />
<text x="930.20" y="434.26" font-size="32.4" text-anchor="end" textLength="30.00" lengthAdjust="spacingAndGlyphs">10</text>
<line x1="936.50" y1="394.54" x2="944.30" y2="394.54" stroke="#000" stroke-width="1.25" />
<line x1="1704.00" y1="394.54" x2="1696.20" y2="394.54" stroke="#000" stroke-width="1.25" />
<line x1="936.50" y1="364.21" x2="952.00" y2="364.21" stroke="#000" stroke-width="1.25" />
<line x1="1704.00" y1="364.21" x2="1688.50" y2="364.21" stroke="#000" stroke-width="1.25" />
<text x="930.20" y="373.61" font-size="32.4" text-anchor="end" textLength="30.00" lengthAdjust="spacingAndGlyphs">20</text>
<line x1="936.50" y1="333.89" x2="944.30" y2="333.89" stroke="#000" stroke-width="1.25" />
<line x1="1704.00" y1="333.89" x2="1696.20" y2="333.89" stroke="#000" stroke-width="1.25" />
<line x1="936.50" y1="303.57" x2="952.00" y2="303.57" stroke="#000" stroke-width="1.25" />
<line x1="1704.00" y1="303.57" x2="1688.50" y2="303.57" stroke="#000" stroke-width="1.25" />
<text x="930.20" y="312.97" font-size="32.4" text-anchor="end" textLength="30.00" lengthAdjust="spacingAndGlyphs">30</text>
<line x1="936.50" y1="273.25" x2="944.30" y2="273.25" stroke="#000" stroke-width="1.25" />
<line x1="1704.00" y1="273.25" x2="1696.20" y2="273.25" stroke="#000" stroke-width="1.25" />
<line x1="936.50" y1="242.93" x2="952.00" y2="242.93" stroke="#000" stroke-width="1.25" />
<line x1="1704.00" y1="242.93" x2="1688.50" y2="242.93" stroke="#000" stroke-width="1.25" />
<text x="930.20" y="252.33" font-size="32.4" text-anchor="end" textLength="30.00" lengthAdjust="spacingAndGlyphs">40</text>
<line x1="936.50" y1="212.61" x2="944.30" y2="212.61" stroke="#000" stroke-width="1.25" />
<line x1="1704.00" y1="212.61" x2="1696.20" y2="212.61" stroke="#000" stroke-width="1.25" />
<line x1="936.50" y1="182.29" x2="952.00" y2="182.29" stroke="#000" stroke-width="1.25" />
<line x1="1704.00" y1="182.29" x2="1688.50" y2="182.29" stroke="#000" stroke-width="1.25" />
<text x="930.20" y="191.69" font-size="32.4" text-anchor="end" textLength="30.00" lengthAdjust="spacingAndGlyphs">50</text>
<line x1="936.50" y1="151.96" x2="944.30" y2="151.96" stroke="#000" stroke-width="1.25" />
<line x1="1704.00" y1="151.96" x2="1696.20" y2="151.96" stroke="#000" stroke-width="1.25" />
<line x1="936.50" y1="121.64" x2="952.00" y2="121.64" stroke="#000" stroke-width="1.25" />
<line x1="1704.00" y1="121.64" x2="1688.50" y2="121.64" stroke="#000" stroke-width="1.25" />
<text x="930.20" y="131.04" font-size="32.4" text-anchor="end" textLength="30.00" lengthAdjust="spacingAndGlyphs">60</text>
<line x1="936.50" y1="91.32" x2="944.30" y2="91.32" stroke="#000" stroke-width="1.25" />
<line x1="1704.00" y1="91.32" x2="1696.20" y2="91.32" stroke="#000" stroke-width="1.25" />
<text x="930.20" y="70.40" font-size="32.4" text-anchor="end" textLength="30.00" lengthAdjust="spacingAndGlyphs">70</text>
<text x="1328.65" y="21.1" font-size="31" text-anchor="middle" textLength="149.1" lengthAdjust="spacingAndGlyphs">Energy (Ry)</text>
<text x="1324.70" y="540.5" font-size="31" text-anchor="middle" textLength="149.2" lengthAdjust="spacingAndGlyphs">Energy (eV)</text>
<text transform="translate(887.70,260.5) rotate(-90)" font-size="31" text-anchor="middle" textLength="196.6" lengthAdjust="spacingAndGlyphs">DOS (states/eV)</text>
<line x1="1455.90" y1="103.60" x2="1494.80" y2="103.60" stroke="#000" stroke-width="2.0" />
<line x1="1455.90" y1="130.00" x2="1494.80" y2="130.00" stroke="#3f1678" stroke-width="1.9" stroke-dasharray="6.7 3.9"/>
<line x1="1455.90" y1="156.80" x2="1494.80" y2="156.80" stroke="#266d16" stroke-width="2.15" stroke-dasharray="2.8 3.7"/>
<text x="1506.60" y="110.50" font-size="24.8">Ni</text>
<text x="1531.40" y="114.90" font-size="20" textLength="17.80" lengthAdjust="spacingAndGlyphs">50</text>
<text x="1549.20" y="110.50" font-size="24.8">Mn</text>
<text x="1583.65" y="114.90" font-size="20" textLength="17.80" lengthAdjust="spacingAndGlyphs">25</text>
<text x="1601.45" y="110.50" font-size="24.8">Ga</text>
<text x="1630.36" y="114.90" font-size="20" textLength="17.80" lengthAdjust="spacingAndGlyphs">25</text>
<text x="1506.60" y="136.90" font-size="24.8">Ni</text>
<text x="1531.40" y="141.30" font-size="20" textLength="17.80" lengthAdjust="spacingAndGlyphs">50</text>
<text x="1549.20" y="136.90" font-size="24.8">Mn</text>
<text x="1583.65" y="141.30" font-size="20" textLength="17.80" lengthAdjust="spacingAndGlyphs">25</text>
<text x="1601.45" y="136.90" font-size="24.8">Ga</text>
<text x="1630.36" y="141.30" font-size="20" textLength="17.80" lengthAdjust="spacingAndGlyphs">20</text>
<text x="1648.16" y="136.90" font-size="24.8">Zn</text>
<text x="1675.72" y="141.30" font-size="20" textLength="8.90" lengthAdjust="spacingAndGlyphs">5</text>
<text x="1506.60" y="163.30" font-size="24.8">Ni</text>
<text x="1531.40" y="167.70" font-size="20" textLength="17.80" lengthAdjust="spacingAndGlyphs">50</text>
<text x="1549.20" y="163.30" font-size="24.8">Mn</text>
<text x="1583.65" y="167.70" font-size="20" textLength="17.80" lengthAdjust="spacingAndGlyphs">20</text>
<text x="1601.45" y="163.30" font-size="24.8">Ga</text>
<text x="1630.36" y="167.70" font-size="20" textLength="17.80" lengthAdjust="spacingAndGlyphs">25</text>
<text x="1648.16" y="163.30" font-size="24.8">Zn</text>
<text x="1675.72" y="167.70" font-size="20" textLength="8.90" lengthAdjust="spacingAndGlyphs">5</text>
<text x="1671.10" y="106.40" font-size="43" text-anchor="middle" font-weight="bold" >(b)</text>
<text x="1680.00" y="464.00" font-size="30" text-anchor="end" font-weight="bold" textLength="181.2" lengthAdjust="spacingAndGlyphs">NM Martensite</text>
<rect x="1132.50" y="95.00" width="295.00" height="191.00" fill="#fff" stroke="none"/>
<g fill="none" stroke-linejoin="round">
<path d="M1133.0 190.5 L1133.5 190.5 L1134.0 190.5 L1134.5 190.5 L1135.0 190.5 L1135.5 190.5 L1136.0 190.5 L1136.5 190.5 L1137.0 190.5 L1137.5 190.5 L1138.0 190.5 L1138.5 190.5 L1139.0 190.5 L1139.5 190.5 L1140.0 190.5 L1140.5 190.5 L1141.0 190.5 L1141.5 190.5 L1142.0 190.5 L1142.5 190.5 L1143.0 190.5 L1143.5 190.5 L1144.0 190.5 L1144.5 190.5 L1145.0 190.5 L1145.5 190.5 L1146.0 190.5 L1146.5 190.5 L1147.0 190.5 L1147.5 190.5 L1148.0 190.5 L1148.5 190.5 L1149.0 190.5 L1149.5 190.5 L1150.0 190.5 L1150.5 190.5 L1151.0 190.5 L1151.5 190.5 L1152.0 190.5 L1152.5 190.5 L1153.0 190.5 L1153.5 190.5 L1154.0 190.5 L1154.5 190.5 L1155.0 190.5 L1155.5 190.5 L1156.0 190.5 L1156.5 190.4 L1157.0 190.4 L1157.5 190.4 L1158.0 190.4 L1158.5 190.4 L1159.0 190.4 L1159.5 190.4 L1160.0 190.4 L1160.5 190.4 L1161.0 190.4 L1161.5 190.4 L1162.0 190.4 L1162.5 190.3 L1163.0 190.3 L1163.5 190.3 L1164.0 190.3 L1164.5 190.3 L1165.0 190.2 L1165.5 190.2 L1166.0 190.2 L1166.5 190.1 L1167.0 190.1 L1167.5 190.0 L1168.0 190.0 L1168.5 190.0 L1169.0 189.9 L1169.5 189.8 L1170.0 189.8 L1170.5 189.7 L1171.0 189.7 L1171.5 189.6 L1172.0 189.6 L1172.5 189.5 L1173.0 189.5 L1173.5 189.4 L1174.0 189.3 L1174.5 189.3 L1175.0 189.2 L1175.5 189.2 L1176.0 189.1 L1176.5 189.1 L1177.0 189.0 L1177.5 188.9 L1178.0 188.9 L1178.5 188.8 L1179.0 188.8 L1179.5 188.7 L1180.0 188.6 L1180.5 188.6 L1181.0 188.5 L1181.5 188.5 L1182.0 188.4 L1182.5 188.3 L1183.0 188.3 L1183.5 188.2 L1184.0 188.1 L1184.5 188.1 L1185.0 188.0 L1185.5 188.0 L1186.0 187.9 L1186.5 187.8 L1187.0 187.8 L1187.5 187.7 L1188.0 187.7 L1188.5 187.6 L1189.0 187.5 L1189.5 187.5 L1190.0 187.4 L1190.5 187.3 L1191.0 187.3 L1191.5 187.2 L1192.0 187.2 L1192.5 187.1 L1193.0 187.1 L1193.5 187.0 L1194.0 187.0 L1194.5 186.9 L1195.0 186.9 L1195.5 186.8 L1196.0 186.8 L1196.5 186.7 L1197.0 186.7 L1197.5 186.6 L1198.0 186.6 L1198.5 186.6 L1199.0 186.5 L1199.5 186.5 L1200.0 186.4 L1200.5 186.4 L1201.0 186.3 L1201.5 186.3 L1202.0 186.2 L1202.5 186.2 L1203.0 186.1 L1203.5 186.0 L1204.0 186.0 L1204.5 185.9 L1205.0 185.8 L1205.5 185.8 L1206.0 185.7 L1206.5 185.6 L1207.0 185.5 L1207.5 185.4 L1208.0 185.3 L1208.5 185.3 L1209.0 185.2 L1209.5 185.1 L1210.0 185.0 L1210.5 184.9 L1211.0 184.8 L1211.5 184.7 L1212.0 184.6 L1212.5 184.6 L1213.0 184.5 L1213.5 184.4 L1214.0 184.3 L1214.5 184.2 L1215.0 184.1 L1215.5 184.0 L1216.0 183.9 L1216.5 183.8 L1217.0 183.7 L1217.5 183.6 L1218.0 183.5 L1218.5 183.4 L1219.0 183.4 L1219.5 183.3 L1220.0 183.2 L1220.5 183.2 L1221.0 183.2 L1221.5 183.1 L1222.0 183.1 L1222.5 183.1 L1223.0 183.1 L1223.5 183.1 L1224.0 183.2 L1224.5 183.3 L1225.0 183.4 L1225.5 183.5 L1226.0 183.6 L1226.5 183.8 L1227.0 184.0 L1227.5 184.2 L1228.0 184.5 L1228.5 184.7 L1229.0 184.9 L1229.5 185.1 L1230.0 185.3 L1230.5 185.5 L1231.0 185.7 L1231.5 185.9 L1232.0 186.1 L1232.5 186.3 L1233.0 186.5 L1233.5 186.8 L1234.0 187.0 L1234.5 187.2 L1235.0 187.4 L1235.5 187.6 L1236.0 187.9 L1236.5 188.2 L1237.0 188.5 L1237.5 188.9 L1238.0 189.2 L1238.5 189.5 L1239.0 189.7 L1239.5 189.9 L1240.0 190.1 L1240.5 190.2 L1241.0 190.3 L1241.5 190.4 L1242.0 190.4 L1242.5 190.4 L1243.0 190.4 L1243.5 190.4 L1244.0 190.4 L1244.5 190.4 L1245.0 190.4 L1245.5 190.4 L1246.0 190.4 L1246.5 190.3 L1247.0 190.3 L1247.5 190.2 L1248.0 190.2 L1248.5 190.1 L1249.0 190.0 L1249.5 190.0 L1250.0 189.9 L1250.5 189.8 L1251.0 189.7 L1251.5 189.6 L1252.0 189.5 L1252.5 189.4 L1253.0 189.3 L1253.5 189.1 L1254.0 189.0 L1254.5 188.8 L1255.0 188.6 L1255.5 188.4 L1256.0 188.3 L1256.5 188.1 L1257.0 187.9 L1257.5 187.7 L1258.0 187.5 L1258.5 187.3 L1259.0 187.1 L1259.5 186.9 L1260.0 186.7 L1260.5 186.5 L1261.0 186.3 L1261.5 186.1 L1262.0 185.9 L1262.5 185.7 L1263.0 185.5 L1263.5 185.3 L1264.0 185.1 L1264.5 184.9 L1265.0 184.7 L1265.5 184.5 L1266.0 184.2 L1266.5 184.0 L1267.0 183.8 L1267.5 183.6 L1268.0 183.4 L1268.5 183.1 L1269.0 182.9 L1269.5 182.7 L1270.0 182.5 L1270.5 182.2 L1271.0 182.0 L1271.5 181.7 L1272.0 181.4 L1272.5 181.1 L1273.0 180.9 L1273.5 180.6 L1274.0 180.3 L1274.5 180.1 L1275.0 179.9 L1275.5 179.7 L1276.0 179.6 L1276.5 179.5 L1277.0 179.5 L1277.5 179.5 L1278.0 179.6 L1278.5 179.8 L1279.0 179.9 L1279.5 180.1 L1280.0 180.3 L1280.5 180.5 L1281.0 180.7 L1281.5 180.9 L1282.0 181.1 L1282.5 181.3 L1283.0 181.6 L1283.5 181.8 L1284.0 181.9 L1284.5 182.1 L1285.0 182.2 L1285.5 182.3 L1286.0 182.4 L1286.5 182.5 L1287.0 182.5 L1287.5 182.5 L1288.0 182.5 L1288.5 182.5 L1289.0 182.4 L1289.5 182.4 L1290.0 182.3 L1290.5 182.3 L1291.0 182.2 L1291.5 182.1 L1292.0 182.1 L1292.5 182.0 L1293.0 181.9 L1293.5 181.8 L1294.0 181.7 L1294.5 181.6 L1295.0 181.5 L1295.5 181.4 L1296.0 181.3 L1296.5 181.2 L1297.0 181.1 L1297.5 181.0 L1298.0 180.9 L1298.5 180.8 L1299.0 180.7 L1299.5 180.5 L1300.0 180.4 L1300.5 180.2 L1301.0 180.0 L1301.5 179.8 L1302.0 179.5 L1302.5 179.2 L1303.0 179.0 L1303.5 178.6 L1304.0 178.3 L1304.5 177.8 L1305.0 177.4 L1305.5 176.9 L1306.0 176.4 L1306.5 175.9 L1307.0 175.2 L1307.5 174.5 L1308.0 173.9 L1308.5 173.3 L1309.0 172.9 L1309.5 172.6 L1310.0 172.3 L1310.5 172.1 L1311.0 171.9 L1311.5 171.6 L1312.0 171.4 L1312.5 171.2 L1313.0 171.0 L1313.5 170.7 L1314.0 170.4 L1314.5 170.2 L1315.0 169.9 L1315.5 169.6 L1316.0 169.3 L1316.5 168.8 L1317.0 168.0 L1317.5 167.0 L1318.0 165.8 L1318.5 164.5 L1319.0 162.8 L1319.5 161.1 L1320.0 159.4 L1320.5 158.0 L1321.0 156.6 L1321.5 155.4 L1322.0 154.3 L1322.5 153.4 L1323.0 152.7 L1323.5 152.0 L1324.0 151.4 L1324.5 151.0 L1325.0 150.6 L1325.5 150.4 L1326.0 150.4 L1326.5 150.3 L1327.0 150.2 L1327.5 150.2 L1328.0 150.1 L1328.5 150.0 L1329.0 150.0 L1329.5 149.9 L1330.0 149.8 L1330.5 149.8 L1331.0 149.7 L1331.5 149.5 L1332.0 148.9 L1332.5 148.1 L1333.0 147.2 L1333.5 146.2 L1334.0 144.8 L1334.5 143.1 L1335.0 141.5 L1335.5 140.0 L1336.0 138.9 L1336.5 137.8 L1337.0 137.1 L1337.5 136.9 L1338.0 137.5 L1338.5 138.4 L1339.0 139.4 L1339.5 140.6 L1340.0 141.8 L1340.5 143.1 L1341.0 144.5 L1341.5 145.8 L1342.0 147.1 L1342.5 148.3 L1343.0 149.4 L1343.5 150.3 L1344.0 151.1 L1344.5 151.8 L1345.0 152.2 L1345.5 152.4 L1346.0 152.4 L1346.5 152.1 L1347.0 151.5 L1347.5 150.5 L1348.0 149.3 L1348.5 147.9 L1349.0 146.3 L1349.5 144.5 L1350.0 142.5 L1350.5 140.3 L1351.0 138.0 L1351.5 135.5 L1352.0 132.6 L1352.5 129.6 L1353.0 126.5 L1353.5 123.4 L1354.0 120.0 L1354.5 116.6 L1355.0 113.4 L1355.5 111.3 L1356.0 110.0 L1356.5 109.3 L1357.0 109.3 L1357.5 110.0 L1358.0 111.3 L1358.5 113.0 L1359.0 115.6 L1359.5 118.5 L1360.0 121.3 L1360.5 124.1 L1361.0 126.8 L1361.5 129.5 L1362.0 132.0 L1362.5 134.3 L1363.0 136.6 L1363.5 139.1 L1364.0 141.8 L1364.5 144.5 L1365.0 147.4 L1365.5 150.3 L1366.0 153.3 L1366.5 156.4 L1367.0 159.5 L1367.5 162.4 L1368.0 165.2 L1368.5 167.6 L1369.0 169.6 L1369.5 171.1 L1370.0 172.2 L1370.5 173.2 L1371.0 174.1 L1371.5 174.9 L1372.0 175.6 L1372.5 176.2 L1373.0 176.7 L1373.5 177.1 L1374.0 177.5 L1374.5 177.8 L1375.0 178.0 L1375.5 178.3 L1376.0 178.5 L1376.5 178.6 L1377.0 178.7 L1377.5 178.7 L1378.0 178.6 L1378.5 178.4 L1379.0 178.3 L1379.5 178.1 L1380.0 177.8 L1380.5 177.6 L1381.0 177.3 L1381.5 177.0 L1382.0 176.8 L1382.5 176.6 L1383.0 176.4 L1383.5 176.2 L1384.0 176.0 L1384.5 175.9 L1385.0 175.8 L1385.5 175.6 L1386.0 175.4 L1386.5 175.1 L1387.0 174.3 L1387.5 173.0 L1388.0 171.4 L1388.5 169.7 L1389.0 168.0 L1389.5 166.2 L1390.0 164.4 L1390.5 162.6 L1391.0 161.0 L1391.5 159.7 L1392.0 159.1 L1392.5 159.3 L1393.0 159.9 L1393.5 160.8 L1394.0 161.8 L1394.5 163.0 L1395.0 164.1 L1395.5 165.3 L1396.0 166.5 L1396.5 167.7 L1397.0 168.7 L1397.5 169.6 L1398.0 170.4 L1398.5 171.0 L1399.0 171.6 L1399.5 172.0 L1400.0 172.1 L1400.5 172.0 L1401.0 171.7 L1401.5 171.1 L1402.0 170.1 L1402.5 168.7 L1403.0 167.4 L1403.5 166.0 L1404.0 164.5 L1404.5 163.0 L1405.0 161.5 L1405.5 160.0 L1406.0 158.4 L1406.5 156.7 L1407.0 155.1 L1407.5 153.5 L1408.0 151.9 L1408.5 150.4" stroke="#000" stroke-width="1.2"/>
<path d="M1134.1 190.5 L1134.6 190.5 L1135.1 190.5 L1135.6 190.5 L1136.1 190.5 L1136.6 190.5 L1137.1 190.5 L1137.6 190.5 L1138.1 190.5 L1138.6 190.5 L1139.1 190.5 L1139.6 190.5 L1140.1 190.5 L1140.6 190.5 L1141.1 190.5 L1141.6 190.5 L1142.1 190.5 L1142.6 190.5 L1143.1 190.5 L1143.6 190.5 L1144.1 190.5 L1144.6 190.5 L1145.1 190.5 L1145.6 190.5 L1146.1 190.5 L1146.6 190.5 L1147.1 190.5 L1147.6 190.5 L1148.1 190.5 L1148.6 190.5 L1149.1 190.5 L1149.6 190.5 L1150.1 190.5 L1150.6 190.5 L1151.1 190.5 L1151.6 190.5 L1152.1 190.5 L1152.6 190.5 L1153.1 190.5 L1153.6 190.5 L1154.1 190.5 L1154.6 190.5 L1155.1 190.5 L1155.6 190.5 L1156.1 190.5 L1156.6 190.5 L1157.1 190.5 L1157.6 190.4 L1158.1 190.4 L1158.6 190.4 L1159.1 190.4 L1159.6 190.4 L1160.1 190.4 L1160.6 190.4 L1161.1 190.4 L1161.6 190.4 L1162.1 190.4 L1162.6 190.4 L1163.1 190.4 L1163.6 190.3 L1164.1 190.3 L1164.6 190.3 L1165.1 190.3 L1165.6 190.3 L1166.1 190.2 L1166.6 190.2 L1167.1 190.2 L1167.6 190.1 L1168.1 190.1 L1168.6 190.0 L1169.1 190.0 L1169.6 190.0 L1170.1 189.9 L1170.6 189.8 L1171.1 189.8 L1171.6 189.7 L1172.1 189.7 L1172.6 189.6 L1173.1 189.6 L1173.6 189.5 L1174.1 189.5 L1174.6 189.4 L1175.1 189.3 L1175.6 189.3 L1176.1 189.2 L1176.6 189.2 L1177.1 189.1 L1177.6 189.1 L1178.1 189.0 L1178.6 188.9 L1179.1 188.9 L1179.6 188.8 L1180.1 188.8 L1180.6 188.7 L1181.1 188.6 L1181.6 188.6 L1182.1 188.5 L1182.6 188.5 L1183.1 188.4 L1183.6 188.3 L1184.1 188.3 L1184.6 188.2 L1185.1 188.1 L1185.6 188.1 L1186.1 188.0 L1186.6 188.0 L1187.1 187.9 L1187.6 187.8 L1188.1 187.8 L1188.6 187.7 L1189.1 187.7 L1189.6 187.6 L1190.1 187.5 L1190.6 187.5 L1191.1 187.4 L1191.6 187.3 L1192.1 187.3 L1192.6 187.2 L1193.1 187.2 L1193.6 187.1 L1194.1 187.1 L1194.6 187.0 L1195.1 187.0 L1195.6 186.9 L1196.1 186.9 L1196.6 186.8 L1197.1 186.8 L1197.6 186.7 L1198.1 186.7 L1198.6 186.6 L1199.1 186.6 L1199.6 186.6 L1200.1 186.5 L1200.6 186.5 L1201.1 186.4 L1201.6 186.4 L1202.1 186.3 L1202.6 186.3 L1203.1 186.2 L1203.6 186.2 L1204.1 186.1 L1204.6 186.0 L1205.1 186.0 L1205.6 185.9 L1206.1 185.8 L1206.6 185.8 L1207.1 185.7 L1207.6 185.6 L1208.1 185.5 L1208.6 185.4 L1209.1 185.3 L1209.6 185.3 L1210.1 185.2 L1210.6 185.1 L1211.1 185.0 L1211.6 184.9 L1212.1 184.8 L1212.6 184.7 L1213.1 184.6 L1213.6 184.6 L1214.1 184.5 L1214.6 184.4 L1215.1 184.3 L1215.6 184.2 L1216.1 184.1 L1216.6 184.0 L1217.1 183.9 L1217.6 183.8 L1218.1 183.7 L1218.6 183.6 L1219.1 183.5 L1219.6 183.4 L1220.1 183.4 L1220.6 183.3 L1221.1 183.3 L1221.6 183.2 L1222.1 183.2 L1222.6 183.1 L1223.1 183.1 L1223.6 183.1 L1224.1 183.2 L1224.6 183.3 L1225.1 183.5 L1225.6 183.7 L1226.1 183.8 L1226.6 183.8 L1227.1 183.7 L1227.6 183.3 L1228.1 182.4 L1228.6 180.8 L1229.1 178.6 L1229.6 176.0 L1230.1 173.3 L1230.6 170.6 L1231.1 167.9 L1231.6 165.1 L1232.1 162.1 L1232.6 158.9 L1233.1 155.6 L1233.6 151.9 L1234.1 149.2 L1234.6 148.9 L1235.1 150.0 L1235.6 153.0 L1236.1 156.4 L1236.6 160.0 L1237.1 163.8 L1237.6 167.6 L1238.1 171.1 L1238.6 174.0 L1239.1 176.5 L1239.6 178.7 L1240.1 180.5 L1240.6 182.1 L1241.1 183.2 L1241.6 184.0 L1242.1 184.8 L1242.6 185.4 L1243.1 186.0 L1243.6 186.4 L1244.1 186.7 L1244.6 187.0 L1245.1 187.3 L1245.6 187.5 L1246.1 187.8 L1246.6 188.0 L1247.1 188.2 L1247.6 188.3 L1248.1 188.4 L1248.6 188.5 L1249.1 188.6 L1249.6 188.7 L1250.1 188.7 L1250.6 188.8 L1251.1 188.8 L1251.6 188.8 L1252.1 188.7 L1252.6 188.6 L1253.1 188.5 L1253.6 188.5 L1254.1 188.4 L1254.6 188.3 L1255.1 188.2 L1255.6 188.0 L1256.1 187.9 L1256.6 187.8 L1257.1 187.6 L1257.6 187.5 L1258.1 187.4 L1258.6 187.2 L1259.1 187.1 L1259.6 186.9 L1260.1 186.8 L1260.6 186.6 L1261.1 186.5 L1261.6 186.3 L1262.1 186.2 L1262.6 186.0 L1263.1 185.8 L1263.6 185.7 L1264.1 185.5 L1264.6 185.3 L1265.1 185.1 L1265.6 184.9 L1266.1 184.7 L1266.6 184.5 L1267.1 184.3 L1267.6 184.1 L1268.1 183.8 L1268.6 183.6 L1269.1 183.4 L1269.6 183.2 L1270.1 182.9 L1270.6 182.7 L1271.1 182.5 L1271.6 182.2 L1272.1 181.9 L1272.6 181.7 L1273.1 181.4 L1273.6 181.1 L1274.1 180.9 L1274.6 180.6 L1275.1 180.3 L1275.6 180.1 L1276.1 179.9 L1276.6 179.7 L1277.1 179.6 L1277.6 179.5 L1278.1 179.5 L1278.6 179.5 L1279.1 179.6 L1279.6 179.8 L1280.1 179.9 L1280.6 180.1 L1281.1 180.3 L1281.6 180.5 L1282.1 180.7 L1282.6 180.9 L1283.1 181.1 L1283.6 181.3 L1284.1 181.6 L1284.6 181.8 L1285.1 181.9 L1285.6 182.1 L1286.1 182.2 L1286.6 182.3 L1287.1 182.4 L1287.6 182.5 L1288.1 182.5 L1288.6 182.5 L1289.1 182.5 L1289.6 182.5 L1290.1 182.4 L1290.6 182.4 L1291.1 182.3 L1291.6 182.3 L1292.1 182.2 L1292.6 182.1 L1293.1 182.1 L1293.6 182.0 L1294.1 181.9 L1294.6 181.8 L1295.1 181.7 L1295.6 181.6 L1296.1 181.5 L1296.6 181.4 L1297.1 181.3 L1297.6 181.2 L1298.1 181.1 L1298.6 181.0 L1299.1 180.9 L1299.6 180.8 L1300.1 180.7 L1300.6 180.5 L1301.1 180.4 L1301.6 180.2 L1302.1 180.0 L1302.6 179.8 L1303.1 179.5 L1303.6 179.2 L1304.1 179.0 L1304.6 178.6 L1305.1 178.3 L1305.6 177.8 L1306.1 177.4 L1306.6 176.9 L1307.1 176.4 L1307.6 175.9 L1308.1 175.2 L1308.6 174.5 L1309.1 173.9 L1309.6 173.3 L1310.1 172.9 L1310.6 172.6 L1311.1 172.3 L1311.6 172.1 L1312.1 171.9 L1312.6 171.6 L1313.1 171.4 L1313.6 171.2 L1314.1 171.0 L1314.6 170.7 L1315.1 170.4 L1315.6 170.2 L1316.1 169.9 L1316.6 169.6 L1317.1 169.3 L1317.6 168.8 L1318.1 168.0 L1318.6 167.0 L1319.1 165.8 L1319.6 164.5 L1320.1 162.8 L1320.6 161.1 L1321.1 159.4 L1321.6 158.0 L1322.1 156.6 L1322.6 155.4 L1323.1 154.3 L1323.6 153.4 L1324.1 152.7 L1324.6 152.0 L1325.1 151.4 L1325.6 151.0 L1326.1 150.6 L1326.6 150.4 L1327.1 150.4 L1327.6 150.3 L1328.1 150.2 L1328.6 150.2 L1329.1 150.1 L1329.6 150.0 L1330.1 150.0 L1330.6 149.9 L1331.1 149.8 L1331.6 149.8 L1332.1 149.7 L1332.6 149.5 L1333.1 148.9 L1333.6 148.1 L1334.1 147.2 L1334.6 146.2 L1335.1 144.8 L1335.6 143.1 L1336.1 141.5 L1336.6 140.0 L1337.1 138.9 L1337.6 137.8 L1338.1 137.1 L1338.6 136.9 L1339.1 137.5 L1339.6 138.4 L1340.1 139.4 L1340.6 140.6 L1341.1 141.8 L1341.6 143.1 L1342.1 144.5 L1342.6 145.8 L1343.1 147.1 L1343.6 148.3 L1344.1 149.4 L1344.6 150.3 L1345.1 151.1 L1345.6 151.8 L1346.1 152.2 L1346.6 152.4 L1347.1 152.4 L1347.6 152.1 L1348.1 151.5 L1348.6 150.5 L1349.1 149.3 L1349.6 147.9 L1350.1 146.3 L1350.6 144.5 L1351.1 142.5 L1351.6 140.3 L1352.1 138.0 L1352.6 135.5 L1353.1 132.6 L1353.6 129.6 L1354.1 126.5 L1354.6 123.4 L1355.1 120.0 L1355.6 116.6 L1356.1 113.4 L1356.6 111.3 L1357.1 110.0 L1357.6 109.3 L1358.1 109.3 L1358.6 110.0 L1359.1 111.3 L1359.6 113.0 L1360.1 115.6 L1360.6 118.5 L1361.1 121.3 L1361.6 124.1 L1362.1 126.8 L1362.6 129.5 L1363.1 132.0 L1363.6 134.3 L1364.1 136.6 L1364.6 139.1 L1365.1 141.8 L1365.6 144.5 L1366.1 147.4 L1366.6 150.3 L1367.1 153.3 L1367.6 156.4 L1368.1 159.5 L1368.6 162.4 L1369.1 165.2 L1369.6 167.6 L1370.1 169.6 L1370.6 171.1 L1371.1 172.2 L1371.6 173.2 L1372.1 174.1 L1372.6 174.9 L1373.1 175.6 L1373.6 176.2 L1374.1 176.7 L1374.6 177.1 L1375.1 177.5 L1375.6 177.8 L1376.1 178.0 L1376.6 178.3 L1377.1 178.5 L1377.6 178.6 L1378.1 178.7 L1378.6 178.7 L1379.1 178.6 L1379.6 178.4 L1380.1 178.3 L1380.6 178.1 L1381.1 177.8 L1381.6 177.6 L1382.1 177.3 L1382.6 177.0 L1383.1 176.8 L1383.6 176.6 L1384.1 176.4 L1384.6 176.2 L1385.1 176.0 L1385.6 175.9 L1386.1 175.8 L1386.6 175.6 L1387.1 175.4 L1387.6 175.1 L1388.1 174.3 L1388.6 173.0 L1389.1 171.4 L1389.6 169.7 L1390.1 168.0 L1390.6 166.2 L1391.1 164.4 L1391.6 162.6 L1392.1 161.0 L1392.6 159.7 L1393.1 159.1 L1393.6 159.3 L1394.1 159.9 L1394.6 160.8 L1395.1 161.8 L1395.6 163.0 L1396.1 164.1 L1396.6 165.3 L1397.1 166.5 L1397.6 167.7 L1398.1 168.7 L1398.6 169.6 L1399.1 170.4 L1399.6 171.0 L1400.1 171.6 L1400.6 172.0 L1401.1 172.1 L1401.6 172.0 L1402.1 171.7 L1402.6 171.1 L1403.1 170.1 L1403.6 168.7 L1404.1 167.4 L1404.6 166.0 L1405.1 164.5 L1405.6 163.0 L1406.1 161.5 L1406.6 160.0 L1407.1 158.4 L1407.6 156.7 L1408.1 155.1 L1408.6 153.5 L1409.1 151.9 L1409.6 150.4" stroke="#3f1678" stroke-width="1.4" stroke-dasharray="3.5 1.8"/>
<path d="M1132.5 190.5 L1133.0 190.5 L1133.5 190.5 L1134.0 190.5 L1134.5 190.5 L1135.0 190.5 L1135.5 190.5 L1136.0 190.5 L1136.5 190.5 L1137.0 190.5 L1137.5 190.5 L1138.0 190.5 L1138.5 190.5 L1139.0 190.5 L1139.5 190.5 L1140.0 190.5 L1140.5 190.5 L1141.0 190.5 L1141.5 190.5 L1142.0 190.5 L1142.5 190.5 L1143.0 190.5 L1143.5 190.5 L1144.0 190.5 L1144.5 190.5 L1145.0 190.5 L1145.5 190.5 L1146.0 190.5 L1146.5 190.5 L1147.0 190.5 L1147.5 190.5 L1148.0 190.5 L1148.5 190.5 L1149.0 190.5 L1149.5 190.5 L1150.0 190.5 L1150.5 190.5 L1151.0 190.5 L1151.5 190.5 L1152.0 190.5 L1152.5 190.5 L1153.0 190.5 L1153.5 190.5 L1154.0 190.5 L1154.5 190.5 L1155.0 190.5 L1155.5 190.5 L1156.0 190.4 L1156.5 190.4 L1157.0 190.4 L1157.5 190.4 L1158.0 190.4 L1158.5 190.4 L1159.0 190.4 L1159.5 190.4 L1160.0 190.4 L1160.5 190.4 L1161.0 190.4 L1161.5 190.4 L1162.0 190.3 L1162.5 190.3 L1163.0 190.3 L1163.5 190.3 L1164.0 190.3 L1164.5 190.2 L1165.0 190.2 L1165.5 190.2 L1166.0 190.1 L1166.5 190.1 L1167.0 190.0 L1167.5 190.0 L1168.0 190.0 L1168.5 189.9 L1169.0 189.8 L1169.5 189.8 L1170.0 189.7 L1170.5 189.7 L1171.0 189.6 L1171.5 189.6 L1172.0 189.5 L1172.5 189.5 L1173.0 189.4 L1173.5 189.3 L1174.0 189.3 L1174.5 189.2 L1175.0 189.2 L1175.5 189.1 L1176.0 189.1 L1176.5 189.0 L1177.0 188.9 L1177.5 188.9 L1178.0 188.8 L1178.5 188.8 L1179.0 188.7 L1179.5 188.6 L1180.0 188.6 L1180.5 188.5 L1181.0 188.5 L1181.5 188.4 L1182.0 188.3 L1182.5 188.3 L1183.0 188.2 L1183.5 188.1 L1184.0 188.1 L1184.5 188.0 L1185.0 188.0 L1185.5 187.9 L1186.0 187.8 L1186.5 187.8 L1187.0 187.7 L1187.5 187.7 L1188.0 187.6 L1188.5 187.5 L1189.0 187.5 L1189.5 187.4 L1190.0 187.3 L1190.5 187.3 L1191.0 187.2 L1191.5 187.2 L1192.0 187.1 L1192.5 187.1 L1193.0 187.0 L1193.5 187.0 L1194.0 187.0 L1194.5 187.0 L1195.0 186.9 L1195.5 186.9 L1196.0 186.9 L1196.5 186.9 L1197.0 186.8 L1197.5 186.8 L1198.0 186.8 L1198.5 186.8 L1199.0 186.7 L1199.5 186.7 L1200.0 186.6 L1200.5 186.5 L1201.0 186.4 L1201.5 186.3 L1202.0 186.2 L1202.5 186.1 L1203.0 186.0 L1203.5 185.8 L1204.0 185.7 L1204.5 185.5 L1205.0 185.3 L1205.5 185.2 L1206.0 185.0 L1206.5 184.8 L1207.0 184.7 L1207.5 184.5 L1208.0 184.3 L1208.5 184.1 L1209.0 183.9 L1209.5 183.8 L1210.0 183.6 L1210.5 183.4 L1211.0 183.3 L1211.5 183.1 L1212.0 182.9 L1212.5 182.8 L1213.0 182.6 L1213.5 182.4 L1214.0 182.3 L1214.5 182.1 L1215.0 182.0 L1215.5 181.8 L1216.0 181.6 L1216.5 181.5 L1217.0 181.3 L1217.5 181.2 L1218.0 181.0 L1218.5 181.0 L1219.0 180.9 L1219.5 180.9 L1220.0 180.9 L1220.5 180.9 L1221.0 180.9 L1221.5 180.8 L1222.0 180.8 L1222.5 180.7 L1223.0 180.6 L1223.5 180.5 L1224.0 180.3 L1224.5 180.2 L1225.0 179.9 L1225.5 179.2 L1226.0 178.0 L1226.5 176.2 L1227.0 174.2 L1227.5 171.8 L1228.0 169.1 L1228.5 166.4 L1229.0 163.8 L1229.5 161.5 L1230.0 159.6 L1230.5 159.1 L1231.0 159.8 L1231.5 161.8 L1232.0 164.0 L1232.5 166.5 L1233.0 169.0 L1233.5 170.9 L1234.0 172.6 L1234.5 174.2 L1235.0 175.7 L1235.5 177.3 L1236.0 178.8 L1236.5 180.3 L1237.0 181.5 L1237.5 182.4 L1238.0 183.2 L1238.5 183.8 L1239.0 184.3 L1239.5 184.7 L1240.0 185.1 L1240.5 185.5 L1241.0 185.8 L1241.5 186.1 L1242.0 186.3 L1242.5 186.5 L1243.0 186.7 L1243.5 187.0 L1244.0 187.2 L1244.5 187.3 L1245.0 187.5 L1245.5 187.7 L1246.0 187.8 L1246.5 187.9 L1247.0 188.0 L1247.5 188.1 L1248.0 188.2 L1248.5 188.3 L1249.0 188.3 L1249.5 188.4 L1250.0 188.4 L1250.5 188.4 L1251.0 188.4 L1251.5 188.4 L1252.0 188.3 L1252.5 188.3 L1253.0 188.2 L1253.5 188.1 L1254.0 188.0 L1254.5 187.9 L1255.0 187.8 L1255.5 187.7 L1256.0 187.5 L1256.5 187.4 L1257.0 187.3 L1257.5 187.1 L1258.0 187.0 L1258.5 186.8 L1259.0 186.7 L1259.5 186.5 L1260.0 186.4 L1260.5 186.2 L1261.0 186.0 L1261.5 185.9 L1262.0 185.7 L1262.5 185.5 L1263.0 185.3 L1263.5 185.1 L1264.0 184.9 L1264.5 184.7 L1265.0 184.5 L1265.5 184.3 L1266.0 184.0 L1266.5 183.8 L1267.0 183.6 L1267.5 183.4 L1268.0 183.2 L1268.5 182.9 L1269.0 182.7 L1269.5 182.5 L1270.0 182.2 L1270.5 181.9 L1271.0 181.7 L1271.5 181.4 L1272.0 181.1 L1272.5 180.9 L1273.0 180.6 L1273.5 180.3 L1274.0 180.1 L1274.5 179.9 L1275.0 179.7 L1275.5 179.6 L1276.0 179.5 L1276.5 179.5 L1277.0 179.5 L1277.5 179.6 L1278.0 179.8 L1278.5 179.9 L1279.0 180.1 L1279.5 180.3 L1280.0 180.5 L1280.5 180.7 L1281.0 180.9 L1281.5 181.1 L1282.0 181.3 L1282.5 181.6 L1283.0 181.8 L1283.5 181.9 L1284.0 182.1 L1284.5 182.2 L1285.0 182.3 L1285.5 182.4 L1286.0 182.5 L1286.5 182.5 L1287.0 182.5 L1287.5 182.5 L1288.0 182.5 L1288.5 182.4 L1289.0 182.4 L1289.5 182.3 L1290.0 182.3 L1290.5 182.2 L1291.0 182.1 L1291.5 182.1 L1292.0 182.0 L1292.5 181.9 L1293.0 181.8 L1293.5 181.7 L1294.0 181.6 L1294.5 181.5 L1295.0 181.4 L1295.5 181.3 L1296.0 181.2 L1296.5 181.1 L1297.0 181.0 L1297.5 180.9 L1298.0 180.8 L1298.5 180.7 L1299.0 180.5 L1299.5 180.4 L1300.0 180.2 L1300.5 180.0 L1301.0 179.8 L1301.5 179.5 L1302.0 179.2 L1302.5 179.0 L1303.0 178.6 L1303.5 178.3 L1304.0 177.8 L1304.5 177.4 L1305.0 176.9 L1305.5 176.4 L1306.0 175.9 L1306.5 175.2 L1307.0 174.5 L1307.5 173.9 L1308.0 173.3 L1308.5 172.9 L1309.0 172.6 L1309.5 172.3 L1310.0 172.1 L1310.5 171.9 L1311.0 171.6 L1311.5 171.4 L1312.0 171.2 L1312.5 170.9 L1313.0 170.7 L1313.5 170.4 L1314.0 170.2 L1314.5 169.9 L1315.0 169.6 L1315.5 169.3 L1316.0 169.0 L1316.5 168.5 L1317.0 167.8 L1317.5 167.0 L1318.0 166.0 L1318.5 164.9 L1319.0 163.7 L1319.5 162.5 L1320.0 161.2 L1320.5 160.0 L1321.0 158.8 L1321.5 157.6 L1322.0 156.5 L1322.5 155.4 L1323.0 154.3 L1323.5 153.4 L1324.0 152.7 L1324.5 152.1 L1325.0 151.8 L1325.5 151.5 L1326.0 151.4 L1326.5 151.3 L1327.0 151.3 L1327.5 151.2 L1328.0 151.2 L1328.5 151.1 L1329.0 151.0 L1329.5 151.0 L1330.0 150.9 L1330.5 150.8 L1331.0 150.7 L1331.5 150.6 L1332.0 149.9 L1332.5 148.7 L1333.0 147.2 L1333.5 145.7 L1334.0 143.8 L1334.5 141.8 L1335.0 140.1 L1335.5 138.7 L1336.0 137.6 L1336.5 136.9 L1337.0 136.9 L1337.5 137.5 L1338.0 138.4 L1338.5 139.5 L1339.0 140.6 L1339.5 141.8 L1340.0 143.1 L1340.5 144.5 L1341.0 145.8 L1341.5 147.1 L1342.0 148.3 L1342.5 149.5 L1343.0 150.5 L1343.5 151.4 L1344.0 152.2 L1344.5 152.6 L1345.0 152.7 L1345.5 152.3 L1346.0 151.4 L1346.5 150.0 L1347.0 148.2 L1347.5 146.2 L1348.0 144.1 L1348.5 141.9 L1349.0 139.7 L1349.5 137.2 L1350.0 134.6 L1350.5 131.7 L1351.0 128.6 L1351.5 125.4 L1352.0 122.2 L1352.5 118.7 L1353.0 115.4 L1353.5 112.8 L1354.0 111.3 L1354.5 110.3 L1355.0 110.0 L1355.5 110.4 L1356.0 111.5 L1356.5 113.0 L1357.0 115.3 L1357.5 118.1 L1358.0 121.0 L1358.5 123.8 L1359.0 126.5 L1359.5 129.2 L1360.0 131.8 L1360.5 134.2 L1361.0 136.5 L1361.5 138.9 L1362.0 141.5 L1362.5 144.2 L1363.0 147.1 L1363.5 149.9 L1364.0 152.9 L1364.5 156.0 L1365.0 159.1 L1365.5 162.0 L1366.0 164.6 L1366.5 166.7 L1367.0 168.5 L1367.5 170.0 L1368.0 171.3 L1368.5 172.3 L1369.0 173.1 L1369.5 173.8 L1370.0 174.4 L1370.5 175.0 L1371.0 175.6 L1371.5 176.1 L1372.0 176.5 L1372.5 176.9 L1373.0 177.2 L1373.5 177.5 L1374.0 177.8 L1374.5 178.0 L1375.0 178.3 L1375.5 178.4 L1376.0 178.6 L1376.5 178.7 L1377.0 178.7 L1377.5 178.6 L1378.0 178.5 L1378.5 178.3 L1379.0 178.1 L1379.5 177.8 L1380.0 177.5 L1380.5 177.2 L1381.0 176.8 L1381.5 176.3 L1382.0 175.6 L1382.5 174.8 L1383.0 173.9 L1383.5 172.9 L1384.0 171.9 L1384.5 171.0 L1385.0 170.1 L1385.5 169.2 L1386.0 168.3 L1386.5 167.6 L1387.0 167.0 L1387.5 166.7 L1388.0 166.5 L1388.5 166.4 L1389.0 166.3 L1389.5 166.4 L1390.0 166.6 L1390.5 167.0 L1391.0 167.5 L1391.5 168.0 L1392.0 168.5 L1392.5 169.0 L1393.0 169.5 L1393.5 170.0 L1394.0 170.5 L1394.5 170.9 L1395.0 171.4 L1395.5 171.8 L1396.0 172.3 L1396.5 172.7 L1397.0 173.0 L1397.5 173.2 L1398.0 173.4 L1398.5 173.5 L1399.0 173.6 L1399.5 173.6 L1400.0 173.5 L1400.5 173.3 L1401.0 173.0 L1401.5 172.6 L1402.0 172.2 L1402.5 171.6 L1403.0 170.9 L1403.5 170.0 L1404.0 169.0 L1404.5 167.8 L1405.0 166.6 L1405.5 165.3 L1406.0 163.9 L1406.5 162.5 L1407.0 161.0 L1407.5 159.4 L1408.0 157.7 L1408.5 156.0" stroke="#266d16" stroke-width="1.4" stroke-dasharray="1.5 1.9"/>
<path d="M1133.0 190.5 L1133.5 190.5 L1134.0 190.5 L1134.5 190.5 L1135.0 190.5 L1135.5 190.5 L1136.0 190.5 L1136.5 190.5 L1137.0 190.5 L1137.5 190.5 L1138.0 190.5 L1138.5 190.5 L1139.0 190.5 L1139.5 190.5 L1140.0 190.5 L1140.5 190.5 L1141.0 190.5 L1141.5 190.5 L1142.0 190.5 L1142.5 190.5 L1143.0 190.5 L1143.5 190.5 L1144.0 190.5 L1144.5 190.5 L1145.0 190.5 L1145.5 190.5 L1146.0 190.5 L1146.5 190.5 L1147.0 190.5 L1147.5 190.5 L1148.0 190.5 L1148.5 190.5 L1149.0 190.5 L1149.5 190.5 L1150.0 190.5 L1150.5 190.5 L1151.0 190.5 L1151.5 190.5 L1152.0 190.5 L1152.5 190.5 L1153.0 190.5 L1153.5 190.5 L1154.0 190.5 L1154.5 190.5 L1155.0 190.5 L1155.5 190.5 L1156.0 190.5 L1156.5 190.6 L1157.0 190.6 L1157.5 190.6 L1158.0 190.6 L1158.5 190.6 L1159.0 190.6 L1159.5 190.6 L1160.0 190.6 L1160.5 190.6 L1161.0 190.6 L1161.5 190.6 L1162.0 190.6 L1162.5 190.7 L1163.0 190.7 L1163.5 190.7 L1164.0 190.7 L1164.5 190.8 L1165.0 190.8 L1165.5 190.8 L1166.0 190.9 L1166.5 190.9 L1167.0 190.9 L1167.5 191.0 L1168.0 191.0 L1168.5 191.1 L1169.0 191.1 L1169.5 191.1 L1170.0 191.2 L1170.5 191.3 L1171.0 191.3 L1171.5 191.4 L1172.0 191.4 L1172.5 191.5 L1173.0 191.5 L1173.5 191.6 L1174.0 191.6 L1174.5 191.7 L1175.0 191.7 L1175.5 191.8 L1176.0 191.8 L1176.5 191.9 L1177.0 192.0 L1177.5 192.0 L1178.0 192.1 L1178.5 192.1 L1179.0 192.2 L1179.5 192.2 L1180.0 192.3 L1180.5 192.3 L1181.0 192.4 L1181.5 192.4 L1182.0 192.5 L1182.5 192.5 L1183.0 192.6 L1183.5 192.6 L1184.0 192.7 L1184.5 192.7 L1185.0 192.8 L1185.5 192.8 L1186.0 192.9 L1186.5 192.9 L1187.0 192.9 L1187.5 193.0 L1188.0 193.0 L1188.5 193.1 L1189.0 193.1 L1189.5 193.2 L1190.0 193.2 L1190.5 193.3 L1191.0 193.3 L1191.5 193.4 L1192.0 193.4 L1192.5 193.5 L1193.0 193.5 L1193.5 193.6 L1194.0 193.6 L1194.5 193.7 L1195.0 193.7 L1195.5 193.8 L1196.0 193.8 L1196.5 193.9 L1197.0 194.0 L1197.5 194.0 L1198.0 194.1 L1198.5 194.1 L1199.0 194.2 L1199.5 194.2 L1200.0 194.3 L1200.5 194.4 L1201.0 194.4 L1201.5 194.5 L1202.0 194.5 L1202.5 194.6 L1203.0 194.7 L1203.5 194.7 L1204.0 194.8 L1204.5 194.9 L1205.0 194.9 L1205.5 195.0 L1206.0 195.1 L1206.5 195.1 L1207.0 195.2 L1207.5 195.3 L1208.0 195.3 L1208.5 195.4 L1209.0 195.5 L1209.5 195.5 L1210.0 195.6 L1210.5 195.7 L1211.0 195.8 L1211.5 195.8 L1212.0 195.9 L1212.5 196.0 L1213.0 196.1 L1213.5 196.2 L1214.0 196.3 L1214.5 196.4 L1215.0 196.6 L1215.5 196.7 L1216.0 196.8 L1216.5 196.9 L1217.0 197.0 L1217.5 197.1 L1218.0 197.2 L1218.5 197.3 L1219.0 197.4 L1219.5 197.5 L1220.0 197.5 L1220.5 197.6 L1221.0 197.7 L1221.5 197.8 L1222.0 197.8 L1222.5 197.9 L1223.0 197.9 L1223.5 197.9 L1224.0 197.9 L1224.5 197.8 L1225.0 197.7 L1225.5 197.5 L1226.0 197.4 L1226.5 197.2 L1227.0 197.1 L1227.5 196.9 L1228.0 196.7 L1228.5 196.6 L1229.0 196.4 L1229.5 196.2 L1230.0 196.0 L1230.5 195.8 L1231.0 195.5 L1231.5 195.2 L1232.0 194.9 L1232.5 194.5 L1233.0 194.1 L1233.5 193.7 L1234.0 193.2 L1234.5 192.8 L1235.0 192.5 L1235.5 192.1 L1236.0 191.8 L1236.5 191.5 L1237.0 191.2 L1237.5 190.9 L1238.0 190.7 L1238.5 190.5 L1239.0 190.4 L1239.5 190.3 L1240.0 190.1 L1240.5 190.1 L1241.0 190.0 L1241.5 190.0 L1242.0 190.0 L1242.5 190.0 L1243.0 190.1 L1243.5 190.1 L1244.0 190.2 L1244.5 190.4 L1245.0 190.5 L1245.5 190.7 L1246.0 190.8 L1246.5 191.0 L1247.0 191.1 L1247.5 191.3 L1248.0 191.5 L1248.5 191.7 L1249.0 191.9 L1249.5 192.1 L1250.0 192.3 L1250.5 192.5 L1251.0 192.7 L1251.5 192.9 L1252.0 193.1 L1252.5 193.3 L1253.0 193.5 L1253.5 193.7 L1254.0 193.9 L1254.5 194.2 L1255.0 194.4 L1255.5 194.7 L1256.0 194.9 L1256.5 195.2 L1257.0 195.4 L1257.5 195.7 L1258.0 196.0 L1258.5 196.2 L1259.0 196.5 L1259.5 196.7 L1260.0 196.9 L1260.5 197.2 L1261.0 197.4 L1261.5 197.6 L1262.0 197.8 L1262.5 198.0 L1263.0 198.2 L1263.5 198.4 L1264.0 198.6 L1264.5 198.8 L1265.0 199.0 L1265.5 199.3 L1266.0 199.5 L1266.5 199.8 L1267.0 200.1 L1267.5 200.4 L1268.0 200.7 L1268.5 201.1 L1269.0 201.4 L1269.5 201.7 L1270.0 202.0 L1270.5 202.2 L1271.0 202.4 L1271.5 202.5 L1272.0 202.5 L1272.5 202.3 L1273.0 202.0 L1273.5 201.7 L1274.0 201.4 L1274.5 201.0 L1275.0 200.6 L1275.5 200.2 L1276.0 199.9 L1276.5 199.6 L1277.0 199.3 L1277.5 199.2 L1278.0 199.0 L1278.5 198.9 L1279.0 198.9 L1279.5 198.9 L1280.0 198.9 L1280.5 199.0 L1281.0 199.0 L1281.5 199.1 L1282.0 199.2 L1282.5 199.4 L1283.0 199.5 L1283.5 199.7 L1284.0 199.8 L1284.5 200.0 L1285.0 200.2 L1285.5 200.4 L1286.0 200.6 L1286.5 200.8 L1287.0 201.1 L1287.5 201.4 L1288.0 201.8 L1288.5 202.2 L1289.0 202.6 L1289.5 203.1 L1290.0 203.5 L1290.5 204.0 L1291.0 204.4 L1291.5 204.9 L1292.0 205.3 L1292.5 205.8 L1293.0 206.2 L1293.5 206.7 L1294.0 207.2 L1294.5 207.6 L1295.0 208.0 L1295.5 208.4 L1296.0 208.8 L1296.5 209.1 L1297.0 209.4 L1297.5 209.8 L1298.0 210.1 L1298.5 210.5 L1299.0 210.8 L1299.5 211.1 L1300.0 211.4 L1300.5 211.8 L1301.0 212.1 L1301.5 212.7 L1302.0 213.8 L1302.5 215.3 L1303.0 216.9 L1303.5 218.5 L1304.0 220.3 L1304.5 222.0 L1305.0 223.6 L1305.5 225.0 L1306.0 226.3 L1306.5 227.3 L1307.0 228.0 L1307.5 228.6 L1308.0 229.1 L1308.5 229.9 L1309.0 231.0 L1309.5 232.2 L1310.0 233.7 L1310.5 235.3 L1311.0 237.1 L1311.5 239.1 L1312.0 241.3 L1312.5 243.2 L1313.0 244.9 L1313.5 246.2 L1314.0 247.4 L1314.5 248.3 L1315.0 248.7 L1315.5 248.5 L1316.0 247.4 L1316.5 246.0 L1317.0 244.4 L1317.5 242.9 L1318.0 241.3 L1318.5 239.6 L1319.0 238.0 L1319.5 236.6 L1320.0 235.8 L1320.5 235.6 L1321.0 235.8 L1321.5 236.3 L1322.0 236.8 L1322.5 237.3 L1323.0 237.8 L1323.5 238.4 L1324.0 239.0 L1324.5 239.6 L1325.0 240.1 L1325.5 240.5 L1326.0 240.7 L1326.5 240.9 L1327.0 240.9 L1327.5 240.9 L1328.0 240.9 L1328.5 240.9 L1329.0 240.9 L1329.5 240.8 L1330.0 240.7 L1330.5 240.5 L1331.0 240.1 L1331.5 239.6 L1332.0 239.1 L1332.5 238.5 L1333.0 237.9 L1333.5 237.2 L1334.0 236.5 L1334.5 235.8 L1335.0 235.1 L1335.5 234.4 L1336.0 233.6 L1336.5 232.9 L1337.0 232.2 L1337.5 231.5 L1338.0 230.9 L1338.5 230.3 L1339.0 229.9 L1339.5 229.7 L1340.0 229.7 L1340.5 229.9 L1341.0 230.2 L1341.5 230.8 L1342.0 231.7 L1342.5 232.9 L1343.0 234.4 L1343.5 236.2 L1344.0 238.2 L1344.5 240.3 L1345.0 242.7 L1345.5 245.3 L1346.0 247.7 L1346.5 249.6 L1347.0 251.1 L1347.5 252.2 L1348.0 253.0 L1348.5 253.5 L1349.0 253.8 L1349.5 254.0 L1350.0 254.3 L1350.5 254.8 L1351.0 255.4 L1351.5 256.2 L1352.0 257.1 L1352.5 258.3 L1353.0 260.0 L1353.5 262.1 L1354.0 264.4 L1354.5 267.1 L1355.0 269.6 L1355.5 271.8 L1356.0 273.6 L1356.5 274.6 L1357.0 273.5 L1357.5 270.5 L1358.0 267.0 L1358.5 263.3 L1359.0 259.3 L1359.5 255.4 L1360.0 251.5 L1360.5 247.7 L1361.0 244.1 L1361.5 240.7 L1362.0 237.6 L1362.5 235.4 L1363.0 233.6 L1363.5 232.2 L1364.0 231.4 L1364.5 231.6 L1365.0 232.7 L1365.5 234.4 L1366.0 236.6 L1366.5 239.4 L1367.0 242.4 L1367.5 244.7 L1368.0 246.4 L1368.5 247.4 L1369.0 247.7 L1369.5 247.1 L1370.0 245.5 L1370.5 242.6 L1371.0 239.4 L1371.5 236.1 L1372.0 232.6 L1372.5 229.0 L1373.0 225.3 L1373.5 221.8 L1374.0 218.8 L1374.5 216.1 L1375.0 213.7 L1375.5 211.6 L1376.0 209.7 L1376.5 208.1 L1377.0 207.0 L1377.5 206.1 L1378.0 205.3 L1378.5 204.8 L1379.0 204.4 L1379.5 204.2 L1380.0 203.9 L1380.5 203.7 L1381.0 203.5 L1381.5 203.4 L1382.0 203.3 L1382.5 203.2 L1383.0 203.2 L1383.5 203.2 L1384.0 203.3 L1384.5 203.3 L1385.0 203.3 L1385.5 203.3 L1386.0 203.1 L1386.5 202.9 L1387.0 202.7 L1387.5 202.5 L1388.0 202.2 L1388.5 202.0 L1389.0 201.8 L1389.5 201.6 L1390.0 201.4 L1390.5 201.3 L1391.0 201.1 L1391.5 200.9 L1392.0 200.8 L1392.5 200.6 L1393.0 200.5 L1393.5 200.4 L1394.0 200.3 L1394.5 200.2 L1395.0 200.1 L1395.5 200.1 L1396.0 200.0 L1396.5 199.9 L1397.0 199.9 L1397.5 199.8 L1398.0 199.8 L1398.5 199.7 L1399.0 199.6 L1399.5 199.6 L1400.0 199.5 L1400.5 199.5 L1401.0 199.4 L1401.5 199.4 L1402.0 199.3 L1402.5 199.3 L1403.0 199.2 L1403.5 199.2 L1404.0 199.1 L1404.5 199.1 L1405.0 199.0 L1405.5 199.0 L1406.0 198.9 L1406.5 198.9 L1407.0 198.8 L1407.5 198.8 L1408.0 198.7 L1408.5 198.7" stroke="#000" stroke-width="1.2"/>
<path d="M1134.1 190.5 L1134.6 190.5 L1135.1 190.5 L1135.6 190.5 L1136.1 190.5 L1136.6 190.5 L1137.1 190.5 L1137.6 190.5 L1138.1 190.5 L1138.6 190.5 L1139.1 190.5 L1139.6 190.5 L1140.1 190.5 L1140.6 190.5 L1141.1 190.5 L1141.6 190.5 L1142.1 190.5 L1142.6 190.5 L1143.1 190.5 L1143.6 190.5 L1144.1 190.5 L1144.6 190.5 L1145.1 190.5 L1145.6 190.5 L1146.1 190.5 L1146.6 190.5 L1147.1 190.5 L1147.6 190.5 L1148.1 190.5 L1148.6 190.5 L1149.1 190.5 L1149.6 190.5 L1150.1 190.5 L1150.6 190.5 L1151.1 190.5 L1151.6 190.5 L1152.1 190.5 L1152.6 190.5 L1153.1 190.5 L1153.6 190.5 L1154.1 190.5 L1154.6 190.5 L1155.1 190.5 L1155.6 190.5 L1156.1 190.5 L1156.6 190.5 L1157.1 190.5 L1157.6 190.6 L1158.1 190.6 L1158.6 190.6 L1159.1 190.6 L1159.6 190.6 L1160.1 190.6 L1160.6 190.6 L1161.1 190.6 L1161.6 190.6 L1162.1 190.6 L1162.6 190.6 L1163.1 190.6 L1163.6 190.7 L1164.1 190.7 L1164.6 190.7 L1165.1 190.7 L1165.6 190.8 L1166.1 190.8 L1166.6 190.8 L1167.1 190.9 L1167.6 190.9 L1168.1 190.9 L1168.6 191.0 L1169.1 191.0 L1169.6 191.1 L1170.1 191.1 L1170.6 191.1 L1171.1 191.2 L1171.6 191.3 L1172.1 191.3 L1172.6 191.4 L1173.1 191.4 L1173.6 191.5 L1174.1 191.5 L1174.6 191.6 L1175.1 191.6 L1175.6 191.7 L1176.1 191.7 L1176.6 191.8 L1177.1 191.8 L1177.6 191.9 L1178.1 192.0 L1178.6 192.0 L1179.1 192.1 L1179.6 192.1 L1180.1 192.2 L1180.6 192.2 L1181.1 192.3 L1181.6 192.3 L1182.1 192.4 L1182.6 192.4 L1183.1 192.5 L1183.6 192.5 L1184.1 192.6 L1184.6 192.6 L1185.1 192.7 L1185.6 192.7 L1186.1 192.8 L1186.6 192.8 L1187.1 192.9 L1187.6 192.9 L1188.1 192.9 L1188.6 193.0 L1189.1 193.0 L1189.6 193.1 L1190.1 193.1 L1190.6 193.2 L1191.1 193.2 L1191.6 193.3 L1192.1 193.3 L1192.6 193.4 L1193.1 193.4 L1193.6 193.5 L1194.1 193.5 L1194.6 193.6 L1195.1 193.6 L1195.6 193.7 L1196.1 193.7 L1196.6 193.8 L1197.1 193.8 L1197.6 193.9 L1198.1 194.0 L1198.6 194.0 L1199.1 194.1 L1199.6 194.1 L1200.1 194.2 L1200.6 194.2 L1201.1 194.3 L1201.6 194.4 L1202.1 194.4 L1202.6 194.5 L1203.1 194.5 L1203.6 194.6 L1204.1 194.7 L1204.6 194.7 L1205.1 194.8 L1205.6 194.9 L1206.1 194.9 L1206.6 195.0 L1207.1 195.1 L1207.6 195.1 L1208.1 195.2 L1208.6 195.3 L1209.1 195.3 L1209.6 195.4 L1210.1 195.5 L1210.6 195.5 L1211.1 195.6 L1211.6 195.7 L1212.1 195.8 L1212.6 195.8 L1213.1 195.9 L1213.6 196.0 L1214.1 196.1 L1214.6 196.2 L1215.1 196.3 L1215.6 196.4 L1216.1 196.6 L1216.6 196.7 L1217.1 196.8 L1217.6 196.9 L1218.1 197.0 L1218.6 197.1 L1219.1 197.2 L1219.6 197.3 L1220.1 197.4 L1220.6 197.4 L1221.1 197.5 L1221.6 197.6 L1222.1 197.7 L1222.6 197.7 L1223.1 197.8 L1223.6 197.9 L1224.1 197.9 L1224.6 197.9 L1225.1 197.7 L1225.6 197.6 L1226.1 197.5 L1226.6 197.6 L1227.1 198.1 L1227.6 198.8 L1228.1 199.6 L1228.6 200.7 L1229.1 202.2 L1229.6 204.0 L1230.1 206.4 L1230.6 209.3 L1231.1 212.6 L1231.6 216.1 L1232.1 219.8 L1232.6 223.1 L1233.1 226.0 L1233.6 228.5 L1234.1 230.7 L1234.6 231.7 L1235.1 230.2 L1235.6 225.9 L1236.1 221.7 L1236.6 217.8 L1237.1 214.1 L1237.6 210.5 L1238.1 207.3 L1238.6 204.5 L1239.1 201.9 L1239.6 199.7 L1240.1 198.0 L1240.6 196.7 L1241.1 196.0 L1241.6 195.3 L1242.1 194.7 L1242.6 194.2 L1243.1 193.8 L1243.6 193.4 L1244.1 193.2 L1244.6 193.0 L1245.1 192.9 L1245.6 192.8 L1246.1 192.7 L1246.6 192.5 L1247.1 192.5 L1247.6 192.4 L1248.1 192.4 L1248.6 192.4 L1249.1 192.4 L1249.6 192.5 L1250.1 192.7 L1250.6 192.8 L1251.1 192.9 L1251.6 193.1 L1252.1 193.2 L1252.6 193.4 L1253.1 193.5 L1253.6 193.7 L1254.1 193.9 L1254.6 194.1 L1255.1 194.3 L1255.6 194.6 L1256.1 194.8 L1256.6 195.0 L1257.1 195.2 L1257.6 195.4 L1258.1 195.6 L1258.6 195.9 L1259.1 196.1 L1259.6 196.3 L1260.1 196.5 L1260.6 196.7 L1261.1 196.9 L1261.6 197.1 L1262.1 197.4 L1262.6 197.6 L1263.1 197.8 L1263.6 198.0 L1264.1 198.2 L1264.6 198.4 L1265.1 198.6 L1265.6 198.8 L1266.1 199.1 L1266.6 199.3 L1267.1 199.5 L1267.6 199.8 L1268.1 200.1 L1268.6 200.4 L1269.1 200.7 L1269.6 201.1 L1270.1 201.4 L1270.6 201.7 L1271.1 202.0 L1271.6 202.2 L1272.1 202.4 L1272.6 202.5 L1273.1 202.5 L1273.6 202.3 L1274.1 202.0 L1274.6 201.7 L1275.1 201.4 L1275.6 201.0 L1276.1 200.6 L1276.6 200.2 L1277.1 199.9 L1277.6 199.6 L1278.1 199.3 L1278.6 199.2 L1279.1 199.0 L1279.6 198.9 L1280.1 198.9 L1280.6 198.9 L1281.1 198.9 L1281.6 199.0 L1282.1 199.0 L1282.6 199.1 L1283.1 199.2 L1283.6 199.4 L1284.1 199.5 L1284.6 199.7 L1285.1 199.8 L1285.6 200.0 L1286.1 200.2 L1286.6 200.4 L1287.1 200.6 L1287.6 200.8 L1288.1 201.1 L1288.6 201.4 L1289.1 201.8 L1289.6 202.2 L1290.1 202.6 L1290.6 203.1 L1291.1 203.5 L1291.6 204.0 L1292.1 204.4 L1292.6 204.9 L1293.1 205.3 L1293.6 205.8 L1294.1 206.2 L1294.6 206.7 L1295.1 207.2 L1295.6 207.6 L1296.1 208.0 L1296.6 208.4 L1297.1 208.8 L1297.6 209.1 L1298.1 209.4 L1298.6 209.8 L1299.1 210.1 L1299.6 210.5 L1300.1 210.8 L1300.6 211.1 L1301.1 211.4 L1301.6 211.8 L1302.1 212.1 L1302.6 212.7 L1303.1 213.8 L1303.6 215.3 L1304.1 216.9 L1304.6 218.5 L1305.1 220.3 L1305.6 222.0 L1306.1 223.6 L1306.6 225.0 L1307.1 226.3 L1307.6 227.3 L1308.1 228.0 L1308.6 228.6 L1309.1 229.1 L1309.6 229.9 L1310.1 231.0 L1310.6 232.2 L1311.1 233.7 L1311.6 235.3 L1312.1 237.1 L1312.6 239.1 L1313.1 241.3 L1313.6 243.2 L1314.1 244.9 L1314.6 246.2 L1315.1 247.4 L1315.6 248.3 L1316.1 248.7 L1316.6 248.5 L1317.1 247.4 L1317.6 246.0 L1318.1 244.4 L1318.6 242.9 L1319.1 241.3 L1319.6 239.6 L1320.1 238.0 L1320.6 236.6 L1321.1 235.8 L1321.6 235.6 L1322.1 235.8 L1322.6 236.3 L1323.1 236.8 L1323.6 237.3 L1324.1 237.8 L1324.6 238.4 L1325.1 239.0 L1325.6 239.6 L1326.1 240.1 L1326.6 240.5 L1327.1 240.7 L1327.6 240.9 L1328.1 240.9 L1328.6 240.9 L1329.1 240.9 L1329.6 240.9 L1330.1 240.9 L1330.6 240.8 L1331.1 240.7 L1331.6 240.5 L1332.1 240.1 L1332.6 239.6 L1333.1 239.1 L1333.6 238.5 L1334.1 237.9 L1334.6 237.2 L1335.1 236.5 L1335.6 235.8 L1336.1 235.1 L1336.6 234.4 L1337.1 233.6 L1337.6 232.9 L1338.1 232.2 L1338.6 231.5 L1339.1 230.9 L1339.6 230.3 L1340.1 229.9 L1340.6 229.7 L1341.1 229.7 L1341.6 229.9 L1342.1 230.2 L1342.6 230.8 L1343.1 231.7 L1343.6 232.9 L1344.1 234.4 L1344.6 236.2 L1345.1 238.2 L1345.6 240.3 L1346.1 242.7 L1346.6 245.3 L1347.1 247.7 L1347.6 249.6 L1348.1 251.1 L1348.6 252.2 L1349.1 253.0 L1349.6 253.5 L1350.1 253.8 L1350.6 254.0 L1351.1 254.3 L1351.6 254.8 L1352.1 255.4 L1352.6 256.2 L1353.1 257.1 L1353.6 258.3 L1354.1 260.0 L1354.6 262.1 L1355.1 264.4 L1355.6 267.1 L1356.1 269.6 L1356.6 271.8 L1357.1 273.6 L1357.6 274.6 L1358.1 273.5 L1358.6 270.5 L1359.1 267.0 L1359.6 263.3 L1360.1 259.3 L1360.6 255.4 L1361.1 251.5 L1361.6 247.7 L1362.1 244.1 L1362.6 240.7 L1363.1 237.6 L1363.6 235.4 L1364.1 233.6 L1364.6 232.2 L1365.1 231.4 L1365.6 231.6 L1366.1 232.7 L1366.6 234.4 L1367.1 236.6 L1367.6 239.4 L1368.1 242.4 L1368.6 244.7 L1369.1 246.4 L1369.6 247.4 L1370.1 247.7 L1370.6 247.1 L1371.1 245.5 L1371.6 242.6 L1372.1 239.4 L1372.6 236.1 L1373.1 232.6 L1373.6 229.0 L1374.1 225.3 L1374.6 221.8 L1375.1 218.8 L1375.6 216.1 L1376.1 213.7 L1376.6 211.6 L1377.1 209.7 L1377.6 208.1 L1378.1 207.0 L1378.6 206.1 L1379.1 205.3 L1379.6 204.8 L1380.1 204.4 L1380.6 204.2 L1381.1 203.9 L1381.6 203.7 L1382.1 203.5 L1382.6 203.4 L1383.1 203.3 L1383.6 203.2 L1384.1 203.2 L1384.6 203.2 L1385.1 203.3 L1385.6 203.3 L1386.1 203.3 L1386.6 203.3 L1387.1 203.1 L1387.6 202.9 L1388.1 202.7 L1388.6 202.5 L1389.1 202.2 L1389.6 202.0 L1390.1 201.8 L1390.6 201.6 L1391.1 201.4 L1391.6 201.3 L1392.1 201.1 L1392.6 200.9 L1393.1 200.8 L1393.6 200.6 L1394.1 200.5 L1394.6 200.4 L1395.1 200.3 L1395.6 200.2 L1396.1 200.1 L1396.6 200.1 L1397.1 200.0 L1397.6 199.9 L1398.1 199.9 L1398.6 199.8 L1399.1 199.8 L1399.6 199.7 L1400.1 199.6 L1400.6 199.6 L1401.1 199.5 L1401.6 199.5 L1402.1 199.4 L1402.6 199.4 L1403.1 199.3 L1403.6 199.3 L1404.1 199.2 L1404.6 199.2 L1405.1 199.1 L1405.6 199.1 L1406.1 199.0 L1406.6 199.0 L1407.1 198.9 L1407.6 198.9 L1408.1 198.8 L1408.6 198.8 L1409.1 198.7 L1409.6 198.7" stroke="#3f1678" stroke-width="1.4" stroke-dasharray="3.5 1.8"/>
<path d="M1132.5 190.5 L1133.0 190.5 L1133.5 190.5 L1134.0 190.5 L1134.5 190.5 L1135.0 190.5 L1135.5 190.5 L1136.0 190.5 L1136.5 190.5 L1137.0 190.5 L1137.5 190.5 L1138.0 190.5 L1138.5 190.5 L1139.0 190.5 L1139.5 190.5 L1140.0 190.5 L1140.5 190.5 L1141.0 190.5 L1141.5 190.5 L1142.0 190.5 L1142.5 190.5 L1143.0 190.5 L1143.5 190.5 L1144.0 190.5 L1144.5 190.5 L1145.0 190.5 L1145.5 190.5 L1146.0 190.5 L1146.5 190.5 L1147.0 190.5 L1147.5 190.5 L1148.0 190.5 L1148.5 190.5 L1149.0 190.5 L1149.5 190.5 L1150.0 190.5 L1150.5 190.5 L1151.0 190.5 L1151.5 190.5 L1152.0 190.5 L1152.5 190.5 L1153.0 190.5 L1153.5 190.5 L1154.0 190.5 L1154.5 190.5 L1155.0 190.5 L1155.5 190.5 L1156.0 190.6 L1156.5 190.6 L1157.0 190.6 L1157.5 190.6 L1158.0 190.6 L1158.5 190.6 L1159.0 190.6 L1159.5 190.6 L1160.0 190.6 L1160.5 190.6 L1161.0 190.6 L1161.5 190.6 L1162.0 190.7 L1162.5 190.7 L1163.0 190.7 L1163.5 190.7 L1164.0 190.8 L1164.5 190.8 L1165.0 190.8 L1165.5 190.9 L1166.0 190.9 L1166.5 190.9 L1167.0 191.0 L1167.5 191.0 L1168.0 191.1 L1168.5 191.1 L1169.0 191.1 L1169.5 191.2 L1170.0 191.3 L1170.5 191.3 L1171.0 191.4 L1171.5 191.4 L1172.0 191.5 L1172.5 191.5 L1173.0 191.6 L1173.5 191.6 L1174.0 191.7 L1174.5 191.7 L1175.0 191.8 L1175.5 191.8 L1176.0 191.9 L1176.5 191.9 L1177.0 192.0 L1177.5 192.1 L1178.0 192.1 L1178.5 192.2 L1179.0 192.2 L1179.5 192.3 L1180.0 192.3 L1180.5 192.4 L1181.0 192.4 L1181.5 192.5 L1182.0 192.5 L1182.5 192.6 L1183.0 192.6 L1183.5 192.7 L1184.0 192.7 L1184.5 192.8 L1185.0 192.8 L1185.5 192.9 L1186.0 192.9 L1186.5 192.9 L1187.0 193.0 L1187.5 193.0 L1188.0 193.1 L1188.5 193.1 L1189.0 193.2 L1189.5 193.2 L1190.0 193.3 L1190.5 193.3 L1191.0 193.4 L1191.5 193.4 L1192.0 193.5 L1192.5 193.5 L1193.0 193.6 L1193.5 193.7 L1194.0 193.7 L1194.5 193.8 L1195.0 193.9 L1195.5 193.9 L1196.0 194.0 L1196.5 194.1 L1197.0 194.2 L1197.5 194.2 L1198.0 194.3 L1198.5 194.4 L1199.0 194.5 L1199.5 194.6 L1200.0 194.7 L1200.5 194.8 L1201.0 194.9 L1201.5 195.0 L1202.0 195.1 L1202.5 195.2 L1203.0 195.3 L1203.5 195.4 L1204.0 195.5 L1204.5 195.6 L1205.0 195.7 L1205.5 195.8 L1206.0 195.9 L1206.5 196.0 L1207.0 196.1 L1207.5 196.3 L1208.0 196.4 L1208.5 196.5 L1209.0 196.6 L1209.5 196.7 L1210.0 196.9 L1210.5 197.0 L1211.0 197.1 L1211.5 197.3 L1212.0 197.5 L1212.5 197.8 L1213.0 198.0 L1213.5 198.3 L1214.0 198.6 L1214.5 198.8 L1215.0 199.1 L1215.5 199.3 L1216.0 199.4 L1216.5 199.6 L1217.0 199.7 L1217.5 199.7 L1218.0 199.8 L1218.5 199.8 L1219.0 199.9 L1219.5 199.9 L1220.0 200.0 L1220.5 200.0 L1221.0 200.0 L1221.5 199.9 L1222.0 199.8 L1222.5 199.7 L1223.0 199.6 L1223.5 199.5 L1224.0 199.4 L1224.5 199.4 L1225.0 199.6 L1225.5 200.3 L1226.0 201.7 L1226.5 203.8 L1227.0 206.0 L1227.5 208.4 L1228.0 210.9 L1228.5 213.5 L1229.0 216.0 L1229.5 218.2 L1230.0 220.0 L1230.5 221.0 L1231.0 220.3 L1231.5 218.9 L1232.0 217.5 L1232.5 215.7 L1233.0 213.3 L1233.5 210.6 L1234.0 208.1 L1234.5 205.8 L1235.0 203.7 L1235.5 201.8 L1236.0 200.3 L1236.5 199.2 L1237.0 198.2 L1237.5 197.5 L1238.0 197.0 L1238.5 196.6 L1239.0 196.1 L1239.5 195.8 L1240.0 195.4 L1240.5 195.1 L1241.0 194.8 L1241.5 194.5 L1242.0 194.4 L1242.5 194.2 L1243.0 194.0 L1243.5 193.9 L1244.0 193.7 L1244.5 193.6 L1245.0 193.4 L1245.5 193.3 L1246.0 193.2 L1246.5 193.1 L1247.0 193.0 L1247.5 192.9 L1248.0 192.8 L1248.5 192.8 L1249.0 192.8 L1249.5 192.8 L1250.0 192.8 L1250.5 192.9 L1251.0 193.0 L1251.5 193.1 L1252.0 193.3 L1252.5 193.5 L1253.0 193.7 L1253.5 193.9 L1254.0 194.2 L1254.5 194.4 L1255.0 194.7 L1255.5 194.9 L1256.0 195.2 L1256.5 195.5 L1257.0 195.7 L1257.5 196.0 L1258.0 196.2 L1258.5 196.5 L1259.0 196.7 L1259.5 196.9 L1260.0 197.2 L1260.5 197.4 L1261.0 197.6 L1261.5 197.8 L1262.0 198.0 L1262.5 198.2 L1263.0 198.4 L1263.5 198.6 L1264.0 198.8 L1264.5 199.0 L1265.0 199.3 L1265.5 199.5 L1266.0 199.8 L1266.5 200.1 L1267.0 200.4 L1267.5 200.7 L1268.0 201.1 L1268.5 201.4 L1269.0 201.7 L1269.5 202.0 L1270.0 202.2 L1270.5 202.4 L1271.0 202.5 L1271.5 202.5 L1272.0 202.3 L1272.5 202.0 L1273.0 201.7 L1273.5 201.4 L1274.0 201.0 L1274.5 200.6 L1275.0 200.2 L1275.5 199.9 L1276.0 199.6 L1276.5 199.3 L1277.0 199.2 L1277.5 199.0 L1278.0 198.9 L1278.5 198.9 L1279.0 198.9 L1279.5 198.9 L1280.0 199.0 L1280.5 199.0 L1281.0 199.1 L1281.5 199.2 L1282.0 199.4 L1282.5 199.5 L1283.0 199.7 L1283.5 199.8 L1284.0 200.0 L1284.5 200.2 L1285.0 200.4 L1285.5 200.6 L1286.0 200.8 L1286.5 201.1 L1287.0 201.4 L1287.5 201.8 L1288.0 202.2 L1288.5 202.6 L1289.0 203.1 L1289.5 203.5 L1290.0 204.0 L1290.5 204.4 L1291.0 204.9 L1291.5 205.3 L1292.0 205.8 L1292.5 206.2 L1293.0 206.7 L1293.5 207.2 L1294.0 207.6 L1294.5 208.0 L1295.0 208.4 L1295.5 208.8 L1296.0 209.1 L1296.5 209.4 L1297.0 209.8 L1297.5 210.1 L1298.0 210.5 L1298.5 210.8 L1299.0 211.2 L1299.5 211.5 L1300.0 211.8 L1300.5 212.2 L1301.0 212.4 L1301.5 212.4 L1302.0 212.6 L1302.5 213.3 L1303.0 214.3 L1303.5 215.5 L1304.0 216.8 L1304.5 218.2 L1305.0 219.5 L1305.5 220.7 L1306.0 221.7 L1306.5 222.4 L1307.0 223.1 L1307.5 223.7 L1308.0 224.3 L1308.5 224.9 L1309.0 225.7 L1309.5 226.6 L1310.0 227.7 L1310.5 229.2 L1311.0 230.8 L1311.5 232.6 L1312.0 234.2 L1312.5 235.7 L1313.0 237.1 L1313.5 238.5 L1314.0 239.9 L1314.5 240.9 L1315.0 241.6 L1315.5 241.8 L1316.0 241.7 L1316.5 241.6 L1317.0 241.5 L1317.5 241.3 L1318.0 241.1 L1318.5 240.9 L1319.0 240.7 L1319.5 240.5 L1320.0 240.3 L1320.5 240.2 L1321.0 240.0 L1321.5 239.8 L1322.0 239.7 L1322.5 239.6 L1323.0 239.5 L1323.5 239.4 L1324.0 239.3 L1324.5 239.3 L1325.0 239.2 L1325.5 239.1 L1326.0 239.0 L1326.5 238.8 L1327.0 238.6 L1327.5 238.3 L1328.0 237.9 L1328.5 237.6 L1329.0 237.2 L1329.5 236.8 L1330.0 236.4 L1330.5 235.9 L1331.0 235.5 L1331.5 235.1 L1332.0 234.7 L1332.5 234.2 L1333.0 233.8 L1333.5 233.3 L1334.0 232.8 L1334.5 232.4 L1335.0 231.9 L1335.5 231.5 L1336.0 231.1 L1336.5 230.7 L1337.0 230.5 L1337.5 230.2 L1338.0 230.0 L1338.5 229.9 L1339.0 229.8 L1339.5 229.7 L1340.0 229.7 L1340.5 230.0 L1341.0 230.7 L1341.5 231.6 L1342.0 232.9 L1342.5 234.4 L1343.0 236.2 L1343.5 238.2 L1344.0 240.3 L1344.5 242.7 L1345.0 245.3 L1345.5 247.7 L1346.0 249.6 L1346.5 251.1 L1347.0 252.2 L1347.5 253.0 L1348.0 253.5 L1348.5 253.8 L1349.0 254.0 L1349.5 254.3 L1350.0 254.8 L1350.5 255.4 L1351.0 256.2 L1351.5 257.1 L1352.0 258.3 L1352.5 260.0 L1353.0 262.1 L1353.5 264.4 L1354.0 267.1 L1354.5 269.6 L1355.0 271.8 L1355.5 273.6 L1356.0 274.6 L1356.5 273.5 L1357.0 270.5 L1357.5 267.0 L1358.0 263.3 L1358.5 259.3 L1359.0 255.4 L1359.5 251.5 L1360.0 247.7 L1360.5 244.1 L1361.0 240.7 L1361.5 237.6 L1362.0 235.4 L1362.5 233.6 L1363.0 232.2 L1363.5 231.4 L1364.0 231.6 L1364.5 232.7 L1365.0 234.4 L1365.5 236.6 L1366.0 239.4 L1366.5 242.3 L1367.0 244.8 L1367.5 246.4 L1368.0 247.4 L1368.5 247.6 L1369.0 245.0 L1369.5 238.8 L1370.0 232.4 L1370.5 228.2 L1371.0 224.5 L1371.5 221.3 L1372.0 218.3 L1372.5 215.6 L1373.0 213.3 L1373.5 211.2 L1374.0 209.3 L1374.5 207.9 L1375.0 206.8 L1375.5 205.9 L1376.0 205.2 L1376.5 204.7 L1377.0 204.4 L1377.5 204.1 L1378.0 203.9 L1378.5 203.8 L1379.0 203.6 L1379.5 203.4 L1380.0 203.3 L1380.5 203.2 L1381.0 203.2 L1381.5 203.2 L1382.0 203.2 L1382.5 203.3 L1383.0 203.3 L1383.5 203.3 L1384.0 203.4 L1384.5 203.3 L1385.0 203.3 L1385.5 203.1 L1386.0 202.9 L1386.5 202.7 L1387.0 202.5 L1387.5 202.2 L1388.0 202.0 L1388.5 201.8 L1389.0 201.6 L1389.5 201.4 L1390.0 201.3 L1390.5 201.1 L1391.0 200.9 L1391.5 200.8 L1392.0 200.6 L1392.5 200.5 L1393.0 200.4 L1393.5 200.3 L1394.0 200.2 L1394.5 200.1 L1395.0 200.1 L1395.5 200.0 L1396.0 199.9 L1396.5 199.9 L1397.0 199.8 L1397.5 199.8 L1398.0 199.7 L1398.5 199.6 L1399.0 199.6 L1399.5 199.5 L1400.0 199.5 L1400.5 199.4 L1401.0 199.4 L1401.5 199.3 L1402.0 199.3 L1402.5 199.2 L1403.0 199.2 L1403.5 199.1 L1404.0 199.1 L1404.5 199.0 L1405.0 199.0 L1405.5 198.9 L1406.0 198.9 L1406.5 198.8 L1407.0 198.8 L1407.5 198.7 L1408.0 198.7" stroke="#266d16" stroke-width="1.4" stroke-dasharray="1.5 1.9"/>
</g>
<line x1="1132.50" y1="190.50" x2="1427.50" y2="190.50" stroke="#111" stroke-width="0.9" />
<line x1="1385.40" y1="95.00" x2="1385.40" y2="286.00" stroke="#666" stroke-width="1.1" />
<rect x="1132.50" y="95.00" width="295.00" height="191.00" fill="none" stroke="#2e2e2e" stroke-width="1.0"/>
<text x="1132.54" y="300.30" font-size="14.6" text-anchor="middle" font-weight="normal" >-12</text>
<line x1="1153.61" y1="286.00" x2="1153.61" y2="281.40" stroke="#2e2e2e" stroke-width="0.95" />
<line x1="1174.69" y1="286.00" x2="1174.69" y2="277.60" stroke="#2e2e2e" stroke-width="0.95" />
<text x="1174.69" y="300.30" font-size="14.6" text-anchor="middle" font-weight="normal" >-10</text>
<line x1="1195.76" y1="286.00" x2="1195.76" y2="281.40" stroke="#2e2e2e" stroke-width="0.95" />
<line x1="1216.83" y1="286.00" x2="1216.83" y2="277.60" stroke="#2e2e2e" stroke-width="0.95" />
<text x="1216.83" y="300.30" font-size="14.6" text-anchor="middle" font-weight="normal" >-8</text>
<line x1="1237.90" y1="286.00" x2="1237.90" y2="281.40" stroke="#2e2e2e" stroke-width="0.95" />
<line x1="1258.97" y1="286.00" x2="1258.97" y2="277.60" stroke="#2e2e2e" stroke-width="0.95" />
<text x="1258.97" y="300.30" font-size="14.6" text-anchor="middle" font-weight="normal" >-6</text>
<line x1="1280.04" y1="286.00" x2="1280.04" y2="281.40" stroke="#2e2e2e" stroke-width="0.95" />
<line x1="1301.11" y1="286.00" x2="1301.11" y2="277.60" stroke="#2e2e2e" stroke-width="0.95" />
<text x="1301.11" y="300.30" font-size="14.6" text-anchor="middle" font-weight="normal" >-4</text>
<line x1="1322.19" y1="286.00" x2="1322.19" y2="281.40" stroke="#2e2e2e" stroke-width="0.95" />
<line x1="1343.26" y1="286.00" x2="1343.26" y2="277.60" stroke="#2e2e2e" stroke-width="0.95" />
<text x="1343.26" y="300.30" font-size="14.6" text-anchor="middle" font-weight="normal" >-2</text>
<line x1="1364.33" y1="286.00" x2="1364.33" y2="281.40" stroke="#2e2e2e" stroke-width="0.95" />
<line x1="1385.40" y1="286.00" x2="1385.40" y2="277.60" stroke="#2e2e2e" stroke-width="0.95" />
<text x="1385.40" y="300.30" font-size="14.6" text-anchor="middle" font-weight="normal" >0</text>
<line x1="1406.47" y1="286.00" x2="1406.47" y2="281.40" stroke="#2e2e2e" stroke-width="0.95" />
<text x="1427.54" y="300.30" font-size="14.6" text-anchor="middle" font-weight="normal" >2</text>
<line x1="1156.05" y1="95.00" x2="1156.05" y2="103.40" stroke="#2e2e2e" stroke-width="0.95" />
<text x="1156.05" y="90.80" font-size="14.6" text-anchor="middle" font-weight="normal" >-0.8</text>
<line x1="1184.72" y1="95.00" x2="1184.72" y2="99.60" stroke="#2e2e2e" stroke-width="0.95" />
<line x1="1213.39" y1="95.00" x2="1213.39" y2="103.40" stroke="#2e2e2e" stroke-width="0.95" />
<text x="1213.39" y="90.80" font-size="14.6" text-anchor="middle" font-weight="normal" >-0.6</text>
<line x1="1242.05" y1="95.00" x2="1242.05" y2="99.60" stroke="#2e2e2e" stroke-width="0.95" />
<line x1="1270.72" y1="95.00" x2="1270.72" y2="103.40" stroke="#2e2e2e" stroke-width="0.95" />
<text x="1270.72" y="90.80" font-size="14.6" text-anchor="middle" font-weight="normal" >-0.4</text>
<line x1="1299.39" y1="95.00" x2="1299.39" y2="99.60" stroke="#2e2e2e" stroke-width="0.95" />
<line x1="1328.06" y1="95.00" x2="1328.06" y2="103.40" stroke="#2e2e2e" stroke-width="0.95" />
<text x="1328.06" y="90.80" font-size="14.6" text-anchor="middle" font-weight="normal" >-0.2</text>
<line x1="1356.73" y1="95.00" x2="1356.73" y2="99.60" stroke="#2e2e2e" stroke-width="0.95" />
<line x1="1385.40" y1="95.00" x2="1385.40" y2="103.40" stroke="#2e2e2e" stroke-width="0.95" />
<text x="1385.40" y="90.80" font-size="14.6" text-anchor="middle" font-weight="normal" >0.0</text>
<line x1="1414.07" y1="95.00" x2="1414.07" y2="99.60" stroke="#2e2e2e" stroke-width="0.95" />
<line x1="1132.50" y1="276.48" x2="1140.70" y2="276.48" stroke="#2e2e2e" stroke-width="0.95" />
<line x1="1427.50" y1="276.48" x2="1419.30" y2="276.48" stroke="#2e2e2e" stroke-width="0.95" />
<text x="1127.90" y="281.48" font-size="14.7" text-anchor="end" font-weight="normal" >-90</text>
<line x1="1132.50" y1="262.15" x2="1136.90" y2="262.15" stroke="#2e2e2e" stroke-width="0.95" />
<line x1="1427.50" y1="262.15" x2="1423.10" y2="262.15" stroke="#2e2e2e" stroke-width="0.95" />
<line x1="1132.50" y1="247.82" x2="1140.70" y2="247.82" stroke="#2e2e2e" stroke-width="0.95" />
<line x1="1427.50" y1="247.82" x2="1419.30" y2="247.82" stroke="#2e2e2e" stroke-width="0.95" />
<text x="1127.90" y="252.82" font-size="14.7" text-anchor="end" font-weight="normal" >-60</text>
<line x1="1132.50" y1="233.49" x2="1136.90" y2="233.49" stroke="#2e2e2e" stroke-width="0.95" />
<line x1="1427.50" y1="233.49" x2="1423.10" y2="233.49" stroke="#2e2e2e" stroke-width="0.95" />
<line x1="1132.50" y1="219.16" x2="1140.70" y2="219.16" stroke="#2e2e2e" stroke-width="0.95" />
<line x1="1427.50" y1="219.16" x2="1419.30" y2="219.16" stroke="#2e2e2e" stroke-width="0.95" />
<text x="1127.90" y="224.16" font-size="14.7" text-anchor="end" font-weight="normal" >-30</text>
<line x1="1132.50" y1="204.83" x2="1136.90" y2="204.83" stroke="#2e2e2e" stroke-width="0.95" />
<line x1="1427.50" y1="204.83" x2="1423.10" y2="204.83" stroke="#2e2e2e" stroke-width="0.95" />
<line x1="1132.50" y1="190.50" x2="1140.70" y2="190.50" stroke="#2e2e2e" stroke-width="0.95" />
<line x1="1427.50" y1="190.50" x2="1419.30" y2="190.50" stroke="#2e2e2e" stroke-width="0.95" />
<text x="1127.90" y="195.50" font-size="14.7" text-anchor="end" font-weight="normal" >0</text>
<line x1="1132.50" y1="176.17" x2="1136.90" y2="176.17" stroke="#2e2e2e" stroke-width="0.95" />
<line x1="1427.50" y1="176.17" x2="1423.10" y2="176.17" stroke="#2e2e2e" stroke-width="0.95" />
<line x1="1132.50" y1="161.84" x2="1140.70" y2="161.84" stroke="#2e2e2e" stroke-width="0.95" />
<line x1="1427.50" y1="161.84" x2="1419.30" y2="161.84" stroke="#2e2e2e" stroke-width="0.95" />
<text x="1127.90" y="166.84" font-size="14.7" text-anchor="end" font-weight="normal" >30</text>
<line x1="1132.50" y1="147.51" x2="1136.90" y2="147.51" stroke="#2e2e2e" stroke-width="0.95" />
<line x1="1427.50" y1="147.51" x2="1423.10" y2="147.51" stroke="#2e2e2e" stroke-width="0.95" />
<line x1="1132.50" y1="133.18" x2="1140.70" y2="133.18" stroke="#2e2e2e" stroke-width="0.95" />
<line x1="1427.50" y1="133.18" x2="1419.30" y2="133.18" stroke="#2e2e2e" stroke-width="0.95" />
<text x="1127.90" y="138.18" font-size="14.7" text-anchor="end" font-weight="normal" >60</text>
<line x1="1132.50" y1="118.85" x2="1136.90" y2="118.85" stroke="#2e2e2e" stroke-width="0.95" />
<line x1="1427.50" y1="118.85" x2="1423.10" y2="118.85" stroke="#2e2e2e" stroke-width="0.95" />
<line x1="1132.50" y1="104.52" x2="1140.70" y2="104.52" stroke="#2e2e2e" stroke-width="0.95" />
<line x1="1427.50" y1="104.52" x2="1419.30" y2="104.52" stroke="#2e2e2e" stroke-width="0.95" />
<text x="1127.90" y="109.52" font-size="14.7" text-anchor="end" font-weight="normal" >90</text>
<text x="1147.10" y="116.60" font-size="14.85" text-anchor="start" font-weight="normal" >Minority spin</text>
<text x="1147.10" y="274.20" font-size="14.85" text-anchor="start" font-weight="normal" >Majority spin</text>
</svg>
</body></html>
